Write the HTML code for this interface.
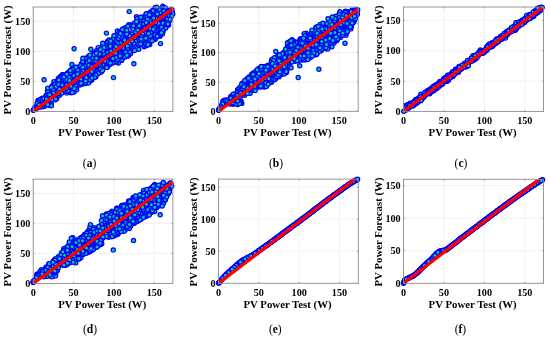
<!DOCTYPE html><html><head><meta charset="utf-8"><title>PV forecast scatter</title><style>html,body{margin:0;padding:0;background:#fff;overflow:hidden}svg{display:block;filter:blur(0.3px)}</style></head><body><svg width="550" height="339" viewBox="0 0 550 339"><rect width="550" height="339" fill="#fff"/><g stroke="#efefef" stroke-width="0.8"><line x1="73.6" y1="7" x2="73.6" y2="111.4"/><line x1="33.2" y1="81.3" x2="172.9" y2="81.3"/><line x1="113.9" y1="7" x2="113.9" y2="111.4"/><line x1="33.2" y1="51.3" x2="172.9" y2="51.3"/><line x1="154.3" y1="7" x2="154.3" y2="111.4"/><line x1="33.2" y1="21.2" x2="172.9" y2="21.2"/></g><g fill="#00cca2" stroke="#0000ff" stroke-width="1.2"><circle cx="53.5" cy="86.6" r="2.1"/><circle cx="82" cy="66.3" r="2.1"/><circle cx="90.5" cy="80.8" r="2.1"/><circle cx="75.6" cy="79.5" r="2.1"/><circle cx="43.8" cy="101.9" r="2.1"/><circle cx="44" cy="102.3" r="2.1"/><circle cx="127.4" cy="43.2" r="2.1"/><circle cx="120" cy="42.7" r="2.1"/><circle cx="157.3" cy="32.3" r="2.1"/><circle cx="127.3" cy="40.7" r="2.1"/><circle cx="94.2" cy="52.8" r="2.1"/><circle cx="59.7" cy="90.8" r="2.1"/><circle cx="171.8" cy="14.7" r="2.1"/><circle cx="118.4" cy="48.7" r="2.1"/><circle cx="155.2" cy="39.2" r="2.1"/><circle cx="34.8" cy="108.8" r="2.1"/><circle cx="120.7" cy="52.6" r="2.1"/><circle cx="69.5" cy="84.5" r="2.1"/><circle cx="70.1" cy="79" r="2.1"/><circle cx="94.2" cy="53" r="2.1"/><circle cx="165.3" cy="21.2" r="2.1"/><circle cx="108.4" cy="64.3" r="2.1"/><circle cx="151.5" cy="22.1" r="2.1"/><circle cx="69.9" cy="91.3" r="2.1"/><circle cx="164.4" cy="17.2" r="2.1"/><circle cx="131.3" cy="47.1" r="2.1"/><circle cx="76" cy="85.4" r="2.1"/><circle cx="150.8" cy="36" r="2.1"/><circle cx="134.8" cy="36.7" r="2.1"/><circle cx="157.9" cy="8.7" r="2.1"/><circle cx="88.7" cy="56.2" r="2.1"/><circle cx="70.7" cy="79.7" r="2.1"/><circle cx="40.9" cy="103.4" r="2.1"/><circle cx="91.6" cy="77.6" r="2.1"/><circle cx="113.7" cy="43.6" r="2.1"/><circle cx="172.4" cy="12.3" r="2.1"/><circle cx="122" cy="32.2" r="2.1"/><circle cx="95.1" cy="61.3" r="2.1"/><circle cx="42.5" cy="98.1" r="2.1"/><circle cx="165.8" cy="9.8" r="2.1"/><circle cx="110.1" cy="46.6" r="2.1"/><circle cx="140.7" cy="40.7" r="2.1"/><circle cx="56.9" cy="82.7" r="2.1"/><circle cx="128" cy="34.4" r="2.1"/><circle cx="133.4" cy="38.3" r="2.1"/><circle cx="160.9" cy="17.5" r="2.1"/><circle cx="70.7" cy="92.7" r="2.1"/><circle cx="101.4" cy="65.6" r="2.1"/><circle cx="69.9" cy="91.1" r="2.1"/><circle cx="64.2" cy="79" r="2.1"/><circle cx="130.9" cy="50.3" r="2.1"/><circle cx="117.1" cy="55.1" r="2.1"/><circle cx="143.5" cy="40.8" r="2.1"/><circle cx="147.9" cy="40.3" r="2.1"/><circle cx="100.1" cy="58.1" r="2.1"/><circle cx="82.5" cy="78" r="2.1"/><circle cx="133.4" cy="27.8" r="2.1"/><circle cx="85.5" cy="62.4" r="2.1"/><circle cx="66.2" cy="89.1" r="2.1"/><circle cx="53.8" cy="88.5" r="2.1"/><circle cx="115.5" cy="41.5" r="2.1"/><circle cx="98.7" cy="72.7" r="2.1"/><circle cx="151.7" cy="17.4" r="2.1"/><circle cx="145.1" cy="35.1" r="2.1"/><circle cx="100.2" cy="56" r="2.1"/><circle cx="159.7" cy="9.8" r="2.1"/><circle cx="148.6" cy="20.6" r="2.1"/><circle cx="95.9" cy="76.7" r="2.1"/><circle cx="89.9" cy="70.5" r="2.1"/><circle cx="98.2" cy="47.6" r="2.1"/><circle cx="111.3" cy="54.4" r="2.1"/><circle cx="68.7" cy="89.5" r="2.1"/><circle cx="110.1" cy="57" r="2.1"/><circle cx="147.9" cy="25.3" r="2.1"/><circle cx="135.6" cy="44.2" r="2.1"/><circle cx="48.8" cy="99.9" r="2.1"/><circle cx="48.3" cy="97.9" r="2.1"/><circle cx="161" cy="11.5" r="2.1"/><circle cx="60.1" cy="76.7" r="2.1"/><circle cx="63.9" cy="80.6" r="2.1"/><circle cx="154.8" cy="17.2" r="2.1"/><circle cx="168.5" cy="25.1" r="2.1"/><circle cx="151.5" cy="17.8" r="2.1"/><circle cx="104" cy="55.7" r="2.1"/><circle cx="171.6" cy="12.1" r="2.1"/><circle cx="48.9" cy="95.8" r="2.1"/><circle cx="39" cy="101" r="2.1"/><circle cx="160.3" cy="28.7" r="2.1"/><circle cx="150.3" cy="12.2" r="2.1"/><circle cx="49.5" cy="98.9" r="2.1"/><circle cx="71.9" cy="64.5" r="2.1"/><circle cx="158.4" cy="13.7" r="2.1"/><circle cx="120.7" cy="47.8" r="2.1"/><circle cx="164.7" cy="28.2" r="2.1"/><circle cx="90.1" cy="57.7" r="2.1"/><circle cx="124.5" cy="28.1" r="2.1"/><circle cx="172.3" cy="14.1" r="2.1"/><circle cx="144.5" cy="32.2" r="2.1"/><circle cx="141.9" cy="40.1" r="2.1"/><circle cx="97.1" cy="61.8" r="2.1"/><circle cx="73.8" cy="71.4" r="2.1"/><circle cx="68.6" cy="81.7" r="2.1"/><circle cx="113.5" cy="53.1" r="2.1"/><circle cx="91.5" cy="76.8" r="2.1"/><circle cx="51.2" cy="95.6" r="2.1"/><circle cx="88.2" cy="58.7" r="2.1"/><circle cx="116.7" cy="36.9" r="2.1"/><circle cx="38" cy="100.5" r="2.1"/><circle cx="120.7" cy="45.3" r="2.1"/><circle cx="88.3" cy="57" r="2.1"/><circle cx="112.7" cy="51.4" r="2.1"/><circle cx="146.3" cy="41.5" r="2.1"/><circle cx="35" cy="108.6" r="2.1"/><circle cx="102.7" cy="52.9" r="2.1"/><circle cx="166.7" cy="20.9" r="2.1"/><circle cx="138.9" cy="41.1" r="2.1"/><circle cx="128.4" cy="39.7" r="2.1"/><circle cx="49.6" cy="91" r="2.1"/><circle cx="165" cy="17.5" r="2.1"/><circle cx="88.6" cy="83.1" r="2.1"/><circle cx="108.1" cy="65.6" r="2.1"/><circle cx="70" cy="91" r="2.1"/><circle cx="133.5" cy="44.2" r="2.1"/><circle cx="130.2" cy="34.8" r="2.1"/><circle cx="123.7" cy="48.7" r="2.1"/><circle cx="57.9" cy="88.3" r="2.1"/><circle cx="92.4" cy="78.2" r="2.1"/><circle cx="75.1" cy="86.4" r="2.1"/><circle cx="86.3" cy="60.7" r="2.1"/><circle cx="129.4" cy="33.4" r="2.1"/><circle cx="94.1" cy="69.6" r="2.1"/><circle cx="149.2" cy="21.1" r="2.1"/><circle cx="94.1" cy="59.1" r="2.1"/><circle cx="166.6" cy="10.6" r="2.1"/><circle cx="149.1" cy="26.7" r="2.1"/><circle cx="125.8" cy="50.8" r="2.1"/><circle cx="47.6" cy="90.8" r="2.1"/><circle cx="117.4" cy="43.8" r="2.1"/><circle cx="139.6" cy="33.9" r="2.1"/><circle cx="44.4" cy="100.9" r="2.1"/><circle cx="144.2" cy="46.7" r="2.1"/><circle cx="150.4" cy="36.6" r="2.1"/><circle cx="120.1" cy="33.3" r="2.1"/><circle cx="38.1" cy="106.1" r="2.1"/><circle cx="60.9" cy="90.7" r="2.1"/><circle cx="76.7" cy="89.8" r="2.1"/><circle cx="160" cy="24.6" r="2.1"/><circle cx="105.1" cy="65.3" r="2.1"/><circle cx="87" cy="75.2" r="2.1"/><circle cx="167.3" cy="20" r="2.1"/><circle cx="67.1" cy="85.5" r="2.1"/><circle cx="164.5" cy="17.2" r="2.1"/><circle cx="148.1" cy="14.6" r="2.1"/><circle cx="79.3" cy="73.1" r="2.1"/><circle cx="66.4" cy="75.5" r="2.1"/><circle cx="128.8" cy="24.7" r="2.1"/><circle cx="46" cy="96.5" r="2.1"/><circle cx="61.9" cy="79.4" r="2.1"/><circle cx="117.3" cy="54.3" r="2.1"/><circle cx="85.3" cy="83.4" r="2.1"/><circle cx="171.1" cy="11.7" r="2.1"/><circle cx="90.3" cy="58" r="2.1"/><circle cx="46.6" cy="100.7" r="2.1"/><circle cx="87.3" cy="76.1" r="2.1"/><circle cx="112.9" cy="56.6" r="2.1"/><circle cx="105.3" cy="57.7" r="2.1"/><circle cx="131.9" cy="34.1" r="2.1"/><circle cx="88.9" cy="59.1" r="2.1"/><circle cx="122.1" cy="33.8" r="2.1"/><circle cx="154.4" cy="38.3" r="2.1"/><circle cx="117.4" cy="34" r="2.1"/><circle cx="144.8" cy="35.6" r="2.1"/><circle cx="46.6" cy="102.5" r="2.1"/><circle cx="128.5" cy="55.5" r="2.1"/><circle cx="121.3" cy="55.3" r="2.1"/><circle cx="128.9" cy="38.7" r="2.1"/><circle cx="129" cy="44.6" r="2.1"/><circle cx="56.1" cy="83.9" r="2.1"/><circle cx="135.3" cy="31.8" r="2.1"/><circle cx="45.3" cy="105.7" r="2.1"/><circle cx="158.1" cy="32.1" r="2.1"/><circle cx="147.5" cy="39.9" r="2.1"/><circle cx="131.1" cy="49.5" r="2.1"/><circle cx="152" cy="26.8" r="2.1"/><circle cx="67.3" cy="86.6" r="2.1"/><circle cx="107.3" cy="42.1" r="2.1"/><circle cx="88.7" cy="64.4" r="2.1"/><circle cx="144.6" cy="40.4" r="2.1"/><circle cx="120.6" cy="37.1" r="2.1"/><circle cx="93.2" cy="60" r="2.1"/><circle cx="109.6" cy="60.2" r="2.1"/><circle cx="141" cy="32" r="2.1"/><circle cx="85.6" cy="75.5" r="2.1"/><circle cx="142.8" cy="21" r="2.1"/><circle cx="143.9" cy="24" r="2.1"/><circle cx="74.6" cy="84.5" r="2.1"/><circle cx="167.2" cy="20.2" r="2.1"/><circle cx="84.6" cy="68.5" r="2.1"/><circle cx="121.5" cy="60.4" r="2.1"/><circle cx="107.1" cy="52.3" r="2.1"/><circle cx="116.8" cy="41.7" r="2.1"/><circle cx="39.1" cy="101.2" r="2.1"/><circle cx="43.9" cy="98.4" r="2.1"/><circle cx="118.4" cy="63.1" r="2.1"/><circle cx="146.6" cy="23.4" r="2.1"/><circle cx="143" cy="17.3" r="2.1"/><circle cx="82.7" cy="67.3" r="2.1"/><circle cx="133.3" cy="48.2" r="2.1"/><circle cx="82.6" cy="69.4" r="2.1"/><circle cx="83.9" cy="78.6" r="2.1"/><circle cx="167.7" cy="23.1" r="2.1"/><circle cx="106.4" cy="58.3" r="2.1"/><circle cx="41.6" cy="99.2" r="2.1"/><circle cx="125.6" cy="34.4" r="2.1"/><circle cx="112.7" cy="52.2" r="2.1"/><circle cx="70.9" cy="74.4" r="2.1"/><circle cx="80.8" cy="75.6" r="2.1"/><circle cx="151.9" cy="38.9" r="2.1"/><circle cx="119.4" cy="52.7" r="2.1"/><circle cx="135.1" cy="38.9" r="2.1"/><circle cx="164.8" cy="27.8" r="2.1"/><circle cx="162.2" cy="19.2" r="2.1"/><circle cx="130.8" cy="25.1" r="2.1"/><circle cx="162.5" cy="10.1" r="2.1"/><circle cx="145.3" cy="33.9" r="2.1"/><circle cx="160.1" cy="36.3" r="2.1"/><circle cx="57.1" cy="81.1" r="2.1"/><circle cx="107.3" cy="49.5" r="2.1"/><circle cx="74.4" cy="72.7" r="2.1"/><circle cx="154.5" cy="32.5" r="2.1"/><circle cx="67" cy="86.4" r="2.1"/><circle cx="71.3" cy="90.8" r="2.1"/><circle cx="169" cy="18.1" r="2.1"/><circle cx="167.8" cy="19.3" r="2.1"/><circle cx="133.9" cy="63.7" r="2.1"/><circle cx="82.2" cy="71.5" r="2.1"/><circle cx="63.6" cy="75.2" r="2.1"/><circle cx="104.7" cy="44.4" r="2.1"/><circle cx="106.5" cy="67.2" r="2.1"/><circle cx="115.2" cy="47.5" r="2.1"/><circle cx="164.1" cy="19.8" r="2.1"/><circle cx="99.6" cy="58.6" r="2.1"/><circle cx="160.2" cy="25" r="2.1"/><circle cx="50.3" cy="90" r="2.1"/><circle cx="133.5" cy="28.3" r="2.1"/><circle cx="141.7" cy="17.5" r="2.1"/><circle cx="64.7" cy="79" r="2.1"/><circle cx="126.8" cy="55.7" r="2.1"/><circle cx="89.7" cy="63.9" r="2.1"/><circle cx="62.2" cy="78.9" r="2.1"/><circle cx="34.3" cy="109.1" r="2.1"/><circle cx="115.5" cy="55.6" r="2.1"/><circle cx="104.7" cy="46" r="2.1"/><circle cx="50.3" cy="90.4" r="2.1"/><circle cx="44.1" cy="79.7" r="2.1"/><circle cx="162.3" cy="27" r="2.1"/><circle cx="147.5" cy="34.7" r="2.1"/><circle cx="131.8" cy="25.5" r="2.1"/><circle cx="59.1" cy="84" r="2.1"/><circle cx="56.7" cy="92" r="2.1"/><circle cx="59.1" cy="89.1" r="2.1"/><circle cx="118.9" cy="36.7" r="2.1"/><circle cx="80.9" cy="70.8" r="2.1"/><circle cx="51.1" cy="100.1" r="2.1"/><circle cx="156.3" cy="37.2" r="2.1"/><circle cx="98.6" cy="62" r="2.1"/><circle cx="119.4" cy="42.1" r="2.1"/><circle cx="106.8" cy="57" r="2.1"/><circle cx="52.7" cy="89.3" r="2.1"/><circle cx="98.6" cy="52.7" r="2.1"/><circle cx="87.7" cy="60.4" r="2.1"/><circle cx="139.9" cy="35.1" r="2.1"/><circle cx="84.5" cy="61.5" r="2.1"/><circle cx="169.4" cy="21.1" r="2.1"/><circle cx="83.4" cy="82.2" r="2.1"/><circle cx="98.7" cy="68" r="2.1"/><circle cx="137.3" cy="30.9" r="2.1"/><circle cx="152" cy="26.6" r="2.1"/><circle cx="152.6" cy="10.8" r="2.1"/><circle cx="33.8" cy="109.7" r="2.1"/><circle cx="42.7" cy="104.3" r="2.1"/><circle cx="102" cy="62.3" r="2.1"/><circle cx="125.6" cy="30.8" r="2.1"/><circle cx="124.3" cy="53.5" r="2.1"/><circle cx="106.4" cy="48.5" r="2.1"/><circle cx="122.8" cy="37.8" r="2.1"/><circle cx="70.5" cy="83.4" r="2.1"/><circle cx="159.8" cy="33" r="2.1"/><circle cx="88.3" cy="58.7" r="2.1"/><circle cx="111.8" cy="44.9" r="2.1"/><circle cx="95.9" cy="61.5" r="2.1"/><circle cx="76.4" cy="87" r="2.1"/><circle cx="42.4" cy="101.5" r="2.1"/><circle cx="74.8" cy="80.2" r="2.1"/><circle cx="163" cy="31.7" r="2.1"/><circle cx="169.9" cy="15.9" r="2.1"/><circle cx="145.2" cy="16.8" r="2.1"/><circle cx="59.7" cy="91" r="2.1"/><circle cx="164.1" cy="22.9" r="2.1"/><circle cx="85.9" cy="81.1" r="2.1"/><circle cx="117.8" cy="35.8" r="2.1"/><circle cx="164.7" cy="17.2" r="2.1"/><circle cx="78.3" cy="67.1" r="2.1"/><circle cx="139.4" cy="44.4" r="2.1"/><circle cx="49" cy="103.3" r="2.1"/><circle cx="112.7" cy="43.5" r="2.1"/><circle cx="137" cy="22.8" r="2.1"/><circle cx="55.4" cy="99.7" r="2.1"/><circle cx="56.7" cy="98.4" r="2.1"/><circle cx="132.1" cy="45.9" r="2.1"/><circle cx="114.8" cy="58.5" r="2.1"/><circle cx="65.2" cy="78" r="2.1"/><circle cx="83.7" cy="83.5" r="2.1"/><circle cx="159.2" cy="35" r="2.1"/><circle cx="100.9" cy="58.6" r="2.1"/><circle cx="92.6" cy="73" r="2.1"/><circle cx="101.4" cy="59.3" r="2.1"/><circle cx="114.6" cy="42.2" r="2.1"/><circle cx="136.9" cy="41.3" r="2.1"/><circle cx="35.2" cy="107.5" r="2.1"/><circle cx="40.6" cy="105.9" r="2.1"/><circle cx="136.5" cy="16.8" r="2.1"/><circle cx="46.1" cy="95.4" r="2.1"/><circle cx="149.3" cy="32.4" r="2.1"/><circle cx="100.1" cy="62.8" r="2.1"/><circle cx="128.9" cy="41.4" r="2.1"/><circle cx="155" cy="7.7" r="2.1"/><circle cx="80.6" cy="84.6" r="2.1"/><circle cx="125.6" cy="35.3" r="2.1"/><circle cx="80" cy="72" r="2.1"/><circle cx="171.9" cy="9.8" r="2.1"/><circle cx="91.9" cy="66.1" r="2.1"/><circle cx="76.3" cy="83.7" r="2.1"/><circle cx="161.7" cy="28.9" r="2.1"/><circle cx="160.2" cy="8.8" r="2.1"/><circle cx="163.7" cy="27.1" r="2.1"/><circle cx="93" cy="54.3" r="2.1"/><circle cx="104" cy="46.4" r="2.1"/><circle cx="79.7" cy="73.4" r="2.1"/><circle cx="71.3" cy="75.9" r="2.1"/><circle cx="97.6" cy="65.5" r="2.1"/><circle cx="121.9" cy="59.8" r="2.1"/><circle cx="134.8" cy="36.3" r="2.1"/><circle cx="149.7" cy="44.6" r="2.1"/><circle cx="128.4" cy="50.1" r="2.1"/><circle cx="115.2" cy="40.1" r="2.1"/><circle cx="71.3" cy="70.3" r="2.1"/><circle cx="139.5" cy="20.1" r="2.1"/><circle cx="105.3" cy="45.5" r="2.1"/><circle cx="54.1" cy="95.3" r="2.1"/><circle cx="53.7" cy="85.3" r="2.1"/><circle cx="97.2" cy="53.3" r="2.1"/><circle cx="99.6" cy="59.7" r="2.1"/><circle cx="34.4" cy="109.1" r="2.1"/><circle cx="139.4" cy="35.1" r="2.1"/><circle cx="38.1" cy="107.1" r="2.1"/><circle cx="55.4" cy="94.3" r="2.1"/><circle cx="155.8" cy="31.6" r="2.1"/><circle cx="94.8" cy="60.7" r="2.1"/><circle cx="62.2" cy="74.6" r="2.1"/><circle cx="133.5" cy="39.5" r="2.1"/><circle cx="88.4" cy="67.3" r="2.1"/><circle cx="127.4" cy="54.6" r="2.1"/><circle cx="51" cy="89.6" r="2.1"/><circle cx="73.6" cy="85" r="2.1"/><circle cx="70.4" cy="82.4" r="2.1"/><circle cx="172.8" cy="13.9" r="2.1"/><circle cx="65.6" cy="83.6" r="2.1"/><circle cx="53.1" cy="91.6" r="2.1"/><circle cx="161.2" cy="15" r="2.1"/><circle cx="87.7" cy="59" r="2.1"/><circle cx="137.5" cy="22.2" r="2.1"/><circle cx="72.7" cy="73.6" r="2.1"/><circle cx="60" cy="90.1" r="2.1"/><circle cx="34.4" cy="109.4" r="2.1"/><circle cx="150.9" cy="30.8" r="2.1"/><circle cx="138.6" cy="31.9" r="2.1"/><circle cx="83.6" cy="62.9" r="2.1"/><circle cx="161.2" cy="25.8" r="2.1"/><circle cx="33.2" cy="110.2" r="2.1"/><circle cx="129.6" cy="45.1" r="2.1"/><circle cx="160.7" cy="33.8" r="2.1"/><circle cx="90.8" cy="60.6" r="2.1"/><circle cx="94" cy="54.4" r="2.1"/><circle cx="107" cy="48.1" r="2.1"/><circle cx="139.8" cy="31.9" r="2.1"/><circle cx="103" cy="53.3" r="2.1"/><circle cx="135.8" cy="38.3" r="2.1"/><circle cx="155.6" cy="16.3" r="2.1"/><circle cx="163.6" cy="24.2" r="2.1"/><circle cx="66.7" cy="92.9" r="2.1"/><circle cx="143.9" cy="27.3" r="2.1"/><circle cx="136.6" cy="30.9" r="2.1"/><circle cx="171.3" cy="10.1" r="2.1"/><circle cx="47.8" cy="99.7" r="2.1"/><circle cx="56.3" cy="83.3" r="2.1"/><circle cx="64.7" cy="88.2" r="2.1"/><circle cx="88.7" cy="71.4" r="2.1"/><circle cx="151.6" cy="27.1" r="2.1"/><circle cx="90.6" cy="68.5" r="2.1"/><circle cx="68.1" cy="73.2" r="2.1"/><circle cx="62.6" cy="81.8" r="2.1"/><circle cx="108" cy="62.7" r="2.1"/><circle cx="89.8" cy="74.1" r="2.1"/><circle cx="49.8" cy="105.6" r="2.1"/><circle cx="159.2" cy="13.2" r="2.1"/><circle cx="86.8" cy="73.8" r="2.1"/><circle cx="73.1" cy="74" r="2.1"/><circle cx="124.7" cy="56.2" r="2.1"/><circle cx="147.8" cy="22.6" r="2.1"/><circle cx="69.2" cy="90.2" r="2.1"/><circle cx="166.1" cy="22.1" r="2.1"/><circle cx="136.9" cy="20.7" r="2.1"/><circle cx="54.7" cy="90" r="2.1"/><circle cx="151" cy="36" r="2.1"/><circle cx="136" cy="34.4" r="2.1"/><circle cx="120.2" cy="57.1" r="2.1"/><circle cx="147" cy="38.5" r="2.1"/><circle cx="160.6" cy="12.7" r="2.1"/><circle cx="126.5" cy="56.2" r="2.1"/><circle cx="82.1" cy="77.9" r="2.1"/><circle cx="115.8" cy="59.6" r="2.1"/><circle cx="134.1" cy="38.5" r="2.1"/><circle cx="151.6" cy="30.5" r="2.1"/><circle cx="152.8" cy="27.6" r="2.1"/><circle cx="93" cy="77.1" r="2.1"/><circle cx="90" cy="63.5" r="2.1"/><circle cx="65.2" cy="83.9" r="2.1"/><circle cx="87.2" cy="61" r="2.1"/><circle cx="102.3" cy="52.9" r="2.1"/><circle cx="80.7" cy="81.9" r="2.1"/><circle cx="148.2" cy="20.9" r="2.1"/><circle cx="48.6" cy="89.5" r="2.1"/><circle cx="108.7" cy="50.4" r="2.1"/><circle cx="51.6" cy="99.2" r="2.1"/><circle cx="90.8" cy="49.2" r="2.1"/><circle cx="158.5" cy="32.5" r="2.1"/><circle cx="54.1" cy="89.4" r="2.1"/><circle cx="117.1" cy="34.8" r="2.1"/><circle cx="106.5" cy="49.8" r="2.1"/><circle cx="96.5" cy="50.6" r="2.1"/><circle cx="73.5" cy="81.1" r="2.1"/><circle cx="132.7" cy="48.7" r="2.1"/><circle cx="66.3" cy="90.9" r="2.1"/><circle cx="54.2" cy="86.6" r="2.1"/><circle cx="97.9" cy="73.5" r="2.1"/><circle cx="51.7" cy="91.4" r="2.1"/><circle cx="84.8" cy="80.7" r="2.1"/><circle cx="43.4" cy="104.6" r="2.1"/><circle cx="106.5" cy="59.8" r="2.1"/><circle cx="145.8" cy="20.7" r="2.1"/><circle cx="98" cy="53.3" r="2.1"/><circle cx="84.6" cy="69.1" r="2.1"/><circle cx="39.6" cy="101.8" r="2.1"/><circle cx="50.9" cy="100.6" r="2.1"/><circle cx="38.1" cy="105.2" r="2.1"/><circle cx="106.2" cy="66.1" r="2.1"/><circle cx="154.4" cy="27" r="2.1"/><circle cx="129.3" cy="53.8" r="2.1"/><circle cx="161.2" cy="20.3" r="2.1"/><circle cx="95.1" cy="59.1" r="2.1"/><circle cx="115.5" cy="35.8" r="2.1"/><circle cx="65.1" cy="84.7" r="2.1"/><circle cx="164.9" cy="15.4" r="2.1"/><circle cx="98.7" cy="61.9" r="2.1"/><circle cx="122.1" cy="57" r="2.1"/><circle cx="164.2" cy="14.1" r="2.1"/><circle cx="144.5" cy="45.7" r="2.1"/><circle cx="87" cy="72.2" r="2.1"/><circle cx="160.6" cy="27.1" r="2.1"/><circle cx="154.6" cy="31.5" r="2.1"/><circle cx="170.1" cy="10.4" r="2.1"/><circle cx="144.2" cy="25.9" r="2.1"/><circle cx="159.2" cy="28.7" r="2.1"/><circle cx="91.7" cy="80.1" r="2.1"/><circle cx="112.8" cy="62.7" r="2.1"/><circle cx="69.1" cy="78.9" r="2.1"/><circle cx="90" cy="79.8" r="2.1"/><circle cx="143.6" cy="35.9" r="2.1"/><circle cx="67.4" cy="73.3" r="2.1"/><circle cx="146.2" cy="14.5" r="2.1"/><circle cx="113.8" cy="52" r="2.1"/><circle cx="148.1" cy="39.5" r="2.1"/><circle cx="129.1" cy="45.4" r="2.1"/><circle cx="97.3" cy="74.1" r="2.1"/><circle cx="59.8" cy="95" r="2.1"/><circle cx="165.1" cy="25.7" r="2.1"/><circle cx="95.8" cy="64.9" r="2.1"/><circle cx="134.5" cy="45.6" r="2.1"/><circle cx="101.6" cy="50.7" r="2.1"/><circle cx="156.5" cy="30.9" r="2.1"/><circle cx="136.7" cy="27" r="2.1"/><circle cx="84.3" cy="81" r="2.1"/><circle cx="153.4" cy="12.7" r="2.1"/><circle cx="76" cy="76.2" r="2.1"/><circle cx="117.7" cy="42.2" r="2.1"/><circle cx="160.5" cy="43.6" r="2.1"/><circle cx="85.1" cy="83.5" r="2.1"/><circle cx="156.1" cy="31.4" r="2.1"/><circle cx="110.8" cy="42.1" r="2.1"/><circle cx="168.4" cy="19.9" r="2.1"/><circle cx="70.3" cy="91.5" r="2.1"/><circle cx="162" cy="21.6" r="2.1"/><circle cx="82.4" cy="84" r="2.1"/><circle cx="143.9" cy="29.5" r="2.1"/><circle cx="152.5" cy="24.4" r="2.1"/><circle cx="58.1" cy="95.8" r="2.1"/><circle cx="114.5" cy="39.6" r="2.1"/><circle cx="52.8" cy="85.5" r="2.1"/><circle cx="165.1" cy="10.5" r="2.1"/><circle cx="105.4" cy="52.8" r="2.1"/><circle cx="93" cy="69.5" r="2.1"/><circle cx="112.1" cy="54.4" r="2.1"/><circle cx="58.6" cy="91.3" r="2.1"/><circle cx="56.2" cy="83.1" r="2.1"/><circle cx="84.8" cy="76.7" r="2.1"/><circle cx="116.8" cy="34.7" r="2.1"/><circle cx="74.8" cy="74.2" r="2.1"/><circle cx="157.1" cy="11.7" r="2.1"/><circle cx="70.3" cy="74" r="2.1"/><circle cx="40.3" cy="101.7" r="2.1"/><circle cx="49.4" cy="105" r="2.1"/><circle cx="65.8" cy="88.9" r="2.1"/><circle cx="140.7" cy="37.4" r="2.1"/><circle cx="132.8" cy="49.5" r="2.1"/><circle cx="61.4" cy="76.7" r="2.1"/><circle cx="96.9" cy="58.1" r="2.1"/><circle cx="101.3" cy="72" r="2.1"/><circle cx="118.3" cy="38.5" r="2.1"/><circle cx="89.8" cy="59.6" r="2.1"/><circle cx="111.7" cy="48" r="2.1"/><circle cx="92.2" cy="58.1" r="2.1"/><circle cx="90.1" cy="79.8" r="2.1"/><circle cx="36.2" cy="107.2" r="2.1"/><circle cx="107.5" cy="43.4" r="2.1"/><circle cx="98.2" cy="60.1" r="2.1"/><circle cx="90.2" cy="66.1" r="2.1"/><circle cx="63.8" cy="86.4" r="2.1"/><circle cx="146.7" cy="23.9" r="2.1"/><circle cx="143.9" cy="20.9" r="2.1"/><circle cx="50.5" cy="93.3" r="2.1"/><circle cx="89.7" cy="56.4" r="2.1"/><circle cx="79.6" cy="85" r="2.1"/><circle cx="118" cy="58.2" r="2.1"/><circle cx="102.5" cy="46" r="2.1"/><circle cx="67.5" cy="79" r="2.1"/><circle cx="118.6" cy="56.2" r="2.1"/><circle cx="151.9" cy="19.8" r="2.1"/><circle cx="43.8" cy="106.2" r="2.1"/><circle cx="60.8" cy="83.2" r="2.1"/><circle cx="50" cy="102.7" r="2.1"/><circle cx="120.2" cy="47.3" r="2.1"/><circle cx="148.2" cy="28.4" r="2.1"/><circle cx="165.4" cy="25" r="2.1"/><circle cx="122.5" cy="29.3" r="2.1"/><circle cx="111.2" cy="47.6" r="2.1"/><circle cx="53.9" cy="81.8" r="2.1"/><circle cx="98.2" cy="73.4" r="2.1"/><circle cx="77" cy="76.9" r="2.1"/><circle cx="141.2" cy="28.5" r="2.1"/><circle cx="171.2" cy="16" r="2.1"/><circle cx="160.8" cy="24.8" r="2.1"/><circle cx="81.4" cy="70.5" r="2.1"/><circle cx="58.3" cy="78.5" r="2.1"/><circle cx="169.1" cy="10.6" r="2.1"/><circle cx="88.3" cy="67.1" r="2.1"/><circle cx="110.8" cy="46.7" r="2.1"/><circle cx="150.5" cy="39.8" r="2.1"/><circle cx="148.1" cy="32.9" r="2.1"/><circle cx="150.5" cy="15.4" r="2.1"/><circle cx="60.9" cy="77.5" r="2.1"/><circle cx="46.9" cy="101.5" r="2.1"/><circle cx="82.1" cy="74.9" r="2.1"/><circle cx="163.7" cy="17.1" r="2.1"/><circle cx="135.1" cy="38.1" r="2.1"/><circle cx="130.6" cy="53.7" r="2.1"/><circle cx="127.3" cy="38.7" r="2.1"/><circle cx="165.8" cy="28.1" r="2.1"/><circle cx="47.7" cy="92" r="2.1"/><circle cx="48.2" cy="94.7" r="2.1"/><circle cx="156.5" cy="30.5" r="2.1"/><circle cx="156.8" cy="21.8" r="2.1"/><circle cx="134.1" cy="23.2" r="2.1"/><circle cx="146.3" cy="14.3" r="2.1"/><circle cx="72.2" cy="79.7" r="2.1"/><circle cx="129.3" cy="37.2" r="2.1"/><circle cx="127.5" cy="55.2" r="2.1"/><circle cx="79.8" cy="81.9" r="2.1"/><circle cx="142.5" cy="25.6" r="2.1"/><circle cx="112.8" cy="39.3" r="2.1"/><circle cx="143.1" cy="39.6" r="2.1"/><circle cx="102" cy="68.8" r="2.1"/><circle cx="34.8" cy="108.8" r="2.1"/><circle cx="116.6" cy="62.2" r="2.1"/><circle cx="127" cy="43" r="2.1"/><circle cx="155.6" cy="38" r="2.1"/><circle cx="47.7" cy="88.1" r="2.1"/><circle cx="124.6" cy="43.5" r="2.1"/><circle cx="97.8" cy="65.6" r="2.1"/><circle cx="87.3" cy="58.3" r="2.1"/><circle cx="138.8" cy="49.2" r="2.1"/><circle cx="129.6" cy="52" r="2.1"/><circle cx="102.7" cy="58.5" r="2.1"/><circle cx="85.4" cy="83" r="2.1"/><circle cx="152.2" cy="12.6" r="2.1"/><circle cx="42" cy="99.7" r="2.1"/><circle cx="51.3" cy="104.1" r="2.1"/><circle cx="159.3" cy="9.3" r="2.1"/><circle cx="113.6" cy="50.3" r="2.1"/><circle cx="167.2" cy="16.8" r="2.1"/><circle cx="81.5" cy="74" r="2.1"/><circle cx="161.3" cy="19.4" r="2.1"/><circle cx="46.9" cy="95" r="2.1"/><circle cx="102.7" cy="64.8" r="2.1"/><circle cx="55.1" cy="93.5" r="2.1"/><circle cx="139" cy="39.3" r="2.1"/><circle cx="110.9" cy="50.6" r="2.1"/><circle cx="37.8" cy="104.7" r="2.1"/><circle cx="83.4" cy="61.7" r="2.1"/><circle cx="91" cy="65.7" r="2.1"/><circle cx="73" cy="89.4" r="2.1"/><circle cx="162.6" cy="6.3" r="2.1"/><circle cx="141.4" cy="39.3" r="2.1"/><circle cx="129.2" cy="11.6" r="2.1"/><circle cx="35.1" cy="107" r="2.1"/><circle cx="89.9" cy="55.1" r="2.1"/><circle cx="156.4" cy="13" r="2.1"/><circle cx="127.6" cy="48.2" r="2.1"/><circle cx="66.3" cy="91.6" r="2.1"/><circle cx="141.2" cy="37.5" r="2.1"/><circle cx="150.8" cy="32.7" r="2.1"/><circle cx="72.8" cy="90" r="2.1"/><circle cx="71" cy="92.4" r="2.1"/><circle cx="155" cy="18.8" r="2.1"/><circle cx="170.2" cy="10.2" r="2.1"/><circle cx="57" cy="84.8" r="2.1"/><circle cx="107.2" cy="67.2" r="2.1"/><circle cx="68.9" cy="72" r="2.1"/><circle cx="63" cy="74.7" r="2.1"/><circle cx="101.7" cy="50.2" r="2.1"/><circle cx="114.4" cy="48.3" r="2.1"/><circle cx="122" cy="37.8" r="2.1"/><circle cx="42.6" cy="102.9" r="2.1"/><circle cx="74.1" cy="92" r="2.1"/><circle cx="81.4" cy="63.8" r="2.1"/><circle cx="119.8" cy="52.9" r="2.1"/><circle cx="114.5" cy="58.9" r="2.1"/><circle cx="108.8" cy="46.7" r="2.1"/><circle cx="134" cy="27.4" r="2.1"/><circle cx="132.1" cy="36.8" r="2.1"/><circle cx="53.2" cy="85.2" r="2.1"/><circle cx="34.3" cy="109.2" r="2.1"/><circle cx="154.9" cy="31.3" r="2.1"/><circle cx="74.4" cy="67.1" r="2.1"/><circle cx="121.4" cy="42.5" r="2.1"/><circle cx="42.7" cy="104.7" r="2.1"/><circle cx="95.5" cy="66.9" r="2.1"/><circle cx="125.9" cy="27.8" r="2.1"/><circle cx="96.7" cy="66" r="2.1"/><circle cx="127.8" cy="55" r="2.1"/><circle cx="85.2" cy="58.3" r="2.1"/><circle cx="40.5" cy="99.2" r="2.1"/><circle cx="126.6" cy="29.5" r="2.1"/><circle cx="97" cy="65.3" r="2.1"/><circle cx="79.5" cy="68.9" r="2.1"/><circle cx="78.4" cy="77.9" r="2.1"/><circle cx="67.7" cy="76.9" r="2.1"/><circle cx="34" cy="109.5" r="2.1"/><circle cx="102.4" cy="59.7" r="2.1"/><circle cx="127.1" cy="34.7" r="2.1"/><circle cx="128" cy="56" r="2.1"/><circle cx="109.6" cy="64.7" r="2.1"/><circle cx="132.5" cy="47" r="2.1"/><circle cx="72.9" cy="90.3" r="2.1"/><circle cx="160.3" cy="18.1" r="2.1"/><circle cx="164.2" cy="12.6" r="2.1"/><circle cx="61.7" cy="93.1" r="2.1"/><circle cx="62.9" cy="87.4" r="2.1"/><circle cx="52.7" cy="85.7" r="2.1"/><circle cx="136.8" cy="27.6" r="2.1"/><circle cx="127.2" cy="33" r="2.1"/><circle cx="72.3" cy="92.6" r="2.1"/><circle cx="69.3" cy="76.1" r="2.1"/><circle cx="58.6" cy="80.2" r="2.1"/><circle cx="41.8" cy="103.5" r="2.1"/><circle cx="116.9" cy="56.1" r="2.1"/><circle cx="35.7" cy="108.6" r="2.1"/><circle cx="115.7" cy="61.3" r="2.1"/><circle cx="161" cy="26.9" r="2.1"/><circle cx="100.4" cy="65.3" r="2.1"/><circle cx="146.2" cy="13.7" r="2.1"/><circle cx="107.5" cy="41.5" r="2.1"/><circle cx="93.2" cy="69.4" r="2.1"/><circle cx="140.6" cy="27.5" r="2.1"/><circle cx="41.3" cy="103.7" r="2.1"/><circle cx="78.5" cy="75.3" r="2.1"/><circle cx="156.4" cy="34.2" r="2.1"/><circle cx="124.4" cy="56.6" r="2.1"/><circle cx="115.7" cy="59.7" r="2.1"/><circle cx="73.5" cy="75.7" r="2.1"/><circle cx="91.2" cy="66.6" r="2.1"/><circle cx="98.4" cy="58.8" r="2.1"/><circle cx="124.7" cy="56.7" r="2.1"/><circle cx="109.7" cy="44.7" r="2.1"/><circle cx="107.1" cy="52" r="2.1"/><circle cx="97.7" cy="51.4" r="2.1"/><circle cx="73" cy="79.6" r="2.1"/><circle cx="134.6" cy="50.6" r="2.1"/><circle cx="114.7" cy="48.5" r="2.1"/><circle cx="71.2" cy="72.2" r="2.1"/><circle cx="71.5" cy="80.5" r="2.1"/><circle cx="58.8" cy="80.1" r="2.1"/><circle cx="44.5" cy="100.2" r="2.1"/><circle cx="149.7" cy="42.1" r="2.1"/><circle cx="97.2" cy="58.3" r="2.1"/><circle cx="105.2" cy="58.6" r="2.1"/><circle cx="74" cy="75.8" r="2.1"/><circle cx="165.7" cy="15.2" r="2.1"/><circle cx="135.7" cy="32" r="2.1"/><circle cx="65.3" cy="80.4" r="2.1"/><circle cx="110.3" cy="44.3" r="2.1"/><circle cx="116.1" cy="41.9" r="2.1"/><circle cx="144.7" cy="33" r="2.1"/><circle cx="70.8" cy="79.1" r="2.1"/><circle cx="58.3" cy="93.5" r="2.1"/><circle cx="125.9" cy="40.6" r="2.1"/><circle cx="78.7" cy="78.1" r="2.1"/><circle cx="72.3" cy="82.4" r="2.1"/><circle cx="66.5" cy="86.1" r="2.1"/><circle cx="44" cy="99.8" r="2.1"/><circle cx="68.4" cy="78.1" r="2.1"/><circle cx="119.3" cy="36" r="2.1"/><circle cx="42.4" cy="100.2" r="2.1"/><circle cx="77.7" cy="74.8" r="2.1"/><circle cx="59.7" cy="84.1" r="2.1"/><circle cx="151.2" cy="26.9" r="2.1"/><circle cx="100.7" cy="49" r="2.1"/><circle cx="38" cy="102.5" r="2.1"/><circle cx="106.8" cy="66" r="2.1"/><circle cx="146.9" cy="16.9" r="2.1"/><circle cx="67.4" cy="88.5" r="2.1"/><circle cx="164.7" cy="11.6" r="2.1"/><circle cx="44" cy="103" r="2.1"/><circle cx="56.9" cy="89.6" r="2.1"/><circle cx="114" cy="35.7" r="2.1"/><circle cx="149.6" cy="20.7" r="2.1"/><circle cx="108.4" cy="61.9" r="2.1"/><circle cx="163.6" cy="7.5" r="2.1"/><circle cx="68.8" cy="77.1" r="2.1"/><circle cx="50.1" cy="101.1" r="2.1"/><circle cx="70.8" cy="70" r="2.1"/><circle cx="162.9" cy="22.4" r="2.1"/><circle cx="56.4" cy="98.4" r="2.1"/><circle cx="149.2" cy="42.5" r="2.1"/><circle cx="107.1" cy="61" r="2.1"/><circle cx="125.8" cy="52.3" r="2.1"/><circle cx="149.8" cy="13.3" r="2.1"/><circle cx="132.8" cy="28.7" r="2.1"/><circle cx="147.4" cy="35.7" r="2.1"/><circle cx="77.2" cy="84.6" r="2.1"/><circle cx="130.4" cy="38.2" r="2.1"/><circle cx="66.7" cy="79.6" r="2.1"/><circle cx="41.2" cy="103.7" r="2.1"/><circle cx="38.6" cy="101.8" r="2.1"/><circle cx="122.5" cy="33.6" r="2.1"/><circle cx="62.9" cy="76.8" r="2.1"/><circle cx="68" cy="90.4" r="2.1"/><circle cx="73.1" cy="74.9" r="2.1"/><circle cx="120" cy="46.2" r="2.1"/><circle cx="92.7" cy="72.6" r="2.1"/><circle cx="122.1" cy="34.5" r="2.1"/><circle cx="73.3" cy="88" r="2.1"/><circle cx="85.4" cy="67.1" r="2.1"/><circle cx="150.4" cy="35.9" r="2.1"/><circle cx="167.8" cy="25" r="2.1"/><circle cx="53.3" cy="98.9" r="2.1"/><circle cx="167.2" cy="11.1" r="2.1"/><circle cx="149.6" cy="13.6" r="2.1"/><circle cx="117.4" cy="43.6" r="2.1"/><circle cx="156.3" cy="36.3" r="2.1"/><circle cx="113.2" cy="57.9" r="2.1"/><circle cx="106.4" cy="33.1" r="2.1"/><circle cx="127.3" cy="35.7" r="2.1"/><circle cx="37.1" cy="103.2" r="2.1"/><circle cx="51.2" cy="101.3" r="2.1"/><circle cx="156.7" cy="19.4" r="2.1"/><circle cx="35.5" cy="109.6" r="2.1"/><circle cx="115.5" cy="53.2" r="2.1"/><circle cx="44.3" cy="106.3" r="2.1"/><circle cx="85" cy="73.2" r="2.1"/><circle cx="138.1" cy="43.6" r="2.1"/><circle cx="51.6" cy="86.8" r="2.1"/><circle cx="52.9" cy="95.9" r="2.1"/><circle cx="145.6" cy="44" r="2.1"/><circle cx="113.5" cy="77.6" r="2.1"/><circle cx="106.5" cy="56.8" r="2.1"/><circle cx="104.8" cy="60.9" r="2.1"/><circle cx="146.8" cy="45.6" r="2.1"/><circle cx="157.4" cy="13.9" r="2.1"/><circle cx="170.5" cy="10.2" r="2.1"/><circle cx="105.4" cy="49.2" r="2.1"/><circle cx="103.2" cy="51.1" r="2.1"/><circle cx="163.9" cy="10.1" r="2.1"/><circle cx="115" cy="45" r="2.1"/><circle cx="77.8" cy="70.2" r="2.1"/><circle cx="65.3" cy="85" r="2.1"/><circle cx="112.2" cy="58.1" r="2.1"/><circle cx="49.7" cy="100.6" r="2.1"/><circle cx="157.6" cy="23.9" r="2.1"/><circle cx="74" cy="75.5" r="2.1"/><circle cx="87.4" cy="62.5" r="2.1"/><circle cx="130.9" cy="45.9" r="2.1"/><circle cx="68.6" cy="87" r="2.1"/><circle cx="54.8" cy="84" r="2.1"/><circle cx="150.4" cy="40.3" r="2.1"/><circle cx="82.3" cy="82" r="2.1"/><circle cx="158.4" cy="23.2" r="2.1"/><circle cx="154.5" cy="20.3" r="2.1"/><circle cx="169.8" cy="19" r="2.1"/><circle cx="37.4" cy="107.6" r="2.1"/><circle cx="52.4" cy="91" r="2.1"/><circle cx="155.1" cy="34.8" r="2.1"/><circle cx="95.9" cy="75.1" r="2.1"/><circle cx="66.4" cy="88.2" r="2.1"/><circle cx="100.6" cy="69.1" r="2.1"/><circle cx="151.3" cy="23.1" r="2.1"/><circle cx="106" cy="47.7" r="2.1"/><circle cx="170.2" cy="15.1" r="2.1"/><circle cx="58.5" cy="87.4" r="2.1"/><circle cx="163" cy="23.1" r="2.1"/><circle cx="81.7" cy="77.6" r="2.1"/><circle cx="129.5" cy="35.7" r="2.1"/><circle cx="69.4" cy="84.9" r="2.1"/><circle cx="139.7" cy="27.9" r="2.1"/><circle cx="117.4" cy="59.3" r="2.1"/><circle cx="122.5" cy="55.7" r="2.1"/><circle cx="102.8" cy="43.2" r="2.1"/><circle cx="43.9" cy="98.6" r="2.1"/><circle cx="97.6" cy="58.5" r="2.1"/><circle cx="99.6" cy="63.3" r="2.1"/><circle cx="152.4" cy="11" r="2.1"/><circle cx="63.7" cy="89.7" r="2.1"/><circle cx="82.8" cy="70.5" r="2.1"/><circle cx="103.9" cy="53.6" r="2.1"/><circle cx="117.4" cy="30.9" r="2.1"/><circle cx="149.4" cy="14.7" r="2.1"/><circle cx="94.2" cy="61.5" r="2.1"/><circle cx="116.1" cy="46.5" r="2.1"/><circle cx="72.4" cy="69.2" r="2.1"/><circle cx="85.6" cy="81.1" r="2.1"/><circle cx="142.6" cy="33.9" r="2.1"/><circle cx="147.6" cy="26.8" r="2.1"/><circle cx="37.6" cy="107.7" r="2.1"/><circle cx="41.6" cy="106.1" r="2.1"/><circle cx="167.4" cy="12.3" r="2.1"/><circle cx="66.7" cy="84.9" r="2.1"/><circle cx="88.8" cy="65.3" r="2.1"/><circle cx="148.5" cy="33.4" r="2.1"/><circle cx="153.3" cy="10.6" r="2.1"/><circle cx="83" cy="74.6" r="2.1"/><circle cx="112.1" cy="56" r="2.1"/><circle cx="165.5" cy="8" r="2.1"/><circle cx="99.4" cy="61.2" r="2.1"/><circle cx="48.5" cy="96" r="2.1"/><circle cx="95.9" cy="60.7" r="2.1"/><circle cx="57.2" cy="84.7" r="2.1"/><circle cx="144.9" cy="28.2" r="2.1"/><circle cx="70.1" cy="72.7" r="2.1"/><circle cx="42.5" cy="106.7" r="2.1"/><circle cx="42.8" cy="104.3" r="2.1"/><circle cx="51.4" cy="105.8" r="2.1"/><circle cx="119.8" cy="54.6" r="2.1"/><circle cx="99.5" cy="54.1" r="2.1"/><circle cx="80.8" cy="73.3" r="2.1"/><circle cx="130" cy="44.8" r="2.1"/><circle cx="127.8" cy="26.3" r="2.1"/><circle cx="80.7" cy="73.1" r="2.1"/><circle cx="133.6" cy="25.7" r="2.1"/><circle cx="41.6" cy="103.7" r="2.1"/><circle cx="167" cy="11.2" r="2.1"/><circle cx="135.6" cy="41.4" r="2.1"/><circle cx="76" cy="83.1" r="2.1"/><circle cx="155.9" cy="18.3" r="2.1"/><circle cx="144" cy="23.7" r="2.1"/><circle cx="96.3" cy="53.3" r="2.1"/><circle cx="126.8" cy="34.1" r="2.1"/><circle cx="57.8" cy="85.2" r="2.1"/><circle cx="48" cy="100.4" r="2.1"/><circle cx="137.8" cy="30.1" r="2.1"/><circle cx="122.3" cy="29.6" r="2.1"/><circle cx="123.6" cy="40.8" r="2.1"/><circle cx="148" cy="44.4" r="2.1"/><circle cx="81" cy="83.3" r="2.1"/><circle cx="40.2" cy="103.9" r="2.1"/><circle cx="137.1" cy="18.7" r="2.1"/><circle cx="56.3" cy="86.8" r="2.1"/><circle cx="51.9" cy="99.8" r="2.1"/><circle cx="91.8" cy="71.6" r="2.1"/><circle cx="109" cy="40" r="2.1"/><circle cx="151.2" cy="28.1" r="2.1"/><circle cx="125.7" cy="39.5" r="2.1"/><circle cx="141" cy="44.1" r="2.1"/><circle cx="125" cy="57" r="2.1"/><circle cx="34.2" cy="109.4" r="2.1"/><circle cx="86.2" cy="77.4" r="2.1"/><circle cx="108.4" cy="55.9" r="2.1"/><circle cx="76.9" cy="78" r="2.1"/><circle cx="167.3" cy="19" r="2.1"/><circle cx="163.9" cy="13.1" r="2.1"/><circle cx="102.9" cy="51" r="2.1"/><circle cx="78.5" cy="73.7" r="2.1"/><circle cx="74.1" cy="48.7" r="2.1"/><circle cx="70.3" cy="70.4" r="2.1"/><circle cx="112.3" cy="63.1" r="2.1"/><circle cx="133.9" cy="43.3" r="2.1"/><circle cx="150.6" cy="28.7" r="2.1"/><circle cx="40.7" cy="106.8" r="2.1"/><circle cx="126.8" cy="41.2" r="2.1"/><circle cx="82.7" cy="61.2" r="2.1"/><circle cx="166.3" cy="24.4" r="2.1"/><circle cx="41.1" cy="104.2" r="2.1"/><circle cx="46.8" cy="103.1" r="2.1"/><circle cx="75.4" cy="85.6" r="2.1"/><circle cx="65.3" cy="74.8" r="2.1"/><circle cx="91.6" cy="66.8" r="2.1"/><circle cx="82.9" cy="58.2" r="2.1"/><circle cx="120" cy="55.9" r="2.1"/><circle cx="166.7" cy="13.6" r="2.1"/><circle cx="167.7" cy="14.9" r="2.1"/><circle cx="74.5" cy="82.6" r="2.1"/><circle cx="141.7" cy="36.7" r="2.1"/><circle cx="58.7" cy="84.6" r="2.1"/><circle cx="167.6" cy="22.8" r="2.1"/><circle cx="80.9" cy="78.9" r="2.1"/><circle cx="126.9" cy="55.3" r="2.1"/><circle cx="147.4" cy="19.3" r="2.1"/><circle cx="119.2" cy="32.5" r="2.1"/><circle cx="146.2" cy="22.4" r="2.1"/><circle cx="143" cy="39.2" r="2.1"/><circle cx="115.8" cy="57.5" r="2.1"/><circle cx="89.3" cy="60.5" r="2.1"/><circle cx="55.7" cy="98.9" r="2.1"/><circle cx="168.8" cy="14.9" r="2.1"/><circle cx="94.6" cy="77.6" r="2.1"/><circle cx="96.5" cy="58.2" r="2.1"/><circle cx="110.6" cy="47.2" r="2.1"/><circle cx="155.4" cy="8" r="2.1"/><circle cx="53.5" cy="92.2" r="2.1"/><circle cx="162.4" cy="33.9" r="2.1"/><circle cx="74.2" cy="88.4" r="2.1"/><circle cx="157.2" cy="36.3" r="2.1"/><circle cx="129.7" cy="43" r="2.1"/><circle cx="80.7" cy="65.7" r="2.1"/><circle cx="104.1" cy="47.6" r="2.1"/><circle cx="110.3" cy="46.3" r="2.1"/><circle cx="167.5" cy="24.4" r="2.1"/><circle cx="76.1" cy="67.3" r="2.1"/><circle cx="70.9" cy="86.2" r="2.1"/><circle cx="46.5" cy="99" r="2.1"/><circle cx="102.5" cy="70.6" r="2.1"/><circle cx="63.9" cy="77.1" r="2.1"/><circle cx="47.7" cy="104.4" r="2.1"/><circle cx="155.3" cy="22.7" r="2.1"/><circle cx="139.3" cy="26.4" r="2.1"/><circle cx="73.6" cy="81.2" r="2.1"/><circle cx="140.8" cy="17.3" r="2.1"/><circle cx="81.3" cy="75.7" r="2.1"/><circle cx="164" cy="11" r="2.1"/><circle cx="66.9" cy="74.3" r="2.1"/><circle cx="141.2" cy="39" r="2.1"/><circle cx="49.6" cy="94.7" r="2.1"/><circle cx="101.9" cy="59.7" r="2.1"/><circle cx="140.6" cy="43.9" r="2.1"/><circle cx="145.8" cy="38.2" r="2.1"/><circle cx="40" cy="106.7" r="2.1"/><circle cx="58.3" cy="93.4" r="2.1"/><circle cx="92" cy="78.1" r="2.1"/><circle cx="77.4" cy="74.1" r="2.1"/><circle cx="112.9" cy="58.5" r="2.1"/><circle cx="127.3" cy="46.1" r="2.1"/><circle cx="110.4" cy="63.1" r="2.1"/><circle cx="139.1" cy="25.7" r="2.1"/><circle cx="152.2" cy="40.8" r="2.1"/><circle cx="110.3" cy="54.7" r="2.1"/><circle cx="39.1" cy="105" r="2.1"/><circle cx="161.5" cy="27.6" r="2.1"/><circle cx="69.4" cy="80.6" r="2.1"/><circle cx="136.6" cy="21.4" r="2.1"/><circle cx="126.8" cy="30.2" r="2.1"/><circle cx="84.8" cy="66.1" r="2.1"/><circle cx="62" cy="85.2" r="2.1"/><circle cx="60" cy="88.3" r="2.1"/><circle cx="153.7" cy="18.1" r="2.1"/><circle cx="106.8" cy="67.4" r="2.1"/><circle cx="162.9" cy="30.5" r="2.1"/><circle cx="53.1" cy="89.2" r="2.1"/><circle cx="156.8" cy="7.3" r="2.1"/><circle cx="153.4" cy="29.2" r="2.1"/><circle cx="82.8" cy="67.3" r="2.1"/><circle cx="161.4" cy="32.8" r="2.1"/><circle cx="167.9" cy="24.1" r="2.1"/><circle cx="166.6" cy="13" r="2.1"/><circle cx="58" cy="90.7" r="2.1"/><circle cx="59.5" cy="89.3" r="2.1"/><circle cx="171.6" cy="16.3" r="2.1"/><circle cx="100.5" cy="49.4" r="2.1"/><circle cx="132" cy="41" r="2.1"/><circle cx="124.6" cy="40.1" r="2.1"/><circle cx="170.2" cy="19.3" r="2.1"/><circle cx="120.5" cy="33.4" r="2.1"/><circle cx="51.4" cy="87.3" r="2.1"/><circle cx="110.7" cy="40.9" r="2.1"/></g><clipPath id="cpa"><rect x="33.2" y="7" width="139.7" height="104.4"/></clipPath><line clip-path="url(#cpa)" x1="33.2" y1="111.4" x2="172.9" y2="8.6" stroke="#ff0000" stroke-width="3.2"/><rect x="33.2" y="7" width="139.7" height="104.4" fill="none" stroke="#8c8c8c" stroke-width="0.9"/><path d="M33.2 111.4v-1.4M33.2 7v1.4M33.2 111.4h1.4M172.9 111.4h-1.4M73.6 111.4v-1.4M73.6 7v1.4M33.2 81.3h1.4M172.9 81.3h-1.4M113.9 111.4v-1.4M113.9 7v1.4M33.2 51.3h1.4M172.9 51.3h-1.4M154.3 111.4v-1.4M154.3 7v1.4M33.2 21.2h1.4M172.9 21.2h-1.4" stroke="#8c8c8c" stroke-width="0.8" fill="none"/><g font-family="'Liberation Serif', 'DejaVu Serif', serif" font-weight="bold" font-size="10.2" fill="#000"><text x="33.2" y="123.7" text-anchor="middle">0</text><text x="30.4" y="114.9" text-anchor="end">0</text><text x="73.6" y="123.7" text-anchor="middle">50</text><text x="30.4" y="84.8" text-anchor="end">50</text><text x="113.9" y="123.7" text-anchor="middle">100</text><text x="30.4" y="54.8" text-anchor="end">100</text><text x="154.3" y="123.7" text-anchor="middle">150</text><text x="30.4" y="24.7" text-anchor="end">150</text><text x="102.2" y="136.1" text-anchor="middle" font-size="10.8">PV Power Test (W)</text><text transform="translate(11.4 59.9) rotate(-90)" text-anchor="middle" font-size="10.82">PV Power Forecast (W)</text></g><g stroke="#efefef" stroke-width="0.8"><line x1="258.7" y1="7" x2="258.7" y2="111.3"/><line x1="218.5" y1="82" x2="358.2" y2="82"/><line x1="298.9" y1="7" x2="298.9" y2="111.3"/><line x1="218.5" y1="52.6" x2="358.2" y2="52.6"/><line x1="339.1" y1="7" x2="339.1" y2="111.3"/><line x1="218.5" y1="23.3" x2="358.2" y2="23.3"/></g><g fill="#00cca2" stroke="#0000ff" stroke-width="1.2"><circle cx="344.7" cy="19.6" r="2.1"/><circle cx="261.7" cy="85.6" r="2.1"/><circle cx="318.9" cy="69.2" r="2.1"/><circle cx="263.3" cy="82.2" r="2.1"/><circle cx="308.8" cy="55.4" r="2.1"/><circle cx="326.7" cy="33.3" r="2.1"/><circle cx="297.8" cy="49.1" r="2.1"/><circle cx="289.8" cy="49" r="2.1"/><circle cx="304.7" cy="58.5" r="2.1"/><circle cx="347.4" cy="12.7" r="2.1"/><circle cx="249.9" cy="87.5" r="2.1"/><circle cx="326.7" cy="35.2" r="2.1"/><circle cx="281.1" cy="63.3" r="2.1"/><circle cx="218.8" cy="109.8" r="2.1"/><circle cx="234.6" cy="96.1" r="2.1"/><circle cx="254.4" cy="74.3" r="2.1"/><circle cx="306.2" cy="53.6" r="2.1"/><circle cx="272" cy="76.9" r="2.1"/><circle cx="320.4" cy="49.6" r="2.1"/><circle cx="302.9" cy="44.7" r="2.1"/><circle cx="353.1" cy="22.5" r="2.1"/><circle cx="298.8" cy="56.7" r="2.1"/><circle cx="220.8" cy="107" r="2.1"/><circle cx="251" cy="89.3" r="2.1"/><circle cx="347.2" cy="22.7" r="2.1"/><circle cx="261.6" cy="74.3" r="2.1"/><circle cx="336.8" cy="22.2" r="2.1"/><circle cx="280.1" cy="71.1" r="2.1"/><circle cx="247.5" cy="86.8" r="2.1"/><circle cx="293.5" cy="41.3" r="2.1"/><circle cx="237.1" cy="96.7" r="2.1"/><circle cx="342.1" cy="28.6" r="2.1"/><circle cx="315.5" cy="54.7" r="2.1"/><circle cx="328.7" cy="42.3" r="2.1"/><circle cx="218.9" cy="109.8" r="2.1"/><circle cx="316.6" cy="54.5" r="2.1"/><circle cx="298.1" cy="49.4" r="2.1"/><circle cx="310.9" cy="35.3" r="2.1"/><circle cx="351.8" cy="22.6" r="2.1"/><circle cx="305.3" cy="59.7" r="2.1"/><circle cx="339.8" cy="29.6" r="2.1"/><circle cx="275.9" cy="72.8" r="2.1"/><circle cx="280" cy="54.6" r="2.1"/><circle cx="230.3" cy="99.8" r="2.1"/><circle cx="304.5" cy="53.1" r="2.1"/><circle cx="306.2" cy="43.5" r="2.1"/><circle cx="350.5" cy="25.2" r="2.1"/><circle cx="325.8" cy="43" r="2.1"/><circle cx="239.4" cy="87.8" r="2.1"/><circle cx="345.6" cy="21" r="2.1"/><circle cx="318" cy="31.5" r="2.1"/><circle cx="232.3" cy="102.5" r="2.1"/><circle cx="293.7" cy="60.5" r="2.1"/><circle cx="258.3" cy="74.1" r="2.1"/><circle cx="286.4" cy="72.5" r="2.1"/><circle cx="256" cy="88" r="2.1"/><circle cx="334.8" cy="26.6" r="2.1"/><circle cx="346.3" cy="22.2" r="2.1"/><circle cx="220.6" cy="107.4" r="2.1"/><circle cx="264.2" cy="86.7" r="2.1"/><circle cx="233" cy="100.9" r="2.1"/><circle cx="315.7" cy="37.7" r="2.1"/><circle cx="344.8" cy="31.6" r="2.1"/><circle cx="292.7" cy="57" r="2.1"/><circle cx="219.9" cy="108.6" r="2.1"/><circle cx="281.1" cy="64.6" r="2.1"/><circle cx="353" cy="22.3" r="2.1"/><circle cx="276.8" cy="61.8" r="2.1"/><circle cx="294.2" cy="52.8" r="2.1"/><circle cx="345.7" cy="30.6" r="2.1"/><circle cx="325.7" cy="46.6" r="2.1"/><circle cx="246.3" cy="88.8" r="2.1"/><circle cx="276.9" cy="73.4" r="2.1"/><circle cx="280.4" cy="54.7" r="2.1"/><circle cx="241.8" cy="88.6" r="2.1"/><circle cx="318" cy="41.1" r="2.1"/><circle cx="320.5" cy="35" r="2.1"/><circle cx="227.7" cy="101.3" r="2.1"/><circle cx="259.7" cy="79.9" r="2.1"/><circle cx="236.5" cy="96.3" r="2.1"/><circle cx="350" cy="18.3" r="2.1"/><circle cx="310.6" cy="34.2" r="2.1"/><circle cx="310.8" cy="55.1" r="2.1"/><circle cx="308.2" cy="55.5" r="2.1"/><circle cx="326.1" cy="47.5" r="2.1"/><circle cx="327.9" cy="26.2" r="2.1"/><circle cx="288.5" cy="46.8" r="2.1"/><circle cx="243.8" cy="86.6" r="2.1"/><circle cx="325.7" cy="28.9" r="2.1"/><circle cx="350.8" cy="28.9" r="2.1"/><circle cx="259.3" cy="71.6" r="2.1"/><circle cx="263.3" cy="73.3" r="2.1"/><circle cx="270.6" cy="79.8" r="2.1"/><circle cx="291.4" cy="45.3" r="2.1"/><circle cx="269.4" cy="67.2" r="2.1"/><circle cx="307.8" cy="49.8" r="2.1"/><circle cx="322.9" cy="33.4" r="2.1"/><circle cx="301.4" cy="39.5" r="2.1"/><circle cx="291" cy="45.5" r="2.1"/><circle cx="336.8" cy="19.6" r="2.1"/><circle cx="292" cy="51" r="2.1"/><circle cx="354.4" cy="19.6" r="2.1"/><circle cx="283.8" cy="64.5" r="2.1"/><circle cx="223.9" cy="100.6" r="2.1"/><circle cx="287.9" cy="62.6" r="2.1"/><circle cx="264.6" cy="86.9" r="2.1"/><circle cx="266.3" cy="72.1" r="2.1"/><circle cx="282.2" cy="72.3" r="2.1"/><circle cx="265.7" cy="70.2" r="2.1"/><circle cx="275.5" cy="60.1" r="2.1"/><circle cx="289.1" cy="44.2" r="2.1"/><circle cx="262.7" cy="85.2" r="2.1"/><circle cx="357.2" cy="11.6" r="2.1"/><circle cx="293.9" cy="60.4" r="2.1"/><circle cx="321.8" cy="38.4" r="2.1"/><circle cx="343.2" cy="24.9" r="2.1"/><circle cx="260.9" cy="68.2" r="2.1"/><circle cx="351.9" cy="10.3" r="2.1"/><circle cx="340.8" cy="32.1" r="2.1"/><circle cx="310.8" cy="55.8" r="2.1"/><circle cx="280.3" cy="58.1" r="2.1"/><circle cx="318.4" cy="28.6" r="2.1"/><circle cx="346" cy="35.2" r="2.1"/><circle cx="314.6" cy="36.2" r="2.1"/><circle cx="222.8" cy="104.6" r="2.1"/><circle cx="245.2" cy="87.9" r="2.1"/><circle cx="321.5" cy="35.8" r="2.1"/><circle cx="235.2" cy="102.6" r="2.1"/><circle cx="312.2" cy="45.5" r="2.1"/><circle cx="306.1" cy="33.2" r="2.1"/><circle cx="220.5" cy="107.6" r="2.1"/><circle cx="296.8" cy="55.6" r="2.1"/><circle cx="295.2" cy="60.1" r="2.1"/><circle cx="251.6" cy="87.4" r="2.1"/><circle cx="329.9" cy="37.3" r="2.1"/><circle cx="333.9" cy="23.3" r="2.1"/><circle cx="321.3" cy="30" r="2.1"/><circle cx="314" cy="50.6" r="2.1"/><circle cx="304.8" cy="34.7" r="2.1"/><circle cx="308.5" cy="58.2" r="2.1"/><circle cx="323" cy="39.9" r="2.1"/><circle cx="254.8" cy="89.8" r="2.1"/><circle cx="242.3" cy="83.1" r="2.1"/><circle cx="313.1" cy="48.3" r="2.1"/><circle cx="345.1" cy="21.3" r="2.1"/><circle cx="351.8" cy="19.4" r="2.1"/><circle cx="248.1" cy="91.8" r="2.1"/><circle cx="267.1" cy="82.1" r="2.1"/><circle cx="341.7" cy="17.2" r="2.1"/><circle cx="334.8" cy="36.4" r="2.1"/><circle cx="233.4" cy="95.6" r="2.1"/><circle cx="350.7" cy="25.6" r="2.1"/><circle cx="334.9" cy="27.9" r="2.1"/><circle cx="252.3" cy="78.5" r="2.1"/><circle cx="244" cy="85.6" r="2.1"/><circle cx="316.4" cy="29.5" r="2.1"/><circle cx="275.2" cy="68.4" r="2.1"/><circle cx="340.3" cy="34.7" r="2.1"/><circle cx="345.1" cy="28" r="2.1"/><circle cx="347.1" cy="27.7" r="2.1"/><circle cx="256.3" cy="82.7" r="2.1"/><circle cx="230.4" cy="98.5" r="2.1"/><circle cx="230" cy="99.6" r="2.1"/><circle cx="255.6" cy="81.5" r="2.1"/><circle cx="282.7" cy="67" r="2.1"/><circle cx="249.9" cy="91.1" r="2.1"/><circle cx="300.9" cy="58.4" r="2.1"/><circle cx="258.4" cy="83.3" r="2.1"/><circle cx="245" cy="90.6" r="2.1"/><circle cx="241.8" cy="103.4" r="2.1"/><circle cx="291.1" cy="60.7" r="2.1"/><circle cx="235.1" cy="100.1" r="2.1"/><circle cx="318.3" cy="34.9" r="2.1"/><circle cx="278" cy="59.3" r="2.1"/><circle cx="339.8" cy="12.6" r="2.1"/><circle cx="274.4" cy="65.3" r="2.1"/><circle cx="330.6" cy="29.2" r="2.1"/><circle cx="220.5" cy="107.4" r="2.1"/><circle cx="266.2" cy="71.5" r="2.1"/><circle cx="248.3" cy="88.3" r="2.1"/><circle cx="222.9" cy="104.8" r="2.1"/><circle cx="301.6" cy="45" r="2.1"/><circle cx="271.8" cy="81.6" r="2.1"/><circle cx="301.7" cy="58.5" r="2.1"/><circle cx="284.5" cy="52.6" r="2.1"/><circle cx="252.5" cy="89.7" r="2.1"/><circle cx="351.4" cy="18.8" r="2.1"/><circle cx="271.5" cy="72.1" r="2.1"/><circle cx="303.2" cy="54.3" r="2.1"/><circle cx="221.1" cy="106.2" r="2.1"/><circle cx="340.2" cy="26.5" r="2.1"/><circle cx="275.3" cy="79.3" r="2.1"/><circle cx="348.5" cy="14.9" r="2.1"/><circle cx="277.5" cy="58.8" r="2.1"/><circle cx="275.3" cy="77.5" r="2.1"/><circle cx="331.7" cy="27.6" r="2.1"/><circle cx="289.1" cy="49.3" r="2.1"/><circle cx="230.8" cy="97.6" r="2.1"/><circle cx="335.2" cy="30.1" r="2.1"/><circle cx="338.7" cy="16" r="2.1"/><circle cx="265.4" cy="69.1" r="2.1"/><circle cx="318.1" cy="50.4" r="2.1"/><circle cx="245.6" cy="86" r="2.1"/><circle cx="348.4" cy="24.8" r="2.1"/><circle cx="227" cy="101" r="2.1"/><circle cx="312.1" cy="35.3" r="2.1"/><circle cx="287.1" cy="69.6" r="2.1"/><circle cx="234.3" cy="101.1" r="2.1"/><circle cx="283.9" cy="52.1" r="2.1"/><circle cx="252.9" cy="87" r="2.1"/><circle cx="306.5" cy="55.1" r="2.1"/><circle cx="260.4" cy="79.2" r="2.1"/><circle cx="325.9" cy="41.8" r="2.1"/><circle cx="304.1" cy="42.9" r="2.1"/><circle cx="235.6" cy="98.6" r="2.1"/><circle cx="272.8" cy="59.7" r="2.1"/><circle cx="280.8" cy="71.3" r="2.1"/><circle cx="276.5" cy="69.3" r="2.1"/><circle cx="232.5" cy="99.2" r="2.1"/><circle cx="320" cy="28.9" r="2.1"/><circle cx="336.8" cy="27" r="2.1"/><circle cx="330" cy="25.7" r="2.1"/><circle cx="331.8" cy="45.6" r="2.1"/><circle cx="320.5" cy="48.3" r="2.1"/><circle cx="297" cy="45" r="2.1"/><circle cx="348" cy="26.9" r="2.1"/><circle cx="251" cy="86.3" r="2.1"/><circle cx="348.9" cy="16.5" r="2.1"/><circle cx="351.2" cy="26.8" r="2.1"/><circle cx="292.3" cy="59.3" r="2.1"/><circle cx="253" cy="81.2" r="2.1"/><circle cx="232.9" cy="104.3" r="2.1"/><circle cx="329.4" cy="24.9" r="2.1"/><circle cx="327.9" cy="29.6" r="2.1"/><circle cx="249" cy="93.1" r="2.1"/><circle cx="302.3" cy="48.5" r="2.1"/><circle cx="351.1" cy="26.2" r="2.1"/><circle cx="313.2" cy="41" r="2.1"/><circle cx="309.6" cy="51.6" r="2.1"/><circle cx="292.8" cy="46.1" r="2.1"/><circle cx="324" cy="32.8" r="2.1"/><circle cx="282" cy="60.3" r="2.1"/><circle cx="326" cy="25.3" r="2.1"/><circle cx="309.3" cy="55.3" r="2.1"/><circle cx="320.1" cy="45.9" r="2.1"/><circle cx="263.8" cy="66.7" r="2.1"/><circle cx="272.2" cy="60" r="2.1"/><circle cx="248.8" cy="90.3" r="2.1"/><circle cx="325.5" cy="37.4" r="2.1"/><circle cx="268.2" cy="73.4" r="2.1"/><circle cx="313.7" cy="38.3" r="2.1"/><circle cx="241.6" cy="84.4" r="2.1"/><circle cx="299.9" cy="53.7" r="2.1"/><circle cx="221" cy="106.5" r="2.1"/><circle cx="312.6" cy="35.6" r="2.1"/><circle cx="347.2" cy="17.1" r="2.1"/><circle cx="318.9" cy="33.1" r="2.1"/><circle cx="273.5" cy="70" r="2.1"/><circle cx="239" cy="100" r="2.1"/><circle cx="232.4" cy="99.1" r="2.1"/><circle cx="298.2" cy="50.7" r="2.1"/><circle cx="345.8" cy="13.3" r="2.1"/><circle cx="348.3" cy="26.6" r="2.1"/><circle cx="220.7" cy="106.9" r="2.1"/><circle cx="298.9" cy="46.6" r="2.1"/><circle cx="239" cy="94.5" r="2.1"/><circle cx="254.6" cy="74.1" r="2.1"/><circle cx="287.5" cy="46.3" r="2.1"/><circle cx="284.6" cy="63.3" r="2.1"/><circle cx="229.8" cy="104" r="2.1"/><circle cx="354.3" cy="14.2" r="2.1"/><circle cx="244.3" cy="86.9" r="2.1"/><circle cx="294.1" cy="47.7" r="2.1"/><circle cx="349" cy="24" r="2.1"/><circle cx="266.3" cy="85.1" r="2.1"/><circle cx="354.5" cy="11" r="2.1"/><circle cx="233.3" cy="101.4" r="2.1"/><circle cx="325.2" cy="44.9" r="2.1"/><circle cx="305.9" cy="54.9" r="2.1"/><circle cx="218.6" cy="110" r="2.1"/><circle cx="271.6" cy="75.8" r="2.1"/><circle cx="326.1" cy="26.2" r="2.1"/><circle cx="287.2" cy="51.4" r="2.1"/><circle cx="320.7" cy="43.1" r="2.1"/><circle cx="220.9" cy="106.5" r="2.1"/><circle cx="245.4" cy="81.1" r="2.1"/><circle cx="286.8" cy="67.7" r="2.1"/><circle cx="278.1" cy="60.6" r="2.1"/><circle cx="288.5" cy="46.9" r="2.1"/><circle cx="290.1" cy="46.6" r="2.1"/><circle cx="293.7" cy="58.4" r="2.1"/><circle cx="328.7" cy="39.3" r="2.1"/><circle cx="300" cy="39.1" r="2.1"/><circle cx="237.6" cy="104.5" r="2.1"/><circle cx="334.5" cy="26.3" r="2.1"/><circle cx="344.8" cy="12.2" r="2.1"/><circle cx="298.4" cy="57.7" r="2.1"/><circle cx="219.6" cy="108.9" r="2.1"/><circle cx="248.9" cy="78" r="2.1"/><circle cx="320.2" cy="46.7" r="2.1"/><circle cx="287.5" cy="42.7" r="2.1"/><circle cx="223.4" cy="102.6" r="2.1"/><circle cx="310.3" cy="57.4" r="2.1"/><circle cx="317.4" cy="51.9" r="2.1"/><circle cx="246.3" cy="86.3" r="2.1"/><circle cx="258.1" cy="80" r="2.1"/><circle cx="336.3" cy="36.4" r="2.1"/><circle cx="279" cy="61.5" r="2.1"/><circle cx="310.6" cy="50.9" r="2.1"/><circle cx="274.6" cy="63.2" r="2.1"/><circle cx="266.1" cy="66.2" r="2.1"/><circle cx="302.7" cy="58.5" r="2.1"/><circle cx="258.1" cy="76.1" r="2.1"/><circle cx="326.3" cy="40.5" r="2.1"/><circle cx="302.6" cy="41.8" r="2.1"/><circle cx="264.4" cy="76.9" r="2.1"/><circle cx="313.6" cy="47.3" r="2.1"/><circle cx="307.6" cy="54.2" r="2.1"/><circle cx="243.7" cy="88.7" r="2.1"/><circle cx="290.4" cy="50" r="2.1"/><circle cx="267.2" cy="81.9" r="2.1"/><circle cx="337.3" cy="26.2" r="2.1"/><circle cx="264.1" cy="69.6" r="2.1"/><circle cx="321.5" cy="37.6" r="2.1"/><circle cx="258.2" cy="87" r="2.1"/><circle cx="244.7" cy="95.2" r="2.1"/><circle cx="307.6" cy="36.4" r="2.1"/><circle cx="259.7" cy="77.1" r="2.1"/><circle cx="243" cy="91.9" r="2.1"/><circle cx="289.7" cy="56.5" r="2.1"/><circle cx="254.2" cy="85.1" r="2.1"/><circle cx="257.7" cy="72.1" r="2.1"/><circle cx="325.6" cy="27.6" r="2.1"/><circle cx="287.6" cy="63.5" r="2.1"/><circle cx="282.3" cy="71.2" r="2.1"/><circle cx="280.5" cy="72.7" r="2.1"/><circle cx="348.8" cy="25.1" r="2.1"/><circle cx="272.5" cy="67.1" r="2.1"/><circle cx="276.8" cy="56.9" r="2.1"/><circle cx="245.9" cy="81.4" r="2.1"/><circle cx="261.1" cy="69.2" r="2.1"/><circle cx="219.8" cy="108.7" r="2.1"/><circle cx="329.5" cy="19.6" r="2.1"/><circle cx="257.4" cy="72.8" r="2.1"/><circle cx="275.1" cy="73.1" r="2.1"/><circle cx="333" cy="30.2" r="2.1"/><circle cx="349.3" cy="20.8" r="2.1"/><circle cx="297" cy="49" r="2.1"/><circle cx="339.3" cy="22.2" r="2.1"/><circle cx="274.2" cy="76.2" r="2.1"/><circle cx="356.9" cy="10.6" r="2.1"/><circle cx="296.1" cy="47.8" r="2.1"/><circle cx="249.2" cy="77.1" r="2.1"/><circle cx="221.8" cy="104.6" r="2.1"/><circle cx="255.1" cy="75.4" r="2.1"/><circle cx="296.2" cy="54.6" r="2.1"/><circle cx="302" cy="60.1" r="2.1"/><circle cx="355.2" cy="10" r="2.1"/><circle cx="234.1" cy="98.1" r="2.1"/><circle cx="329.1" cy="28.5" r="2.1"/><circle cx="353.5" cy="14.3" r="2.1"/><circle cx="247.3" cy="78.5" r="2.1"/><circle cx="334.5" cy="37.4" r="2.1"/><circle cx="299.7" cy="65.7" r="2.1"/><circle cx="251.4" cy="76.9" r="2.1"/><circle cx="331.1" cy="21.9" r="2.1"/><circle cx="258.7" cy="85" r="2.1"/><circle cx="314.2" cy="54.1" r="2.1"/><circle cx="334.2" cy="26.1" r="2.1"/><circle cx="274" cy="69.9" r="2.1"/><circle cx="251.7" cy="74.3" r="2.1"/><circle cx="338.1" cy="18.8" r="2.1"/><circle cx="324.8" cy="28.2" r="2.1"/><circle cx="277.7" cy="76.5" r="2.1"/><circle cx="274.5" cy="63" r="2.1"/><circle cx="303.7" cy="56" r="2.1"/><circle cx="272.3" cy="76" r="2.1"/><circle cx="272.9" cy="68.7" r="2.1"/><circle cx="249.9" cy="79" r="2.1"/><circle cx="276.4" cy="65.7" r="2.1"/><circle cx="336.6" cy="29.9" r="2.1"/><circle cx="235.4" cy="93.8" r="2.1"/><circle cx="303.5" cy="41.1" r="2.1"/><circle cx="307.3" cy="56.8" r="2.1"/><circle cx="314.8" cy="42.8" r="2.1"/><circle cx="357.3" cy="14" r="2.1"/><circle cx="235.5" cy="101.9" r="2.1"/><circle cx="339.3" cy="22.4" r="2.1"/><circle cx="294" cy="59.9" r="2.1"/><circle cx="255.9" cy="71.4" r="2.1"/><circle cx="299.4" cy="49.4" r="2.1"/><circle cx="357" cy="14.1" r="2.1"/><circle cx="296" cy="42.2" r="2.1"/><circle cx="272.5" cy="77" r="2.1"/><circle cx="338.6" cy="26.7" r="2.1"/><circle cx="251.4" cy="89.1" r="2.1"/><circle cx="353.6" cy="21.1" r="2.1"/><circle cx="354.8" cy="14.7" r="2.1"/><circle cx="244.4" cy="93.9" r="2.1"/><circle cx="282.7" cy="63.8" r="2.1"/><circle cx="233.3" cy="103.2" r="2.1"/><circle cx="258.3" cy="79.1" r="2.1"/><circle cx="279.3" cy="70.7" r="2.1"/><circle cx="221.1" cy="106.4" r="2.1"/><circle cx="333.4" cy="22.4" r="2.1"/><circle cx="252.7" cy="83.5" r="2.1"/><circle cx="312.9" cy="43.8" r="2.1"/><circle cx="269.4" cy="76.6" r="2.1"/><circle cx="241" cy="100.9" r="2.1"/><circle cx="255.3" cy="73.7" r="2.1"/><circle cx="269.1" cy="65.6" r="2.1"/><circle cx="268.2" cy="80.1" r="2.1"/><circle cx="308.1" cy="39.2" r="2.1"/><circle cx="334" cy="43.1" r="2.1"/><circle cx="222.9" cy="103.7" r="2.1"/><circle cx="257.6" cy="70.9" r="2.1"/><circle cx="331.5" cy="25.8" r="2.1"/><circle cx="229.5" cy="102" r="2.1"/><circle cx="340.4" cy="25.6" r="2.1"/><circle cx="303.4" cy="43.8" r="2.1"/><circle cx="229.4" cy="99.5" r="2.1"/><circle cx="355" cy="10.2" r="2.1"/><circle cx="238.3" cy="93.9" r="2.1"/><circle cx="320.8" cy="28.6" r="2.1"/><circle cx="238.6" cy="91.5" r="2.1"/><circle cx="348.3" cy="14.2" r="2.1"/><circle cx="272.7" cy="71.6" r="2.1"/><circle cx="249.9" cy="90.6" r="2.1"/><circle cx="292.1" cy="39.7" r="2.1"/><circle cx="276.7" cy="76.6" r="2.1"/><circle cx="298.2" cy="60.8" r="2.1"/><circle cx="270.5" cy="79.7" r="2.1"/><circle cx="353.5" cy="15.5" r="2.1"/><circle cx="344.4" cy="25.1" r="2.1"/><circle cx="339.3" cy="14.2" r="2.1"/><circle cx="230.8" cy="96.5" r="2.1"/><circle cx="278.9" cy="76.9" r="2.1"/><circle cx="340.5" cy="37.4" r="2.1"/><circle cx="221.2" cy="106.1" r="2.1"/><circle cx="317.2" cy="45.5" r="2.1"/><circle cx="331.9" cy="46.7" r="2.1"/><circle cx="279" cy="59.8" r="2.1"/><circle cx="270.4" cy="72.3" r="2.1"/><circle cx="281" cy="74.8" r="2.1"/><circle cx="327.3" cy="37.9" r="2.1"/><circle cx="274.7" cy="73.7" r="2.1"/><circle cx="336.4" cy="33.5" r="2.1"/><circle cx="352.5" cy="14.8" r="2.1"/><circle cx="271.5" cy="72.9" r="2.1"/><circle cx="226.3" cy="100.8" r="2.1"/><circle cx="343.9" cy="21.5" r="2.1"/><circle cx="270.4" cy="78.9" r="2.1"/><circle cx="259.2" cy="86.5" r="2.1"/><circle cx="283.1" cy="70.6" r="2.1"/><circle cx="273.9" cy="68.4" r="2.1"/><circle cx="228.6" cy="102.7" r="2.1"/><circle cx="260.1" cy="70.4" r="2.1"/><circle cx="293.7" cy="42.4" r="2.1"/><circle cx="238.2" cy="94.5" r="2.1"/><circle cx="251.9" cy="86.3" r="2.1"/><circle cx="236.5" cy="101.3" r="2.1"/><circle cx="236.5" cy="99.9" r="2.1"/><circle cx="296.3" cy="51.8" r="2.1"/><circle cx="251.8" cy="83.2" r="2.1"/><circle cx="237.6" cy="89.6" r="2.1"/><circle cx="286.2" cy="66.6" r="2.1"/><circle cx="275.5" cy="77.5" r="2.1"/><circle cx="295.2" cy="61.3" r="2.1"/><circle cx="218.6" cy="110" r="2.1"/><circle cx="321.3" cy="46.2" r="2.1"/><circle cx="270.6" cy="81.4" r="2.1"/><circle cx="288.9" cy="60.8" r="2.1"/><circle cx="255.1" cy="84" r="2.1"/><circle cx="351.1" cy="18.7" r="2.1"/><circle cx="219.3" cy="109.2" r="2.1"/><circle cx="245.1" cy="89" r="2.1"/><circle cx="261.9" cy="86.2" r="2.1"/><circle cx="322.2" cy="35.9" r="2.1"/><circle cx="333.4" cy="19.7" r="2.1"/><circle cx="346.5" cy="27.2" r="2.1"/><circle cx="333.4" cy="20.6" r="2.1"/><circle cx="242.9" cy="92.9" r="2.1"/><circle cx="289.7" cy="66.5" r="2.1"/><circle cx="296.4" cy="52.5" r="2.1"/><circle cx="271.6" cy="60.4" r="2.1"/><circle cx="259.4" cy="79.7" r="2.1"/><circle cx="321.3" cy="50.5" r="2.1"/><circle cx="346" cy="33" r="2.1"/><circle cx="321.7" cy="49.5" r="2.1"/><circle cx="225.8" cy="101.4" r="2.1"/><circle cx="293.7" cy="44.6" r="2.1"/><circle cx="233.8" cy="96" r="2.1"/><circle cx="302.5" cy="46.8" r="2.1"/><circle cx="316.3" cy="28.9" r="2.1"/><circle cx="337.7" cy="27.6" r="2.1"/><circle cx="345" cy="43.3" r="2.1"/><circle cx="220.3" cy="107.6" r="2.1"/><circle cx="220.2" cy="107.8" r="2.1"/><circle cx="218.6" cy="109.9" r="2.1"/><circle cx="300.2" cy="45" r="2.1"/><circle cx="298.1" cy="59.6" r="2.1"/><circle cx="336.3" cy="37.2" r="2.1"/><circle cx="353.5" cy="14.3" r="2.1"/><circle cx="319.7" cy="44.9" r="2.1"/><circle cx="240.4" cy="92.7" r="2.1"/><circle cx="314.5" cy="39.9" r="2.1"/><circle cx="336.6" cy="40.7" r="2.1"/><circle cx="298.2" cy="77.5" r="2.1"/><circle cx="353.9" cy="11.7" r="2.1"/><circle cx="273.6" cy="79.3" r="2.1"/><circle cx="234.2" cy="102.1" r="2.1"/><circle cx="263.9" cy="84.3" r="2.1"/><circle cx="276.6" cy="66.1" r="2.1"/><circle cx="355.4" cy="16.1" r="2.1"/><circle cx="329.3" cy="34.6" r="2.1"/><circle cx="296.4" cy="51.5" r="2.1"/><circle cx="297" cy="42.4" r="2.1"/><circle cx="284.2" cy="74" r="2.1"/><circle cx="240.7" cy="89.5" r="2.1"/><circle cx="267.7" cy="66.5" r="2.1"/><circle cx="283.4" cy="69.3" r="2.1"/><circle cx="334.5" cy="40.7" r="2.1"/><circle cx="343.4" cy="18" r="2.1"/><circle cx="300.4" cy="47.1" r="2.1"/><circle cx="339" cy="36.3" r="2.1"/><circle cx="246.5" cy="92.2" r="2.1"/><circle cx="287.7" cy="59.5" r="2.1"/><circle cx="291.5" cy="61.2" r="2.1"/><circle cx="327.1" cy="28.8" r="2.1"/><circle cx="273.5" cy="79.7" r="2.1"/><circle cx="309.5" cy="53.4" r="2.1"/><circle cx="244.2" cy="82.5" r="2.1"/><circle cx="306.9" cy="35.5" r="2.1"/><circle cx="280.9" cy="56.6" r="2.1"/><circle cx="340.3" cy="27.8" r="2.1"/><circle cx="357.7" cy="9.8" r="2.1"/><circle cx="329.6" cy="28.9" r="2.1"/><circle cx="233.2" cy="94.3" r="2.1"/><circle cx="291.2" cy="56.3" r="2.1"/><circle cx="233" cy="103.7" r="2.1"/><circle cx="342.1" cy="33.6" r="2.1"/><circle cx="271.2" cy="64.4" r="2.1"/><circle cx="308.9" cy="35.8" r="2.1"/><circle cx="296.1" cy="45.9" r="2.1"/><circle cx="327.2" cy="23.7" r="2.1"/><circle cx="305.9" cy="51.2" r="2.1"/><circle cx="322.5" cy="39" r="2.1"/><circle cx="274.4" cy="64.5" r="2.1"/><circle cx="263.4" cy="79.9" r="2.1"/><circle cx="263.6" cy="69.8" r="2.1"/><circle cx="289.8" cy="41.4" r="2.1"/><circle cx="261.8" cy="80" r="2.1"/><circle cx="322.7" cy="24" r="2.1"/><circle cx="258.9" cy="76.8" r="2.1"/><circle cx="264.8" cy="86.2" r="2.1"/><circle cx="337.4" cy="39.6" r="2.1"/><circle cx="316.6" cy="50.3" r="2.1"/><circle cx="277.2" cy="58" r="2.1"/><circle cx="276.5" cy="76.2" r="2.1"/><circle cx="355.7" cy="11.4" r="2.1"/><circle cx="265.3" cy="68.3" r="2.1"/><circle cx="236.2" cy="104" r="2.1"/><circle cx="348.2" cy="26.6" r="2.1"/><circle cx="255.4" cy="82.2" r="2.1"/><circle cx="272" cy="68.9" r="2.1"/><circle cx="325.2" cy="47.7" r="2.1"/><circle cx="309.1" cy="37.3" r="2.1"/><circle cx="249.5" cy="80.3" r="2.1"/><circle cx="271.5" cy="82.2" r="2.1"/><circle cx="317.2" cy="52.4" r="2.1"/><circle cx="249.1" cy="77" r="2.1"/><circle cx="348.4" cy="16.6" r="2.1"/><circle cx="301" cy="55.2" r="2.1"/><circle cx="346.4" cy="16" r="2.1"/><circle cx="231.6" cy="100.6" r="2.1"/><circle cx="315.1" cy="45.6" r="2.1"/><circle cx="319.9" cy="51.3" r="2.1"/><circle cx="280.1" cy="66.3" r="2.1"/><circle cx="348.3" cy="11.8" r="2.1"/><circle cx="307.2" cy="55.1" r="2.1"/><circle cx="315.2" cy="30.8" r="2.1"/><circle cx="312.3" cy="50" r="2.1"/><circle cx="238.9" cy="102.1" r="2.1"/><circle cx="324.6" cy="36.5" r="2.1"/><circle cx="311.6" cy="42.3" r="2.1"/><circle cx="303.7" cy="49.4" r="2.1"/><circle cx="266" cy="73.3" r="2.1"/><circle cx="333.2" cy="37.9" r="2.1"/><circle cx="314.1" cy="36.4" r="2.1"/><circle cx="260.4" cy="76.5" r="2.1"/><circle cx="251.8" cy="88.8" r="2.1"/><circle cx="292.1" cy="42.4" r="2.1"/><circle cx="300" cy="59" r="2.1"/><circle cx="335.6" cy="29.1" r="2.1"/><circle cx="254.8" cy="77.7" r="2.1"/><circle cx="313.5" cy="33.4" r="2.1"/><circle cx="265.5" cy="70.4" r="2.1"/><circle cx="338.8" cy="28" r="2.1"/><circle cx="336.4" cy="24.7" r="2.1"/><circle cx="294" cy="44.7" r="2.1"/><circle cx="292.7" cy="47.5" r="2.1"/><circle cx="287" cy="51.2" r="2.1"/><circle cx="261.9" cy="71.6" r="2.1"/><circle cx="311.6" cy="32.8" r="2.1"/><circle cx="353.7" cy="21.5" r="2.1"/><circle cx="341.5" cy="30.5" r="2.1"/><circle cx="300.9" cy="38.7" r="2.1"/><circle cx="326.8" cy="45.8" r="2.1"/><circle cx="351.5" cy="25.9" r="2.1"/><circle cx="290.9" cy="50.3" r="2.1"/><circle cx="273.7" cy="62.2" r="2.1"/><circle cx="298.2" cy="52" r="2.1"/><circle cx="283.4" cy="59.9" r="2.1"/><circle cx="265.2" cy="70.7" r="2.1"/><circle cx="238.2" cy="89.7" r="2.1"/><circle cx="227.9" cy="101.2" r="2.1"/><circle cx="341.8" cy="33.3" r="2.1"/><circle cx="340.9" cy="22.7" r="2.1"/><circle cx="266.6" cy="85" r="2.1"/><circle cx="282.5" cy="61" r="2.1"/><circle cx="262.9" cy="75.5" r="2.1"/><circle cx="284" cy="57.2" r="2.1"/><circle cx="300.8" cy="54.3" r="2.1"/><circle cx="317.6" cy="40" r="2.1"/><circle cx="262.7" cy="71.9" r="2.1"/><circle cx="265.7" cy="77.2" r="2.1"/><circle cx="278.1" cy="55.9" r="2.1"/><circle cx="343.3" cy="32.2" r="2.1"/><circle cx="321.8" cy="26.4" r="2.1"/><circle cx="352.1" cy="20.8" r="2.1"/><circle cx="285.7" cy="70.1" r="2.1"/><circle cx="310.7" cy="57.1" r="2.1"/><circle cx="261.9" cy="82.6" r="2.1"/><circle cx="269.4" cy="69.5" r="2.1"/><circle cx="220.7" cy="106.9" r="2.1"/><circle cx="268" cy="65.2" r="2.1"/><circle cx="342.2" cy="34.8" r="2.1"/><circle cx="336.1" cy="16.8" r="2.1"/><circle cx="266.4" cy="67.4" r="2.1"/><circle cx="286.3" cy="55.6" r="2.1"/><circle cx="269.9" cy="76.4" r="2.1"/><circle cx="335.9" cy="31.6" r="2.1"/><circle cx="334.5" cy="22.5" r="2.1"/><circle cx="283.5" cy="60.9" r="2.1"/><circle cx="305.6" cy="35.6" r="2.1"/><circle cx="266.4" cy="86.2" r="2.1"/><circle cx="270.2" cy="68.1" r="2.1"/><circle cx="306.9" cy="55.8" r="2.1"/><circle cx="300.2" cy="47.9" r="2.1"/><circle cx="343.6" cy="16.8" r="2.1"/><circle cx="286.2" cy="72.1" r="2.1"/><circle cx="331.7" cy="42.3" r="2.1"/><circle cx="232.3" cy="97.1" r="2.1"/><circle cx="304" cy="56.7" r="2.1"/><circle cx="249.3" cy="85.7" r="2.1"/><circle cx="263.4" cy="76.1" r="2.1"/><circle cx="272.2" cy="59.1" r="2.1"/><circle cx="354" cy="12.3" r="2.1"/><circle cx="317.6" cy="44" r="2.1"/><circle cx="350.1" cy="27.1" r="2.1"/><circle cx="286.6" cy="71.6" r="2.1"/><circle cx="231.2" cy="99.9" r="2.1"/><circle cx="354.3" cy="20.4" r="2.1"/><circle cx="353.7" cy="15.3" r="2.1"/><circle cx="220.3" cy="107.9" r="2.1"/><circle cx="306.4" cy="44.1" r="2.1"/><circle cx="237.8" cy="91.7" r="2.1"/><circle cx="352.1" cy="16.7" r="2.1"/><circle cx="351.4" cy="18.9" r="2.1"/><circle cx="222.9" cy="101.3" r="2.1"/><circle cx="326" cy="41.6" r="2.1"/><circle cx="251.1" cy="81.4" r="2.1"/><circle cx="252" cy="87.7" r="2.1"/><circle cx="345" cy="24" r="2.1"/><circle cx="313.2" cy="50.4" r="2.1"/><circle cx="274.8" cy="64.6" r="2.1"/><circle cx="267" cy="67" r="2.1"/><circle cx="287.4" cy="52.5" r="2.1"/><circle cx="293.9" cy="53" r="2.1"/><circle cx="237.4" cy="100.5" r="2.1"/><circle cx="271.4" cy="62" r="2.1"/><circle cx="277.7" cy="59.7" r="2.1"/><circle cx="340.8" cy="25.7" r="2.1"/><circle cx="299.5" cy="41.8" r="2.1"/><circle cx="235.5" cy="96.8" r="2.1"/><circle cx="280.1" cy="65" r="2.1"/><circle cx="334.7" cy="37.7" r="2.1"/><circle cx="341.7" cy="20.7" r="2.1"/><circle cx="305.3" cy="44" r="2.1"/><circle cx="259.2" cy="79.5" r="2.1"/><circle cx="326.5" cy="39.5" r="2.1"/><circle cx="240.4" cy="94.3" r="2.1"/><circle cx="254.3" cy="72.4" r="2.1"/><circle cx="334.7" cy="32.1" r="2.1"/><circle cx="279.1" cy="70.8" r="2.1"/><circle cx="269.4" cy="75" r="2.1"/><circle cx="337.5" cy="33.5" r="2.1"/><circle cx="238.4" cy="97.8" r="2.1"/><circle cx="315" cy="36.6" r="2.1"/><circle cx="331.7" cy="39.6" r="2.1"/><circle cx="240.2" cy="91.3" r="2.1"/><circle cx="219.8" cy="108.5" r="2.1"/><circle cx="249.3" cy="90.3" r="2.1"/><circle cx="282.2" cy="57.1" r="2.1"/><circle cx="244.8" cy="80.5" r="2.1"/><circle cx="291.2" cy="45.3" r="2.1"/><circle cx="282.9" cy="56.4" r="2.1"/><circle cx="305" cy="46" r="2.1"/><circle cx="268.5" cy="81.1" r="2.1"/><circle cx="260.2" cy="73.9" r="2.1"/><circle cx="348.4" cy="27.5" r="2.1"/><circle cx="285.6" cy="49.2" r="2.1"/><circle cx="345.5" cy="11.1" r="2.1"/><circle cx="227.5" cy="102.7" r="2.1"/><circle cx="273" cy="68.7" r="2.1"/><circle cx="272.8" cy="69.7" r="2.1"/><circle cx="248.4" cy="78.6" r="2.1"/><circle cx="304.8" cy="56.5" r="2.1"/><circle cx="272.1" cy="74" r="2.1"/><circle cx="289.3" cy="50.4" r="2.1"/><circle cx="333.6" cy="19.3" r="2.1"/><circle cx="334.5" cy="34.7" r="2.1"/><circle cx="278.8" cy="70.9" r="2.1"/><circle cx="223.6" cy="103.3" r="2.1"/><circle cx="339.9" cy="11.7" r="2.1"/><circle cx="346.2" cy="32.7" r="2.1"/><circle cx="258.6" cy="74" r="2.1"/><circle cx="252.7" cy="83.8" r="2.1"/><circle cx="354" cy="20.4" r="2.1"/><circle cx="267.7" cy="69.5" r="2.1"/><circle cx="224.5" cy="100.3" r="2.1"/><circle cx="343.4" cy="33.6" r="2.1"/><circle cx="330" cy="21.5" r="2.1"/><circle cx="233.8" cy="99.5" r="2.1"/><circle cx="219.6" cy="108.8" r="2.1"/><circle cx="292.9" cy="49.8" r="2.1"/><circle cx="283.9" cy="68.7" r="2.1"/><circle cx="285.4" cy="68.4" r="2.1"/><circle cx="234.5" cy="98.7" r="2.1"/><circle cx="350.3" cy="26.8" r="2.1"/><circle cx="242.6" cy="89" r="2.1"/><circle cx="313.6" cy="32.1" r="2.1"/><circle cx="274.4" cy="57.7" r="2.1"/><circle cx="265" cy="80.6" r="2.1"/><circle cx="303.5" cy="40.3" r="2.1"/><circle cx="320.2" cy="24.5" r="2.1"/><circle cx="229.5" cy="100.6" r="2.1"/><circle cx="247" cy="91.8" r="2.1"/><circle cx="316" cy="27.1" r="2.1"/><circle cx="228.6" cy="101" r="2.1"/><circle cx="310.1" cy="54.7" r="2.1"/><circle cx="262" cy="76.4" r="2.1"/><circle cx="240.3" cy="96.5" r="2.1"/><circle cx="309.2" cy="48.6" r="2.1"/><circle cx="321.2" cy="28" r="2.1"/><circle cx="297" cy="60.5" r="2.1"/><circle cx="316.8" cy="54.1" r="2.1"/><circle cx="309" cy="50.1" r="2.1"/><circle cx="294.5" cy="56.8" r="2.1"/><circle cx="353.3" cy="21" r="2.1"/><circle cx="324.1" cy="46.2" r="2.1"/><circle cx="271.7" cy="72.9" r="2.1"/><circle cx="244.2" cy="90.7" r="2.1"/><circle cx="350.6" cy="17.6" r="2.1"/><circle cx="344" cy="22.8" r="2.1"/><circle cx="260.2" cy="78.6" r="2.1"/><circle cx="250.2" cy="93.2" r="2.1"/><circle cx="342.5" cy="17.6" r="2.1"/><circle cx="342.1" cy="30.4" r="2.1"/><circle cx="300.4" cy="40.2" r="2.1"/><circle cx="232.4" cy="102.1" r="2.1"/><circle cx="242.8" cy="89.8" r="2.1"/><circle cx="315.2" cy="44.6" r="2.1"/><circle cx="310.5" cy="43.4" r="2.1"/><circle cx="294.8" cy="51.6" r="2.1"/><circle cx="289.6" cy="56.8" r="2.1"/><circle cx="329.9" cy="25.6" r="2.1"/><circle cx="277.3" cy="61.9" r="2.1"/><circle cx="278.7" cy="63" r="2.1"/><circle cx="271.2" cy="79.8" r="2.1"/><circle cx="300.2" cy="42.5" r="2.1"/><circle cx="219" cy="109.5" r="2.1"/><circle cx="227.8" cy="99.9" r="2.1"/><circle cx="275.9" cy="62.1" r="2.1"/><circle cx="310.5" cy="40.8" r="2.1"/><circle cx="346.9" cy="12.8" r="2.1"/><circle cx="338.6" cy="18.8" r="2.1"/><circle cx="339.1" cy="14.5" r="2.1"/><circle cx="326.2" cy="43.1" r="2.1"/><circle cx="300.6" cy="51.5" r="2.1"/><circle cx="345.9" cy="12.3" r="2.1"/><circle cx="218.7" cy="109.9" r="2.1"/><circle cx="220.1" cy="108.3" r="2.1"/><circle cx="317.7" cy="33.9" r="2.1"/><circle cx="247" cy="87.7" r="2.1"/><circle cx="327.1" cy="42.9" r="2.1"/><circle cx="261" cy="87" r="2.1"/><circle cx="349.7" cy="22" r="2.1"/><circle cx="276.7" cy="76.7" r="2.1"/><circle cx="335" cy="21.3" r="2.1"/><circle cx="334.9" cy="32.4" r="2.1"/><circle cx="220.4" cy="107.7" r="2.1"/><circle cx="314.5" cy="30.6" r="2.1"/><circle cx="316.1" cy="35.3" r="2.1"/><circle cx="260" cy="69.2" r="2.1"/><circle cx="270" cy="82.3" r="2.1"/><circle cx="240.9" cy="102.5" r="2.1"/><circle cx="239" cy="98.5" r="2.1"/><circle cx="261.4" cy="84.2" r="2.1"/><circle cx="273.6" cy="60.6" r="2.1"/><circle cx="244.6" cy="85.7" r="2.1"/><circle cx="339.2" cy="33.9" r="2.1"/><circle cx="290.1" cy="52.2" r="2.1"/><circle cx="281.1" cy="73.2" r="2.1"/><circle cx="258.7" cy="68.4" r="2.1"/><circle cx="309.7" cy="55.7" r="2.1"/><circle cx="332.9" cy="40.4" r="2.1"/><circle cx="252.4" cy="90.3" r="2.1"/><circle cx="325" cy="43.1" r="2.1"/><circle cx="240.5" cy="102.9" r="2.1"/><circle cx="329.5" cy="36.9" r="2.1"/><circle cx="357.2" cy="14.7" r="2.1"/><circle cx="309.1" cy="55.6" r="2.1"/><circle cx="321.5" cy="49.2" r="2.1"/><circle cx="325.6" cy="40" r="2.1"/><circle cx="329.8" cy="38.5" r="2.1"/><circle cx="303.5" cy="40" r="2.1"/><circle cx="321.2" cy="26.8" r="2.1"/><circle cx="257.6" cy="76" r="2.1"/><circle cx="221.1" cy="106.4" r="2.1"/><circle cx="328" cy="18.7" r="2.1"/><circle cx="328.5" cy="47" r="2.1"/><circle cx="222.7" cy="103.9" r="2.1"/><circle cx="331.9" cy="24.6" r="2.1"/><circle cx="262.9" cy="78.2" r="2.1"/><circle cx="268.5" cy="79" r="2.1"/><circle cx="304.1" cy="33.6" r="2.1"/><circle cx="277.6" cy="66.3" r="2.1"/><circle cx="338.3" cy="17.3" r="2.1"/><circle cx="313.8" cy="53.1" r="2.1"/><circle cx="334.5" cy="20.7" r="2.1"/><circle cx="242.2" cy="92.4" r="2.1"/><circle cx="337.6" cy="38.7" r="2.1"/><circle cx="339.8" cy="30.7" r="2.1"/><circle cx="230.3" cy="102.8" r="2.1"/><circle cx="278.8" cy="60.3" r="2.1"/><circle cx="292.2" cy="58.4" r="2.1"/><circle cx="318.7" cy="27.7" r="2.1"/><circle cx="260.6" cy="72.5" r="2.1"/><circle cx="303.7" cy="37.7" r="2.1"/><circle cx="282.7" cy="53.7" r="2.1"/><circle cx="285.6" cy="65" r="2.1"/><circle cx="328.2" cy="43.8" r="2.1"/><circle cx="285.9" cy="61.5" r="2.1"/><circle cx="267.5" cy="76.9" r="2.1"/><circle cx="282.4" cy="53.8" r="2.1"/><circle cx="272.5" cy="63.4" r="2.1"/><circle cx="263.3" cy="66.7" r="2.1"/><circle cx="317.7" cy="35.2" r="2.1"/><circle cx="253.8" cy="87.8" r="2.1"/><circle cx="297.8" cy="47.6" r="2.1"/><circle cx="304.8" cy="35.8" r="2.1"/><circle cx="269.6" cy="79.8" r="2.1"/><circle cx="250.8" cy="81.2" r="2.1"/><circle cx="278.4" cy="75" r="2.1"/><circle cx="313" cy="45.1" r="2.1"/><circle cx="263.8" cy="77" r="2.1"/><circle cx="298.5" cy="53.2" r="2.1"/><circle cx="342.6" cy="35.2" r="2.1"/><circle cx="294.9" cy="50.4" r="2.1"/><circle cx="220.9" cy="106.8" r="2.1"/><circle cx="346" cy="29.4" r="2.1"/><circle cx="279.4" cy="54.9" r="2.1"/><circle cx="301.9" cy="40.3" r="2.1"/><circle cx="347" cy="23.5" r="2.1"/><circle cx="237" cy="96.1" r="2.1"/><circle cx="280.4" cy="70.1" r="2.1"/><circle cx="353" cy="22.8" r="2.1"/><circle cx="279.8" cy="72.1" r="2.1"/><circle cx="334.2" cy="38.1" r="2.1"/><circle cx="312" cy="30.1" r="2.1"/><circle cx="345.4" cy="12.5" r="2.1"/><circle cx="257.1" cy="69.8" r="2.1"/><circle cx="330.7" cy="33.3" r="2.1"/><circle cx="265.9" cy="66.8" r="2.1"/><circle cx="317.5" cy="36.8" r="2.1"/><circle cx="264.1" cy="80" r="2.1"/><circle cx="285.8" cy="70.2" r="2.1"/><circle cx="260.6" cy="74.2" r="2.1"/><circle cx="308" cy="52.7" r="2.1"/><circle cx="292" cy="62.1" r="2.1"/><circle cx="340.3" cy="20.8" r="2.1"/><circle cx="319.2" cy="34.5" r="2.1"/><circle cx="310.8" cy="39.6" r="2.1"/><circle cx="279.1" cy="59.4" r="2.1"/><circle cx="286.2" cy="71.6" r="2.1"/><circle cx="225.8" cy="100.1" r="2.1"/><circle cx="232.3" cy="97.6" r="2.1"/><circle cx="335.9" cy="16.2" r="2.1"/><circle cx="295.5" cy="57.3" r="2.1"/><circle cx="331.6" cy="29" r="2.1"/><circle cx="265.9" cy="82.7" r="2.1"/><circle cx="253.6" cy="89.8" r="2.1"/><circle cx="344" cy="14.4" r="2.1"/><circle cx="260.7" cy="86.1" r="2.1"/><circle cx="220.8" cy="106.9" r="2.1"/><circle cx="264.1" cy="72.4" r="2.1"/><circle cx="351.2" cy="11.9" r="2.1"/><circle cx="259.1" cy="82" r="2.1"/><circle cx="261.3" cy="68.8" r="2.1"/><circle cx="255.1" cy="90.6" r="2.1"/><circle cx="227.4" cy="100.1" r="2.1"/><circle cx="282.4" cy="66.4" r="2.1"/><circle cx="316.2" cy="27.2" r="2.1"/><circle cx="233.3" cy="102.8" r="2.1"/><circle cx="333.1" cy="18.4" r="2.1"/><circle cx="267.8" cy="66.7" r="2.1"/><circle cx="275.8" cy="51.5" r="2.1"/><circle cx="282.8" cy="67.4" r="2.1"/><circle cx="291.1" cy="67.7" r="2.1"/><circle cx="239.4" cy="103.5" r="2.1"/><circle cx="355.6" cy="18.4" r="2.1"/><circle cx="266.1" cy="86.4" r="2.1"/><circle cx="275.2" cy="65.9" r="2.1"/><circle cx="340.7" cy="24.5" r="2.1"/><circle cx="237.3" cy="97.3" r="2.1"/><circle cx="316.2" cy="44.6" r="2.1"/><circle cx="356.3" cy="14.3" r="2.1"/><circle cx="244.9" cy="93.4" r="2.1"/><circle cx="250.6" cy="83.5" r="2.1"/><circle cx="294.2" cy="58.4" r="2.1"/><circle cx="333" cy="40.5" r="2.1"/><circle cx="254.9" cy="78.9" r="2.1"/><circle cx="266" cy="72.3" r="2.1"/><circle cx="321.2" cy="31.4" r="2.1"/><circle cx="302.9" cy="38.8" r="2.1"/><circle cx="269.1" cy="77.3" r="2.1"/><circle cx="253.5" cy="87.2" r="2.1"/><circle cx="244.5" cy="85.6" r="2.1"/><circle cx="351.3" cy="11.8" r="2.1"/><circle cx="346.2" cy="15.7" r="2.1"/><circle cx="230.9" cy="98.2" r="2.1"/><circle cx="261.2" cy="66.5" r="2.1"/><circle cx="321.7" cy="43.5" r="2.1"/><circle cx="326.2" cy="48.7" r="2.1"/><circle cx="351.7" cy="17.4" r="2.1"/><circle cx="336" cy="36.8" r="2.1"/><circle cx="239.2" cy="93.3" r="2.1"/><circle cx="346.8" cy="30.7" r="2.1"/><circle cx="253.5" cy="73" r="2.1"/><circle cx="227.3" cy="100.9" r="2.1"/><circle cx="308.2" cy="48.3" r="2.1"/><circle cx="304" cy="59.7" r="2.1"/><circle cx="265.2" cy="78.6" r="2.1"/><circle cx="296.7" cy="52.2" r="2.1"/><circle cx="297" cy="52.2" r="2.1"/><circle cx="233.2" cy="100.6" r="2.1"/><circle cx="237.2" cy="95.4" r="2.1"/><circle cx="317.2" cy="40" r="2.1"/><circle cx="335" cy="18.4" r="2.1"/><circle cx="347.5" cy="31.6" r="2.1"/><circle cx="247.5" cy="93.4" r="2.1"/><circle cx="354.7" cy="12.7" r="2.1"/><circle cx="240.8" cy="93.2" r="2.1"/><circle cx="327.7" cy="48.9" r="2.1"/><circle cx="318.7" cy="30.5" r="2.1"/><circle cx="280.8" cy="61.8" r="2.1"/><circle cx="307.8" cy="59.5" r="2.1"/><circle cx="268.7" cy="78.4" r="2.1"/><circle cx="322.8" cy="30.5" r="2.1"/><circle cx="320" cy="47.7" r="2.1"/><circle cx="325.9" cy="47.5" r="2.1"/><circle cx="354.5" cy="16.2" r="2.1"/><circle cx="322" cy="29.1" r="2.1"/><circle cx="253.1" cy="74.3" r="2.1"/><circle cx="302.3" cy="43.3" r="2.1"/><circle cx="280.6" cy="63.2" r="2.1"/><circle cx="285.7" cy="56.2" r="2.1"/><circle cx="326.5" cy="44.6" r="2.1"/><circle cx="342.8" cy="32.9" r="2.1"/><circle cx="254.7" cy="86.3" r="2.1"/><circle cx="248.5" cy="78.3" r="2.1"/><circle cx="219.8" cy="108.7" r="2.1"/><circle cx="284.2" cy="66.7" r="2.1"/><circle cx="312.3" cy="56" r="2.1"/><circle cx="266" cy="70.2" r="2.1"/><circle cx="318.3" cy="26.5" r="2.1"/><circle cx="321.7" cy="41.5" r="2.1"/><circle cx="279" cy="60.8" r="2.1"/><circle cx="294.9" cy="53" r="2.1"/><circle cx="259" cy="73.7" r="2.1"/><circle cx="268.2" cy="84.3" r="2.1"/><circle cx="251.2" cy="84.5" r="2.1"/><circle cx="317.2" cy="33.3" r="2.1"/><circle cx="303" cy="58.1" r="2.1"/><circle cx="304.9" cy="56.5" r="2.1"/><circle cx="284.7" cy="57.4" r="2.1"/><circle cx="323.9" cy="34.9" r="2.1"/><circle cx="262.3" cy="80.3" r="2.1"/><circle cx="229.3" cy="102.4" r="2.1"/><circle cx="300.8" cy="56" r="2.1"/><circle cx="296.3" cy="50.5" r="2.1"/><circle cx="310.1" cy="37.9" r="2.1"/><circle cx="352.2" cy="23" r="2.1"/><circle cx="237.7" cy="100.9" r="2.1"/><circle cx="332.4" cy="16.9" r="2.1"/><circle cx="243.9" cy="86.8" r="2.1"/><circle cx="235.8" cy="98.1" r="2.1"/><circle cx="290.9" cy="40.8" r="2.1"/><circle cx="304.1" cy="55.9" r="2.1"/><circle cx="303.5" cy="38.3" r="2.1"/><circle cx="322.9" cy="23.2" r="2.1"/></g><clipPath id="cpb"><rect x="218.5" y="7" width="139.7" height="104.3"/></clipPath><line clip-path="url(#cpb)" x1="218.5" y1="111.3" x2="358.2" y2="9.4" stroke="#ff0000" stroke-width="3.2"/><rect x="218.5" y="7" width="139.7" height="104.3" fill="none" stroke="#8c8c8c" stroke-width="0.9"/><path d="M218.5 111.3v-1.4M218.5 7v1.4M218.5 111.3h1.4M358.2 111.3h-1.4M258.7 111.3v-1.4M258.7 7v1.4M218.5 82h1.4M358.2 82h-1.4M298.9 111.3v-1.4M298.9 7v1.4M218.5 52.6h1.4M358.2 52.6h-1.4M339.1 111.3v-1.4M339.1 7v1.4M218.5 23.3h1.4M358.2 23.3h-1.4" stroke="#8c8c8c" stroke-width="0.8" fill="none"/><g font-family="'Liberation Serif', 'DejaVu Serif', serif" font-weight="bold" font-size="10.2" fill="#000"><text x="218.5" y="123.6" text-anchor="middle">0</text><text x="215.7" y="114.8" text-anchor="end">0</text><text x="258.7" y="123.6" text-anchor="middle">50</text><text x="215.7" y="85.5" text-anchor="end">50</text><text x="298.9" y="123.6" text-anchor="middle">100</text><text x="215.7" y="56.1" text-anchor="end">100</text><text x="339.1" y="123.6" text-anchor="middle">150</text><text x="215.7" y="26.8" text-anchor="end">150</text><text x="287.5" y="136" text-anchor="middle" font-size="10.8">PV Power Test (W)</text><text transform="translate(196.7 59.9) rotate(-90)" text-anchor="middle" font-size="10.82">PV Power Forecast (W)</text></g><g stroke="#efefef" stroke-width="0.8"><line x1="443.9" y1="7" x2="443.9" y2="111.4"/><line x1="403.5" y1="81.1" x2="543.5" y2="81.1"/><line x1="484.4" y1="7" x2="484.4" y2="111.4"/><line x1="403.5" y1="50.7" x2="543.5" y2="50.7"/><line x1="524.8" y1="7" x2="524.8" y2="111.4"/><line x1="403.5" y1="20.4" x2="543.5" y2="20.4"/></g><g fill="#00cca2" stroke="#0000ff" stroke-width="1.2"><circle cx="403.7" cy="111.2" r="2.1"/><circle cx="521.5" cy="24.2" r="2.1"/><circle cx="507.7" cy="34.3" r="2.1"/><circle cx="489.6" cy="45.6" r="2.1"/><circle cx="520.2" cy="23.5" r="2.1"/><circle cx="413.3" cy="105.8" r="2.1"/><circle cx="534.2" cy="12.1" r="2.1"/><circle cx="531.5" cy="16" r="2.1"/><circle cx="445.4" cy="78.5" r="2.1"/><circle cx="503.3" cy="36.4" r="2.1"/><circle cx="464.1" cy="66" r="2.1"/><circle cx="494.7" cy="44" r="2.1"/><circle cx="486.9" cy="50.2" r="2.1"/><circle cx="455.7" cy="72.2" r="2.1"/><circle cx="412.5" cy="104.3" r="2.1"/><circle cx="430.5" cy="91.4" r="2.1"/><circle cx="537.6" cy="10.6" r="2.1"/><circle cx="524.8" cy="20.9" r="2.1"/><circle cx="426.3" cy="94.3" r="2.1"/><circle cx="414.7" cy="102.1" r="2.1"/><circle cx="435" cy="86.8" r="2.1"/><circle cx="442.7" cy="83.8" r="2.1"/><circle cx="410.3" cy="106.2" r="2.1"/><circle cx="470.1" cy="60.7" r="2.1"/><circle cx="476" cy="56.9" r="2.1"/><circle cx="515.1" cy="29.8" r="2.1"/><circle cx="415.6" cy="102.1" r="2.1"/><circle cx="455.7" cy="72.9" r="2.1"/><circle cx="458.5" cy="69.5" r="2.1"/><circle cx="535.8" cy="12.7" r="2.1"/><circle cx="469.1" cy="60.7" r="2.1"/><circle cx="522" cy="23.5" r="2.1"/><circle cx="455.7" cy="71.6" r="2.1"/><circle cx="511.6" cy="29.2" r="2.1"/><circle cx="410.3" cy="105.9" r="2.1"/><circle cx="524.1" cy="19.3" r="2.1"/><circle cx="452.1" cy="74.1" r="2.1"/><circle cx="450.3" cy="74.5" r="2.1"/><circle cx="432.7" cy="89.3" r="2.1"/><circle cx="476.7" cy="55.4" r="2.1"/><circle cx="493.2" cy="45.6" r="2.1"/><circle cx="513.7" cy="27.4" r="2.1"/><circle cx="456" cy="69.5" r="2.1"/><circle cx="540.7" cy="9.8" r="2.1"/><circle cx="464.6" cy="65.4" r="2.1"/><circle cx="492.3" cy="46.6" r="2.1"/><circle cx="525.1" cy="19.4" r="2.1"/><circle cx="446.9" cy="81.4" r="2.1"/><circle cx="537.7" cy="11.4" r="2.1"/><circle cx="478.4" cy="55.6" r="2.1"/><circle cx="480.3" cy="50" r="2.1"/><circle cx="526.8" cy="19" r="2.1"/><circle cx="534.7" cy="11.2" r="2.1"/><circle cx="419" cy="99.1" r="2.1"/><circle cx="420.1" cy="100.8" r="2.1"/><circle cx="501.1" cy="38.4" r="2.1"/><circle cx="448.1" cy="79.6" r="2.1"/><circle cx="512.6" cy="29.9" r="2.1"/><circle cx="479" cy="52.3" r="2.1"/><circle cx="431.5" cy="91.8" r="2.1"/><circle cx="523.7" cy="21.3" r="2.1"/><circle cx="518.7" cy="25.5" r="2.1"/><circle cx="506.5" cy="34.1" r="2.1"/><circle cx="521.1" cy="23.2" r="2.1"/><circle cx="533.9" cy="13.2" r="2.1"/><circle cx="461.4" cy="69" r="2.1"/><circle cx="530.2" cy="17.9" r="2.1"/><circle cx="527.2" cy="17.8" r="2.1"/><circle cx="424.6" cy="95.3" r="2.1"/><circle cx="487.4" cy="47.8" r="2.1"/><circle cx="498.2" cy="41.5" r="2.1"/><circle cx="487.6" cy="48.6" r="2.1"/><circle cx="524" cy="21" r="2.1"/><circle cx="414" cy="103" r="2.1"/><circle cx="450.4" cy="76.6" r="2.1"/><circle cx="448.8" cy="76.9" r="2.1"/><circle cx="492" cy="43" r="2.1"/><circle cx="500.7" cy="37.9" r="2.1"/><circle cx="441.9" cy="82.3" r="2.1"/><circle cx="450.8" cy="75.1" r="2.1"/><circle cx="448.6" cy="80.3" r="2.1"/><circle cx="469.2" cy="62" r="2.1"/><circle cx="443" cy="80.6" r="2.1"/><circle cx="406.3" cy="109.8" r="2.1"/><circle cx="423" cy="97.3" r="2.1"/><circle cx="420.6" cy="99.2" r="2.1"/><circle cx="511.6" cy="29.8" r="2.1"/><circle cx="515.2" cy="27.1" r="2.1"/><circle cx="509.9" cy="32" r="2.1"/><circle cx="441.2" cy="84.3" r="2.1"/><circle cx="451.9" cy="74.8" r="2.1"/><circle cx="417.1" cy="99.8" r="2.1"/><circle cx="495.9" cy="41.9" r="2.1"/><circle cx="457.9" cy="70.2" r="2.1"/><circle cx="519.8" cy="25.1" r="2.1"/><circle cx="421.7" cy="97.1" r="2.1"/><circle cx="520.9" cy="23.7" r="2.1"/><circle cx="507.6" cy="33.4" r="2.1"/><circle cx="535.1" cy="13.4" r="2.1"/><circle cx="522.1" cy="20.3" r="2.1"/><circle cx="452.7" cy="71.7" r="2.1"/><circle cx="466.5" cy="65.3" r="2.1"/><circle cx="445" cy="79.4" r="2.1"/><circle cx="405.6" cy="109.9" r="2.1"/><circle cx="511.2" cy="31.3" r="2.1"/><circle cx="503.3" cy="37.5" r="2.1"/><circle cx="505.6" cy="34" r="2.1"/><circle cx="473.1" cy="59.9" r="2.1"/><circle cx="500.7" cy="36.3" r="2.1"/><circle cx="539.5" cy="8.2" r="2.1"/><circle cx="471.4" cy="60.8" r="2.1"/><circle cx="432.4" cy="90.8" r="2.1"/><circle cx="427.5" cy="92.1" r="2.1"/><circle cx="410.2" cy="103.3" r="2.1"/><circle cx="533.6" cy="15.5" r="2.1"/><circle cx="433.9" cy="87.8" r="2.1"/><circle cx="451.7" cy="74.5" r="2.1"/><circle cx="526.7" cy="17.6" r="2.1"/><circle cx="535.3" cy="10.6" r="2.1"/><circle cx="517.2" cy="25.4" r="2.1"/><circle cx="538.3" cy="11.9" r="2.1"/><circle cx="436.2" cy="87.8" r="2.1"/><circle cx="410.1" cy="105.6" r="2.1"/><circle cx="492.8" cy="44.2" r="2.1"/><circle cx="476.1" cy="56" r="2.1"/><circle cx="488" cy="47.9" r="2.1"/><circle cx="441.7" cy="83" r="2.1"/><circle cx="465.4" cy="64.3" r="2.1"/><circle cx="433.6" cy="86.1" r="2.1"/><circle cx="510.8" cy="30.3" r="2.1"/><circle cx="448.5" cy="77.4" r="2.1"/><circle cx="421.7" cy="94.6" r="2.1"/><circle cx="513.2" cy="26.6" r="2.1"/><circle cx="455.5" cy="69.3" r="2.1"/><circle cx="450.1" cy="76.8" r="2.1"/><circle cx="527.7" cy="16.3" r="2.1"/><circle cx="479.7" cy="53.9" r="2.1"/><circle cx="468.8" cy="62.7" r="2.1"/><circle cx="454.6" cy="71.2" r="2.1"/><circle cx="432.5" cy="89" r="2.1"/><circle cx="449.6" cy="76.8" r="2.1"/><circle cx="540.2" cy="9.3" r="2.1"/><circle cx="484.4" cy="50.2" r="2.1"/><circle cx="529.3" cy="15.3" r="2.1"/><circle cx="458.8" cy="68.9" r="2.1"/><circle cx="433.1" cy="91" r="2.1"/><circle cx="528.5" cy="16.1" r="2.1"/><circle cx="415.7" cy="99.9" r="2.1"/><circle cx="495.9" cy="42.2" r="2.1"/><circle cx="457.6" cy="70.9" r="2.1"/><circle cx="502" cy="36.1" r="2.1"/><circle cx="435.4" cy="88.1" r="2.1"/><circle cx="436.8" cy="88.5" r="2.1"/><circle cx="459.6" cy="69.7" r="2.1"/><circle cx="475.6" cy="57.4" r="2.1"/><circle cx="448.4" cy="78.4" r="2.1"/><circle cx="498.8" cy="41" r="2.1"/><circle cx="475.5" cy="56.6" r="2.1"/><circle cx="435.1" cy="88.8" r="2.1"/><circle cx="506.7" cy="31.5" r="2.1"/><circle cx="486.5" cy="49.2" r="2.1"/><circle cx="408" cy="104.7" r="2.1"/><circle cx="538" cy="8.7" r="2.1"/><circle cx="487.5" cy="47.4" r="2.1"/><circle cx="464.6" cy="63.5" r="2.1"/><circle cx="479.9" cy="53.4" r="2.1"/><circle cx="419.8" cy="99.3" r="2.1"/><circle cx="537.6" cy="11.1" r="2.1"/><circle cx="472.9" cy="55.6" r="2.1"/><circle cx="508.9" cy="31.5" r="2.1"/><circle cx="488.8" cy="44.8" r="2.1"/><circle cx="470.7" cy="61.3" r="2.1"/><circle cx="502.5" cy="36.9" r="2.1"/><circle cx="436.4" cy="85.7" r="2.1"/><circle cx="505.6" cy="33.3" r="2.1"/><circle cx="541" cy="8.4" r="2.1"/><circle cx="539.5" cy="8.3" r="2.1"/><circle cx="500.7" cy="38.5" r="2.1"/><circle cx="433.1" cy="89.4" r="2.1"/><circle cx="524.6" cy="19.2" r="2.1"/><circle cx="433.8" cy="89.4" r="2.1"/><circle cx="417.8" cy="99" r="2.1"/><circle cx="489.1" cy="46.1" r="2.1"/><circle cx="487.3" cy="47.1" r="2.1"/><circle cx="509" cy="32.3" r="2.1"/><circle cx="412" cy="104" r="2.1"/><circle cx="455.5" cy="70.2" r="2.1"/><circle cx="504" cy="35.3" r="2.1"/><circle cx="444.9" cy="80.1" r="2.1"/><circle cx="423.5" cy="96.8" r="2.1"/><circle cx="409" cy="104.9" r="2.1"/><circle cx="501.8" cy="39" r="2.1"/><circle cx="496.7" cy="41.1" r="2.1"/><circle cx="450.6" cy="75.8" r="2.1"/><circle cx="475.4" cy="58.9" r="2.1"/><circle cx="468.3" cy="64.2" r="2.1"/><circle cx="422" cy="99.1" r="2.1"/><circle cx="533" cy="16.4" r="2.1"/><circle cx="498.2" cy="41.7" r="2.1"/><circle cx="504.5" cy="36.3" r="2.1"/><circle cx="494.8" cy="42.3" r="2.1"/><circle cx="496.7" cy="42" r="2.1"/><circle cx="423.9" cy="96.9" r="2.1"/><circle cx="415.4" cy="104" r="2.1"/><circle cx="523.2" cy="19.9" r="2.1"/><circle cx="452.5" cy="75.4" r="2.1"/><circle cx="430.3" cy="90.2" r="2.1"/><circle cx="454.5" cy="71.5" r="2.1"/><circle cx="447.6" cy="79.4" r="2.1"/><circle cx="443" cy="81.7" r="2.1"/><circle cx="444.5" cy="80.5" r="2.1"/><circle cx="471" cy="61.1" r="2.1"/><circle cx="522.4" cy="21.9" r="2.1"/><circle cx="483" cy="51.6" r="2.1"/><circle cx="463.7" cy="65.9" r="2.1"/><circle cx="480.2" cy="52.5" r="2.1"/><circle cx="531.8" cy="17.3" r="2.1"/><circle cx="409.7" cy="104.8" r="2.1"/><circle cx="528.6" cy="17.5" r="2.1"/><circle cx="499.3" cy="38.8" r="2.1"/><circle cx="487" cy="46.8" r="2.1"/><circle cx="489.4" cy="46.7" r="2.1"/><circle cx="415.6" cy="100.2" r="2.1"/><circle cx="500.8" cy="39.3" r="2.1"/><circle cx="484.3" cy="52.2" r="2.1"/><circle cx="415.7" cy="102.9" r="2.1"/><circle cx="519.1" cy="25" r="2.1"/><circle cx="469.8" cy="61" r="2.1"/><circle cx="467.4" cy="65.9" r="2.1"/><circle cx="451.9" cy="75.5" r="2.1"/><circle cx="521.6" cy="22.5" r="2.1"/><circle cx="522.3" cy="21.1" r="2.1"/><circle cx="447" cy="79.9" r="2.1"/><circle cx="407" cy="107.2" r="2.1"/><circle cx="418.4" cy="99.6" r="2.1"/><circle cx="489.6" cy="44.3" r="2.1"/><circle cx="457.2" cy="70.5" r="2.1"/><circle cx="437.3" cy="86.6" r="2.1"/><circle cx="510.9" cy="31.7" r="2.1"/><circle cx="484.4" cy="51.7" r="2.1"/><circle cx="518.6" cy="26.4" r="2.1"/><circle cx="472.5" cy="58.2" r="2.1"/><circle cx="519.3" cy="25.4" r="2.1"/><circle cx="540.5" cy="9.3" r="2.1"/><circle cx="441.7" cy="83.5" r="2.1"/><circle cx="490.2" cy="47.2" r="2.1"/><circle cx="438.9" cy="84.5" r="2.1"/><circle cx="406.7" cy="107.8" r="2.1"/><circle cx="465.6" cy="67" r="2.1"/><circle cx="435.1" cy="85.1" r="2.1"/><circle cx="437.5" cy="84.1" r="2.1"/><circle cx="433.5" cy="86.9" r="2.1"/><circle cx="509.6" cy="29.9" r="2.1"/><circle cx="434.3" cy="89.8" r="2.1"/><circle cx="496.2" cy="42.9" r="2.1"/><circle cx="422.3" cy="95.6" r="2.1"/><circle cx="411.9" cy="103.7" r="2.1"/><circle cx="537.9" cy="9.1" r="2.1"/><circle cx="462.1" cy="67.6" r="2.1"/><circle cx="486.6" cy="49.8" r="2.1"/><circle cx="491.7" cy="45.9" r="2.1"/><circle cx="436.3" cy="85.8" r="2.1"/><circle cx="425.3" cy="93.4" r="2.1"/><circle cx="416.8" cy="102.4" r="2.1"/><circle cx="507.8" cy="34.1" r="2.1"/><circle cx="471.7" cy="59.9" r="2.1"/><circle cx="496.2" cy="41.1" r="2.1"/><circle cx="524" cy="19.9" r="2.1"/><circle cx="530.1" cy="15.9" r="2.1"/><circle cx="480.1" cy="51.5" r="2.1"/><circle cx="466.7" cy="66.3" r="2.1"/><circle cx="417.2" cy="99" r="2.1"/><circle cx="538.7" cy="8.6" r="2.1"/><circle cx="521.6" cy="23" r="2.1"/><circle cx="524.6" cy="19" r="2.1"/><circle cx="517.2" cy="24.2" r="2.1"/><circle cx="483.4" cy="50.4" r="2.1"/><circle cx="431.3" cy="90.2" r="2.1"/><circle cx="468.7" cy="60.7" r="2.1"/><circle cx="528.1" cy="18.6" r="2.1"/><circle cx="426.8" cy="92.4" r="2.1"/><circle cx="414.5" cy="103.7" r="2.1"/><circle cx="427.5" cy="91.9" r="2.1"/><circle cx="501.5" cy="36.5" r="2.1"/><circle cx="443.9" cy="81" r="2.1"/><circle cx="417.3" cy="100.5" r="2.1"/><circle cx="427.6" cy="90.8" r="2.1"/><circle cx="433.8" cy="87.9" r="2.1"/><circle cx="411.6" cy="105.6" r="2.1"/><circle cx="431.6" cy="88.3" r="2.1"/><circle cx="433.9" cy="90.4" r="2.1"/><circle cx="456.9" cy="69.3" r="2.1"/><circle cx="446.7" cy="78.6" r="2.1"/><circle cx="440.7" cy="83.6" r="2.1"/><circle cx="505.4" cy="38" r="2.1"/><circle cx="416.4" cy="101.4" r="2.1"/><circle cx="443.6" cy="78.8" r="2.1"/><circle cx="438.7" cy="82.9" r="2.1"/><circle cx="526.3" cy="20.4" r="2.1"/><circle cx="476" cy="55.4" r="2.1"/><circle cx="492.4" cy="44.1" r="2.1"/><circle cx="501.4" cy="38.9" r="2.1"/><circle cx="480.5" cy="51.4" r="2.1"/><circle cx="443.9" cy="79.6" r="2.1"/><circle cx="530.8" cy="16.9" r="2.1"/><circle cx="537.9" cy="10.7" r="2.1"/><circle cx="426.5" cy="92.9" r="2.1"/><circle cx="495.8" cy="43.3" r="2.1"/><circle cx="534.5" cy="14.4" r="2.1"/><circle cx="476.7" cy="56.6" r="2.1"/><circle cx="417.6" cy="100.8" r="2.1"/><circle cx="508.9" cy="32.2" r="2.1"/><circle cx="490" cy="46.5" r="2.1"/><circle cx="475.7" cy="57.9" r="2.1"/><circle cx="425.2" cy="94.3" r="2.1"/><circle cx="497.1" cy="40.2" r="2.1"/><circle cx="416.5" cy="99.5" r="2.1"/><circle cx="494.2" cy="42.6" r="2.1"/><circle cx="508.2" cy="33.1" r="2.1"/><circle cx="445.6" cy="80.9" r="2.1"/><circle cx="407.1" cy="105.8" r="2.1"/><circle cx="539.1" cy="10" r="2.1"/><circle cx="452.8" cy="75.8" r="2.1"/><circle cx="522.5" cy="21.6" r="2.1"/><circle cx="481.1" cy="50.9" r="2.1"/><circle cx="466.6" cy="63.7" r="2.1"/><circle cx="479.2" cy="53.2" r="2.1"/><circle cx="488.7" cy="44.7" r="2.1"/><circle cx="475.8" cy="56.3" r="2.1"/><circle cx="432" cy="88.3" r="2.1"/><circle cx="460.7" cy="67.5" r="2.1"/><circle cx="436.5" cy="87.4" r="2.1"/><circle cx="453" cy="76.4" r="2.1"/><circle cx="514.5" cy="28.3" r="2.1"/><circle cx="512.6" cy="28.6" r="2.1"/><circle cx="447.5" cy="79" r="2.1"/><circle cx="535.2" cy="13" r="2.1"/><circle cx="524.5" cy="19.4" r="2.1"/><circle cx="412.1" cy="103" r="2.1"/><circle cx="464.9" cy="63.3" r="2.1"/><circle cx="523.4" cy="20.2" r="2.1"/><circle cx="430.8" cy="90.5" r="2.1"/><circle cx="427.2" cy="93.2" r="2.1"/><circle cx="448.1" cy="75.5" r="2.1"/><circle cx="464.3" cy="65" r="2.1"/><circle cx="527.8" cy="17.5" r="2.1"/><circle cx="467.6" cy="60.4" r="2.1"/><circle cx="472.8" cy="59.2" r="2.1"/><circle cx="487.7" cy="47.8" r="2.1"/><circle cx="505.9" cy="34.4" r="2.1"/><circle cx="421.7" cy="97.9" r="2.1"/><circle cx="429.6" cy="92.3" r="2.1"/><circle cx="536.2" cy="11.8" r="2.1"/><circle cx="431.2" cy="89.7" r="2.1"/><circle cx="452" cy="72.6" r="2.1"/><circle cx="512.4" cy="28.9" r="2.1"/><circle cx="441.2" cy="83.8" r="2.1"/><circle cx="457.5" cy="71.8" r="2.1"/><circle cx="429.8" cy="93.7" r="2.1"/><circle cx="475" cy="56.7" r="2.1"/><circle cx="510.2" cy="31.5" r="2.1"/><circle cx="508.9" cy="31" r="2.1"/><circle cx="532.5" cy="14.4" r="2.1"/><circle cx="516.2" cy="26.7" r="2.1"/><circle cx="477.7" cy="54.6" r="2.1"/><circle cx="496.6" cy="38.9" r="2.1"/><circle cx="421.6" cy="97.2" r="2.1"/><circle cx="407.7" cy="106.7" r="2.1"/><circle cx="518.7" cy="24.6" r="2.1"/><circle cx="519" cy="24.6" r="2.1"/><circle cx="481" cy="52" r="2.1"/><circle cx="409.1" cy="106.2" r="2.1"/><circle cx="447.6" cy="75.3" r="2.1"/><circle cx="515.4" cy="24.9" r="2.1"/><circle cx="439.1" cy="84.1" r="2.1"/><circle cx="538.9" cy="10.6" r="2.1"/><circle cx="452.8" cy="72.9" r="2.1"/><circle cx="518.6" cy="23.7" r="2.1"/><circle cx="462.7" cy="67.3" r="2.1"/><circle cx="462.1" cy="66" r="2.1"/><circle cx="529.4" cy="18.6" r="2.1"/><circle cx="536.5" cy="12.8" r="2.1"/><circle cx="536" cy="12.2" r="2.1"/><circle cx="436" cy="88.2" r="2.1"/><circle cx="439.8" cy="81.5" r="2.1"/><circle cx="414.2" cy="102.7" r="2.1"/><circle cx="532" cy="16.6" r="2.1"/><circle cx="524.3" cy="22.1" r="2.1"/><circle cx="509.3" cy="30.5" r="2.1"/><circle cx="481.8" cy="52.6" r="2.1"/><circle cx="446.8" cy="78.4" r="2.1"/><circle cx="446.5" cy="77.4" r="2.1"/><circle cx="522.9" cy="23.3" r="2.1"/><circle cx="526.7" cy="18.5" r="2.1"/><circle cx="408.8" cy="108.1" r="2.1"/><circle cx="475.5" cy="55.5" r="2.1"/><circle cx="448.6" cy="78.1" r="2.1"/><circle cx="528.1" cy="17.7" r="2.1"/><circle cx="536.8" cy="11.9" r="2.1"/><circle cx="483" cy="53.2" r="2.1"/><circle cx="421.1" cy="95.3" r="2.1"/><circle cx="446.3" cy="78.2" r="2.1"/><circle cx="466.9" cy="64.9" r="2.1"/><circle cx="520.4" cy="21.5" r="2.1"/><circle cx="464.3" cy="65.7" r="2.1"/><circle cx="496.6" cy="42" r="2.1"/><circle cx="471.6" cy="60.7" r="2.1"/><circle cx="477.1" cy="55.6" r="2.1"/><circle cx="446.2" cy="80.2" r="2.1"/><circle cx="444.1" cy="81.5" r="2.1"/><circle cx="529.6" cy="15" r="2.1"/><circle cx="417.2" cy="103.1" r="2.1"/><circle cx="497.7" cy="39.4" r="2.1"/><circle cx="479.9" cy="52.8" r="2.1"/><circle cx="487.9" cy="46.4" r="2.1"/><circle cx="535.9" cy="13.3" r="2.1"/><circle cx="469.1" cy="62.4" r="2.1"/><circle cx="510.9" cy="29.3" r="2.1"/><circle cx="481.7" cy="53.4" r="2.1"/><circle cx="528.7" cy="18.6" r="2.1"/><circle cx="408.7" cy="107.7" r="2.1"/><circle cx="489.4" cy="45.6" r="2.1"/><circle cx="494.8" cy="42.7" r="2.1"/><circle cx="466.7" cy="63.6" r="2.1"/><circle cx="416.6" cy="100.6" r="2.1"/><circle cx="438.1" cy="84.2" r="2.1"/><circle cx="432.9" cy="90.2" r="2.1"/><circle cx="428.2" cy="90.2" r="2.1"/><circle cx="529.9" cy="15" r="2.1"/><circle cx="451.3" cy="74.5" r="2.1"/><circle cx="450.1" cy="76.6" r="2.1"/><circle cx="439.8" cy="85.5" r="2.1"/><circle cx="419.8" cy="99.9" r="2.1"/><circle cx="445.1" cy="77.7" r="2.1"/><circle cx="533.7" cy="16.3" r="2.1"/><circle cx="462.1" cy="65.7" r="2.1"/><circle cx="434.3" cy="87.8" r="2.1"/><circle cx="537.8" cy="11.2" r="2.1"/><circle cx="422.2" cy="95.5" r="2.1"/><circle cx="529.9" cy="17.7" r="2.1"/><circle cx="539.3" cy="8.8" r="2.1"/><circle cx="529.5" cy="16.2" r="2.1"/><circle cx="472.2" cy="60.4" r="2.1"/><circle cx="432.1" cy="87.9" r="2.1"/><circle cx="439.9" cy="84.9" r="2.1"/><circle cx="537.2" cy="9.3" r="2.1"/><circle cx="429.9" cy="91.7" r="2.1"/><circle cx="443.5" cy="80" r="2.1"/><circle cx="442.3" cy="82.2" r="2.1"/><circle cx="515.3" cy="30.2" r="2.1"/><circle cx="464" cy="65.8" r="2.1"/><circle cx="539.5" cy="8.7" r="2.1"/><circle cx="516" cy="22.7" r="2.1"/><circle cx="476.6" cy="55.4" r="2.1"/><circle cx="511.6" cy="30.8" r="2.1"/><circle cx="520.1" cy="24" r="2.1"/><circle cx="406.5" cy="105.1" r="2.1"/><circle cx="413.6" cy="103.5" r="2.1"/><circle cx="524.5" cy="21.4" r="2.1"/><circle cx="433.4" cy="88.2" r="2.1"/><circle cx="473.6" cy="60.3" r="2.1"/><circle cx="449" cy="76.3" r="2.1"/><circle cx="421.8" cy="96.3" r="2.1"/><circle cx="540.5" cy="10.5" r="2.1"/><circle cx="457.5" cy="70.9" r="2.1"/><circle cx="431.4" cy="89.1" r="2.1"/><circle cx="445" cy="78.3" r="2.1"/><circle cx="511.6" cy="27.7" r="2.1"/><circle cx="429.1" cy="92.2" r="2.1"/><circle cx="537.8" cy="9.8" r="2.1"/><circle cx="519.5" cy="25" r="2.1"/><circle cx="497" cy="40.7" r="2.1"/><circle cx="461.2" cy="68.1" r="2.1"/><circle cx="474.9" cy="57.8" r="2.1"/><circle cx="443.1" cy="80.5" r="2.1"/><circle cx="541.1" cy="7.4" r="2.1"/><circle cx="410.5" cy="105" r="2.1"/><circle cx="539.3" cy="9.1" r="2.1"/><circle cx="454.2" cy="74.6" r="2.1"/><circle cx="518.6" cy="25.5" r="2.1"/><circle cx="504.6" cy="35.7" r="2.1"/><circle cx="429.9" cy="89.5" r="2.1"/><circle cx="416" cy="102.3" r="2.1"/><circle cx="432.9" cy="89.1" r="2.1"/><circle cx="455.1" cy="72.4" r="2.1"/><circle cx="536.8" cy="10.9" r="2.1"/><circle cx="431" cy="90.3" r="2.1"/><circle cx="514.8" cy="26.8" r="2.1"/><circle cx="409.7" cy="105.8" r="2.1"/><circle cx="504.2" cy="33.4" r="2.1"/><circle cx="415.6" cy="99.8" r="2.1"/><circle cx="444.7" cy="80.3" r="2.1"/><circle cx="406.1" cy="105.6" r="2.1"/><circle cx="494.9" cy="41.2" r="2.1"/><circle cx="490.1" cy="45.1" r="2.1"/><circle cx="518.5" cy="22.2" r="2.1"/><circle cx="445.7" cy="78.2" r="2.1"/><circle cx="495.4" cy="42.1" r="2.1"/><circle cx="465.6" cy="65.6" r="2.1"/><circle cx="513.1" cy="29.2" r="2.1"/><circle cx="458.5" cy="70" r="2.1"/><circle cx="436.2" cy="85.2" r="2.1"/><circle cx="450.9" cy="75.7" r="2.1"/><circle cx="533.3" cy="13.3" r="2.1"/><circle cx="506.2" cy="35.7" r="2.1"/><circle cx="512.9" cy="29.2" r="2.1"/><circle cx="461.2" cy="67.3" r="2.1"/><circle cx="443.5" cy="81.9" r="2.1"/><circle cx="408.8" cy="104.5" r="2.1"/><circle cx="473.4" cy="58.3" r="2.1"/><circle cx="457.2" cy="70.9" r="2.1"/><circle cx="442.8" cy="81" r="2.1"/><circle cx="474.7" cy="55.9" r="2.1"/><circle cx="538.2" cy="10.5" r="2.1"/><circle cx="420" cy="100.7" r="2.1"/><circle cx="507.2" cy="33.6" r="2.1"/><circle cx="414" cy="103.7" r="2.1"/><circle cx="478" cy="54.9" r="2.1"/><circle cx="491.5" cy="43.3" r="2.1"/><circle cx="526.9" cy="18.8" r="2.1"/><circle cx="412.1" cy="103.1" r="2.1"/><circle cx="458.2" cy="68" r="2.1"/><circle cx="511.4" cy="30.5" r="2.1"/><circle cx="429.6" cy="92.3" r="2.1"/><circle cx="449.8" cy="77.4" r="2.1"/><circle cx="537" cy="13.1" r="2.1"/><circle cx="468.3" cy="65.7" r="2.1"/><circle cx="433.3" cy="88" r="2.1"/><circle cx="441.7" cy="84.5" r="2.1"/><circle cx="434.9" cy="88.3" r="2.1"/><circle cx="497.8" cy="39.8" r="2.1"/><circle cx="456.8" cy="70.9" r="2.1"/><circle cx="409.1" cy="104.8" r="2.1"/><circle cx="526.7" cy="15.5" r="2.1"/><circle cx="519.3" cy="24" r="2.1"/><circle cx="425.6" cy="95.1" r="2.1"/><circle cx="483.1" cy="51.2" r="2.1"/><circle cx="488.6" cy="45.3" r="2.1"/><circle cx="427.5" cy="91.8" r="2.1"/><circle cx="492.9" cy="44.3" r="2.1"/><circle cx="495.6" cy="41.2" r="2.1"/><circle cx="493.2" cy="44" r="2.1"/><circle cx="458.5" cy="72.3" r="2.1"/><circle cx="477" cy="57.7" r="2.1"/><circle cx="503.4" cy="36.3" r="2.1"/><circle cx="492.8" cy="43.6" r="2.1"/><circle cx="489.9" cy="44.3" r="2.1"/><circle cx="533.2" cy="12.3" r="2.1"/><circle cx="414.5" cy="101" r="2.1"/><circle cx="455.9" cy="73.1" r="2.1"/><circle cx="450.3" cy="77.4" r="2.1"/><circle cx="490.9" cy="43.4" r="2.1"/><circle cx="470.9" cy="61" r="2.1"/><circle cx="502.7" cy="35.6" r="2.1"/><circle cx="513.9" cy="28.5" r="2.1"/><circle cx="471.5" cy="58" r="2.1"/><circle cx="419.6" cy="96.9" r="2.1"/><circle cx="438.5" cy="87" r="2.1"/><circle cx="506" cy="34.6" r="2.1"/><circle cx="448.2" cy="78.8" r="2.1"/><circle cx="419.1" cy="100.4" r="2.1"/><circle cx="445.2" cy="80" r="2.1"/><circle cx="425.9" cy="92.2" r="2.1"/><circle cx="536.4" cy="12.3" r="2.1"/><circle cx="527.5" cy="17.6" r="2.1"/><circle cx="524.7" cy="22.2" r="2.1"/><circle cx="513.6" cy="29.7" r="2.1"/><circle cx="406.9" cy="105.8" r="2.1"/><circle cx="459" cy="66.5" r="2.1"/><circle cx="438.3" cy="84.6" r="2.1"/><circle cx="533" cy="15.6" r="2.1"/><circle cx="530.7" cy="15.5" r="2.1"/><circle cx="461.4" cy="68.4" r="2.1"/><circle cx="524.9" cy="20.8" r="2.1"/><circle cx="482.6" cy="50.9" r="2.1"/><circle cx="406.6" cy="105.9" r="2.1"/><circle cx="522" cy="23.3" r="2.1"/><circle cx="414.7" cy="103.2" r="2.1"/><circle cx="418.4" cy="98.9" r="2.1"/><circle cx="462.8" cy="66.7" r="2.1"/><circle cx="420.2" cy="100.1" r="2.1"/><circle cx="421.7" cy="96.6" r="2.1"/><circle cx="405.6" cy="107.4" r="2.1"/><circle cx="522.5" cy="21.7" r="2.1"/><circle cx="415.2" cy="102.7" r="2.1"/><circle cx="419.7" cy="99" r="2.1"/><circle cx="541" cy="7.4" r="2.1"/><circle cx="420.9" cy="94.3" r="2.1"/><circle cx="512.9" cy="28.5" r="2.1"/><circle cx="473.6" cy="58.3" r="2.1"/><circle cx="458" cy="70.8" r="2.1"/><circle cx="424.1" cy="95.2" r="2.1"/><circle cx="540.8" cy="7.6" r="2.1"/><circle cx="512.1" cy="31.2" r="2.1"/><circle cx="500.6" cy="37.2" r="2.1"/><circle cx="462.2" cy="65.2" r="2.1"/><circle cx="409.7" cy="105.5" r="2.1"/><circle cx="485.6" cy="50.7" r="2.1"/><circle cx="482.1" cy="52.2" r="2.1"/><circle cx="410.8" cy="104.4" r="2.1"/><circle cx="486.5" cy="47.9" r="2.1"/><circle cx="480.4" cy="53" r="2.1"/><circle cx="442.7" cy="81.1" r="2.1"/><circle cx="518" cy="25.5" r="2.1"/><circle cx="450.7" cy="77.4" r="2.1"/><circle cx="446.5" cy="78.6" r="2.1"/><circle cx="449" cy="76.9" r="2.1"/><circle cx="492.6" cy="43.3" r="2.1"/><circle cx="474.6" cy="57.5" r="2.1"/><circle cx="481.5" cy="52.3" r="2.1"/><circle cx="441" cy="82.4" r="2.1"/><circle cx="500.5" cy="37.4" r="2.1"/><circle cx="417.1" cy="100.2" r="2.1"/><circle cx="507.8" cy="33.6" r="2.1"/><circle cx="433.1" cy="87.3" r="2.1"/><circle cx="410.5" cy="104.1" r="2.1"/><circle cx="513.1" cy="29.1" r="2.1"/><circle cx="420.7" cy="98.3" r="2.1"/><circle cx="530.4" cy="15.3" r="2.1"/><circle cx="482.9" cy="52.5" r="2.1"/><circle cx="541.4" cy="7.4" r="2.1"/><circle cx="458.4" cy="69.1" r="2.1"/><circle cx="524.3" cy="19.2" r="2.1"/><circle cx="472.7" cy="59.9" r="2.1"/><circle cx="529.5" cy="14.5" r="2.1"/><circle cx="433.5" cy="89.1" r="2.1"/><circle cx="516.5" cy="28.7" r="2.1"/><circle cx="515.2" cy="29.2" r="2.1"/><circle cx="452.3" cy="74" r="2.1"/><circle cx="457.6" cy="70.7" r="2.1"/><circle cx="458.1" cy="70.8" r="2.1"/><circle cx="509.9" cy="30.7" r="2.1"/><circle cx="421.6" cy="97.2" r="2.1"/><circle cx="512.5" cy="28.2" r="2.1"/><circle cx="499" cy="38.6" r="2.1"/><circle cx="431" cy="91" r="2.1"/><circle cx="419.2" cy="98.8" r="2.1"/><circle cx="493.7" cy="42.7" r="2.1"/><circle cx="407.5" cy="108.4" r="2.1"/><circle cx="499.1" cy="39" r="2.1"/><circle cx="455.6" cy="71.9" r="2.1"/><circle cx="420.8" cy="97.6" r="2.1"/><circle cx="501.9" cy="39" r="2.1"/><circle cx="539.9" cy="7.4" r="2.1"/><circle cx="440.1" cy="83.6" r="2.1"/><circle cx="479.9" cy="52.7" r="2.1"/><circle cx="453.3" cy="72.3" r="2.1"/><circle cx="451.8" cy="75.2" r="2.1"/><circle cx="485.2" cy="49.6" r="2.1"/><circle cx="436.9" cy="86" r="2.1"/><circle cx="421.1" cy="100.4" r="2.1"/><circle cx="537.1" cy="11.1" r="2.1"/><circle cx="420.8" cy="96.6" r="2.1"/><circle cx="409.7" cy="105.5" r="2.1"/><circle cx="441.6" cy="83.4" r="2.1"/><circle cx="475.1" cy="56.9" r="2.1"/><circle cx="434" cy="88.9" r="2.1"/><circle cx="521.8" cy="24.4" r="2.1"/><circle cx="455.5" cy="71.5" r="2.1"/><circle cx="508.3" cy="32.3" r="2.1"/><circle cx="498.2" cy="41.5" r="2.1"/><circle cx="530.5" cy="14.9" r="2.1"/><circle cx="417.9" cy="100.4" r="2.1"/><circle cx="464" cy="67.1" r="2.1"/><circle cx="431.4" cy="89.5" r="2.1"/><circle cx="508.6" cy="31" r="2.1"/><circle cx="495.2" cy="41.5" r="2.1"/><circle cx="511.8" cy="27.4" r="2.1"/><circle cx="437.5" cy="85.6" r="2.1"/><circle cx="449.7" cy="75.6" r="2.1"/><circle cx="537.8" cy="8.2" r="2.1"/><circle cx="478.3" cy="53.8" r="2.1"/><circle cx="425.3" cy="92.3" r="2.1"/><circle cx="423.3" cy="96.2" r="2.1"/><circle cx="499.1" cy="39.4" r="2.1"/><circle cx="529.5" cy="18.8" r="2.1"/><circle cx="477" cy="54.2" r="2.1"/><circle cx="495.9" cy="40.3" r="2.1"/><circle cx="498" cy="39.1" r="2.1"/><circle cx="513.7" cy="28.9" r="2.1"/><circle cx="449.5" cy="76.8" r="2.1"/><circle cx="424.1" cy="94.4" r="2.1"/><circle cx="471.4" cy="58.2" r="2.1"/><circle cx="430.9" cy="90.7" r="2.1"/><circle cx="471.9" cy="60.6" r="2.1"/><circle cx="434" cy="87.6" r="2.1"/><circle cx="412.3" cy="105.7" r="2.1"/><circle cx="413.8" cy="102.7" r="2.1"/><circle cx="458.1" cy="70.9" r="2.1"/><circle cx="475.2" cy="55.7" r="2.1"/><circle cx="487.1" cy="46.7" r="2.1"/><circle cx="483.4" cy="52.3" r="2.1"/><circle cx="487.4" cy="47.1" r="2.1"/><circle cx="459.5" cy="67.6" r="2.1"/><circle cx="449.8" cy="77.8" r="2.1"/><circle cx="524.3" cy="19.7" r="2.1"/><circle cx="471.7" cy="61.2" r="2.1"/><circle cx="424.6" cy="93.1" r="2.1"/><circle cx="454.1" cy="74.5" r="2.1"/><circle cx="500.8" cy="38.3" r="2.1"/><circle cx="425.8" cy="94.7" r="2.1"/><circle cx="542.2" cy="7.4" r="2.1"/></g><clipPath id="cpc"><rect x="403.5" y="7" width="140" height="104.4"/></clipPath><line clip-path="url(#cpc)" x1="403.5" y1="111.4" x2="542.4" y2="7.5" stroke="#ff0000" stroke-width="3.2"/><rect x="403.5" y="7" width="140" height="104.4" fill="none" stroke="#8c8c8c" stroke-width="0.9"/><path d="M403.5 111.4v-1.4M403.5 7v1.4M403.5 111.4h1.4M543.5 111.4h-1.4M443.9 111.4v-1.4M443.9 7v1.4M403.5 81.1h1.4M543.5 81.1h-1.4M484.4 111.4v-1.4M484.4 7v1.4M403.5 50.7h1.4M543.5 50.7h-1.4M524.8 111.4v-1.4M524.8 7v1.4M403.5 20.4h1.4M543.5 20.4h-1.4" stroke="#8c8c8c" stroke-width="0.8" fill="none"/><g font-family="'Liberation Serif', 'DejaVu Serif', serif" font-weight="bold" font-size="10.2" fill="#000"><text x="403.5" y="123.7" text-anchor="middle">0</text><text x="400.7" y="114.9" text-anchor="end">0</text><text x="443.9" y="123.7" text-anchor="middle">50</text><text x="400.7" y="84.6" text-anchor="end">50</text><text x="484.4" y="123.7" text-anchor="middle">100</text><text x="400.7" y="54.2" text-anchor="end">100</text><text x="524.8" y="123.7" text-anchor="middle">150</text><text x="400.7" y="23.9" text-anchor="end">150</text><text x="472.6" y="136.1" text-anchor="middle" font-size="10.8">PV Power Test (W)</text><text transform="translate(381.7 59.9) rotate(-90)" text-anchor="middle" font-size="10.82">PV Power Forecast (W)</text></g><g stroke="#efefef" stroke-width="0.8"><line x1="73.6" y1="179.1" x2="73.6" y2="283.4"/><line x1="33.2" y1="253.4" x2="172.9" y2="253.4"/><line x1="113.9" y1="179.1" x2="113.9" y2="283.4"/><line x1="33.2" y1="223.4" x2="172.9" y2="223.4"/><line x1="154.3" y1="179.1" x2="154.3" y2="283.4"/><line x1="33.2" y1="193.4" x2="172.9" y2="193.4"/></g><g fill="#00cca2" stroke="#0000ff" stroke-width="1.2"><circle cx="88.8" cy="241.9" r="2.1"/><circle cx="95.7" cy="235.2" r="2.1"/><circle cx="156.7" cy="207.8" r="2.1"/><circle cx="47.5" cy="269" r="2.1"/><circle cx="121.2" cy="222.2" r="2.1"/><circle cx="53.4" cy="275.9" r="2.1"/><circle cx="95.4" cy="234.1" r="2.1"/><circle cx="150.1" cy="208.7" r="2.1"/><circle cx="33.8" cy="281.6" r="2.1"/><circle cx="52.2" cy="267.9" r="2.1"/><circle cx="131.6" cy="221.8" r="2.1"/><circle cx="100.3" cy="230.7" r="2.1"/><circle cx="83.2" cy="244.1" r="2.1"/><circle cx="33.9" cy="281.3" r="2.1"/><circle cx="107.7" cy="221" r="2.1"/><circle cx="135.9" cy="197.4" r="2.1"/><circle cx="37.1" cy="275.6" r="2.1"/><circle cx="134.7" cy="210.7" r="2.1"/><circle cx="140.4" cy="197.1" r="2.1"/><circle cx="94.7" cy="237.3" r="2.1"/><circle cx="126.5" cy="211.5" r="2.1"/><circle cx="45.3" cy="272.7" r="2.1"/><circle cx="143.1" cy="212.8" r="2.1"/><circle cx="122.9" cy="211.1" r="2.1"/><circle cx="123.7" cy="211.2" r="2.1"/><circle cx="50.6" cy="268.7" r="2.1"/><circle cx="51.4" cy="271" r="2.1"/><circle cx="134.3" cy="202.7" r="2.1"/><circle cx="141" cy="195.3" r="2.1"/><circle cx="140.5" cy="219.5" r="2.1"/><circle cx="134.4" cy="209.9" r="2.1"/><circle cx="100.2" cy="231.7" r="2.1"/><circle cx="54.7" cy="271.3" r="2.1"/><circle cx="141.9" cy="196.3" r="2.1"/><circle cx="127.8" cy="223.7" r="2.1"/><circle cx="53.2" cy="265.2" r="2.1"/><circle cx="135.1" cy="212.2" r="2.1"/><circle cx="65.7" cy="253" r="2.1"/><circle cx="161.8" cy="201" r="2.1"/><circle cx="96.8" cy="243.8" r="2.1"/><circle cx="129.1" cy="206.9" r="2.1"/><circle cx="112.5" cy="228.8" r="2.1"/><circle cx="134.9" cy="202.5" r="2.1"/><circle cx="77" cy="239.9" r="2.1"/><circle cx="149.2" cy="200" r="2.1"/><circle cx="64.9" cy="249.7" r="2.1"/><circle cx="130.7" cy="225.9" r="2.1"/><circle cx="44" cy="275.1" r="2.1"/><circle cx="48.7" cy="268.1" r="2.1"/><circle cx="157.5" cy="199.4" r="2.1"/><circle cx="112.5" cy="233" r="2.1"/><circle cx="106.4" cy="214" r="2.1"/><circle cx="53.4" cy="269.4" r="2.1"/><circle cx="148.9" cy="194.1" r="2.1"/><circle cx="108.6" cy="222" r="2.1"/><circle cx="168.5" cy="193.5" r="2.1"/><circle cx="137" cy="200.2" r="2.1"/><circle cx="115.6" cy="233.1" r="2.1"/><circle cx="110.7" cy="231.5" r="2.1"/><circle cx="147.6" cy="195.3" r="2.1"/><circle cx="68.4" cy="255.2" r="2.1"/><circle cx="117.9" cy="234.3" r="2.1"/><circle cx="80.3" cy="248" r="2.1"/><circle cx="171.4" cy="185.2" r="2.1"/><circle cx="117.7" cy="213" r="2.1"/><circle cx="123.8" cy="214.6" r="2.1"/><circle cx="84.6" cy="244.8" r="2.1"/><circle cx="147.7" cy="191.5" r="2.1"/><circle cx="114.7" cy="235" r="2.1"/><circle cx="54.4" cy="272.6" r="2.1"/><circle cx="90.1" cy="247.1" r="2.1"/><circle cx="159.3" cy="202" r="2.1"/><circle cx="116.6" cy="212.1" r="2.1"/><circle cx="143" cy="214.7" r="2.1"/><circle cx="85.5" cy="247.5" r="2.1"/><circle cx="71.4" cy="251.2" r="2.1"/><circle cx="58.3" cy="256.8" r="2.1"/><circle cx="111" cy="231.6" r="2.1"/><circle cx="100.3" cy="231.2" r="2.1"/><circle cx="69" cy="249" r="2.1"/><circle cx="67.1" cy="264.6" r="2.1"/><circle cx="155" cy="207.4" r="2.1"/><circle cx="64" cy="263" r="2.1"/><circle cx="154.9" cy="194.8" r="2.1"/><circle cx="150.2" cy="193.7" r="2.1"/><circle cx="90.5" cy="234.3" r="2.1"/><circle cx="144.7" cy="217.1" r="2.1"/><circle cx="57.7" cy="260.5" r="2.1"/><circle cx="117.2" cy="225.6" r="2.1"/><circle cx="89.7" cy="249.4" r="2.1"/><circle cx="169.8" cy="183.5" r="2.1"/><circle cx="54" cy="267.5" r="2.1"/><circle cx="114.3" cy="231.6" r="2.1"/><circle cx="33.7" cy="281.5" r="2.1"/><circle cx="87.5" cy="243.5" r="2.1"/><circle cx="69.2" cy="261.2" r="2.1"/><circle cx="76.8" cy="251.2" r="2.1"/><circle cx="61.9" cy="257.4" r="2.1"/><circle cx="120.4" cy="221.3" r="2.1"/><circle cx="137.6" cy="221.3" r="2.1"/><circle cx="160.2" cy="214.7" r="2.1"/><circle cx="71" cy="245.4" r="2.1"/><circle cx="49.7" cy="271.2" r="2.1"/><circle cx="80" cy="242.1" r="2.1"/><circle cx="169.6" cy="185.9" r="2.1"/><circle cx="107.5" cy="225.8" r="2.1"/><circle cx="106.2" cy="229.8" r="2.1"/><circle cx="79.3" cy="250.3" r="2.1"/><circle cx="125.1" cy="204.9" r="2.1"/><circle cx="83.4" cy="236.2" r="2.1"/><circle cx="132.4" cy="212.5" r="2.1"/><circle cx="58.4" cy="263.3" r="2.1"/><circle cx="64" cy="265" r="2.1"/><circle cx="113.3" cy="234.6" r="2.1"/><circle cx="49.5" cy="272.7" r="2.1"/><circle cx="77.6" cy="258.9" r="2.1"/><circle cx="58.3" cy="265.2" r="2.1"/><circle cx="100.8" cy="239.3" r="2.1"/><circle cx="99.7" cy="241.7" r="2.1"/><circle cx="84.6" cy="234.5" r="2.1"/><circle cx="35.4" cy="279.3" r="2.1"/><circle cx="98.8" cy="227.9" r="2.1"/><circle cx="53.6" cy="264.4" r="2.1"/><circle cx="91.5" cy="239.3" r="2.1"/><circle cx="125" cy="205.1" r="2.1"/><circle cx="92.3" cy="232.3" r="2.1"/><circle cx="44.4" cy="271.8" r="2.1"/><circle cx="101.3" cy="242.2" r="2.1"/><circle cx="146.6" cy="201.7" r="2.1"/><circle cx="51.4" cy="270" r="2.1"/><circle cx="107.3" cy="226.8" r="2.1"/><circle cx="64.5" cy="256.3" r="2.1"/><circle cx="153.8" cy="209.8" r="2.1"/><circle cx="75.3" cy="254.4" r="2.1"/><circle cx="80.1" cy="251.2" r="2.1"/><circle cx="133.6" cy="216.6" r="2.1"/><circle cx="43.3" cy="271.1" r="2.1"/><circle cx="94.1" cy="239" r="2.1"/><circle cx="132.2" cy="216.4" r="2.1"/><circle cx="50.9" cy="266.1" r="2.1"/><circle cx="126.8" cy="225.9" r="2.1"/><circle cx="144.3" cy="201.3" r="2.1"/><circle cx="46.8" cy="271.4" r="2.1"/><circle cx="129.4" cy="228.5" r="2.1"/><circle cx="135.7" cy="202.5" r="2.1"/><circle cx="130.7" cy="211.2" r="2.1"/><circle cx="126.5" cy="207.3" r="2.1"/><circle cx="48.8" cy="264" r="2.1"/><circle cx="151.2" cy="194" r="2.1"/><circle cx="170" cy="187.8" r="2.1"/><circle cx="151.2" cy="208.3" r="2.1"/><circle cx="84.7" cy="235.1" r="2.1"/><circle cx="33.3" cy="282.1" r="2.1"/><circle cx="137" cy="203.5" r="2.1"/><circle cx="135.8" cy="198.5" r="2.1"/><circle cx="124.5" cy="224.1" r="2.1"/><circle cx="113.3" cy="249.9" r="2.1"/><circle cx="120" cy="222" r="2.1"/><circle cx="50.2" cy="270.1" r="2.1"/><circle cx="49.1" cy="270.7" r="2.1"/><circle cx="82.7" cy="236.6" r="2.1"/><circle cx="57.6" cy="269.2" r="2.1"/><circle cx="164" cy="194.8" r="2.1"/><circle cx="108.6" cy="221.4" r="2.1"/><circle cx="109.3" cy="229.6" r="2.1"/><circle cx="77.6" cy="248.7" r="2.1"/><circle cx="128" cy="214.2" r="2.1"/><circle cx="56.9" cy="270.9" r="2.1"/><circle cx="58.6" cy="265.8" r="2.1"/><circle cx="130.4" cy="211.1" r="2.1"/><circle cx="111" cy="214.5" r="2.1"/><circle cx="96" cy="244" r="2.1"/><circle cx="143.5" cy="190.5" r="2.1"/><circle cx="61.6" cy="252.7" r="2.1"/><circle cx="49.2" cy="273.9" r="2.1"/><circle cx="61.9" cy="256.7" r="2.1"/><circle cx="100.6" cy="227.6" r="2.1"/><circle cx="89.8" cy="251.8" r="2.1"/><circle cx="93.4" cy="248.6" r="2.1"/><circle cx="101.8" cy="243.8" r="2.1"/><circle cx="64.2" cy="252" r="2.1"/><circle cx="41.6" cy="272.1" r="2.1"/><circle cx="74.3" cy="261.5" r="2.1"/><circle cx="137.4" cy="219.3" r="2.1"/><circle cx="122" cy="226.3" r="2.1"/><circle cx="64.1" cy="259.8" r="2.1"/><circle cx="80" cy="245.2" r="2.1"/><circle cx="154.7" cy="184.4" r="2.1"/><circle cx="145.8" cy="192.6" r="2.1"/><circle cx="163.5" cy="203.2" r="2.1"/><circle cx="56.5" cy="264.7" r="2.1"/><circle cx="120.8" cy="211" r="2.1"/><circle cx="93.7" cy="238.4" r="2.1"/><circle cx="155.6" cy="186" r="2.1"/><circle cx="68.4" cy="246.4" r="2.1"/><circle cx="78.6" cy="253.9" r="2.1"/><circle cx="144.8" cy="192.9" r="2.1"/><circle cx="132.9" cy="210.4" r="2.1"/><circle cx="81" cy="241.5" r="2.1"/><circle cx="167.1" cy="191.1" r="2.1"/><circle cx="39.1" cy="273.5" r="2.1"/><circle cx="169.4" cy="185.6" r="2.1"/><circle cx="53.5" cy="260.9" r="2.1"/><circle cx="107.2" cy="219.9" r="2.1"/><circle cx="151.3" cy="212.5" r="2.1"/><circle cx="87.8" cy="231.5" r="2.1"/><circle cx="158.8" cy="199.1" r="2.1"/><circle cx="111.9" cy="234.1" r="2.1"/><circle cx="167.9" cy="189.9" r="2.1"/><circle cx="85.2" cy="252.2" r="2.1"/><circle cx="69.6" cy="263" r="2.1"/><circle cx="132.4" cy="223.2" r="2.1"/><circle cx="153.4" cy="206.5" r="2.1"/><circle cx="39.2" cy="276.4" r="2.1"/><circle cx="125.2" cy="214.3" r="2.1"/><circle cx="138.8" cy="206.6" r="2.1"/><circle cx="122.5" cy="221.1" r="2.1"/><circle cx="116.7" cy="231.1" r="2.1"/><circle cx="90" cy="232.5" r="2.1"/><circle cx="108.8" cy="237.2" r="2.1"/><circle cx="163.5" cy="199.2" r="2.1"/><circle cx="131" cy="203.9" r="2.1"/><circle cx="43.8" cy="271.5" r="2.1"/><circle cx="46" cy="267.2" r="2.1"/><circle cx="117" cy="222.7" r="2.1"/><circle cx="158.3" cy="189.9" r="2.1"/><circle cx="106.8" cy="218.6" r="2.1"/><circle cx="39.8" cy="276.4" r="2.1"/><circle cx="64.9" cy="252.4" r="2.1"/><circle cx="130.1" cy="212.9" r="2.1"/><circle cx="122.5" cy="206" r="2.1"/><circle cx="141.7" cy="210.8" r="2.1"/><circle cx="42.3" cy="275.7" r="2.1"/><circle cx="110.7" cy="217.7" r="2.1"/><circle cx="47" cy="267.6" r="2.1"/><circle cx="53.8" cy="261.3" r="2.1"/><circle cx="145.8" cy="215.7" r="2.1"/><circle cx="88.4" cy="245.4" r="2.1"/><circle cx="74.9" cy="261.6" r="2.1"/><circle cx="124.7" cy="216" r="2.1"/><circle cx="108.4" cy="228" r="2.1"/><circle cx="58.1" cy="265.4" r="2.1"/><circle cx="87.7" cy="239.5" r="2.1"/><circle cx="103" cy="237.9" r="2.1"/><circle cx="160.5" cy="186.5" r="2.1"/><circle cx="107.3" cy="231" r="2.1"/><circle cx="137" cy="221" r="2.1"/><circle cx="116.1" cy="226.1" r="2.1"/><circle cx="39.5" cy="273.9" r="2.1"/><circle cx="118.6" cy="232.7" r="2.1"/><circle cx="49.4" cy="265.8" r="2.1"/><circle cx="71.4" cy="244.3" r="2.1"/><circle cx="149.8" cy="200.9" r="2.1"/><circle cx="63.4" cy="252.3" r="2.1"/><circle cx="93.4" cy="247.4" r="2.1"/><circle cx="138.8" cy="214.1" r="2.1"/><circle cx="59.8" cy="264" r="2.1"/><circle cx="138.4" cy="207.2" r="2.1"/><circle cx="88.8" cy="245.7" r="2.1"/><circle cx="158.2" cy="196" r="2.1"/><circle cx="151.4" cy="205.7" r="2.1"/><circle cx="164.3" cy="195.2" r="2.1"/><circle cx="91.7" cy="243.3" r="2.1"/><circle cx="34.1" cy="281.1" r="2.1"/><circle cx="93.4" cy="229.3" r="2.1"/><circle cx="119.7" cy="229.3" r="2.1"/><circle cx="119.2" cy="223.5" r="2.1"/><circle cx="154.2" cy="185.7" r="2.1"/><circle cx="86.5" cy="251.4" r="2.1"/><circle cx="86.8" cy="247.6" r="2.1"/><circle cx="55.5" cy="267.3" r="2.1"/><circle cx="128.6" cy="201" r="2.1"/><circle cx="101.1" cy="230.3" r="2.1"/><circle cx="55.4" cy="262.8" r="2.1"/><circle cx="157.3" cy="190" r="2.1"/><circle cx="68.7" cy="249.7" r="2.1"/><circle cx="154.7" cy="211.5" r="2.1"/><circle cx="54.4" cy="268.9" r="2.1"/><circle cx="34.2" cy="281.1" r="2.1"/><circle cx="121.4" cy="206" r="2.1"/><circle cx="89.5" cy="246.4" r="2.1"/><circle cx="90.7" cy="228" r="2.1"/><circle cx="79.9" cy="244.9" r="2.1"/><circle cx="100.7" cy="235.6" r="2.1"/><circle cx="146.2" cy="203" r="2.1"/><circle cx="151.1" cy="198.8" r="2.1"/><circle cx="67.1" cy="262.4" r="2.1"/><circle cx="148.2" cy="213.6" r="2.1"/><circle cx="119.5" cy="229.7" r="2.1"/><circle cx="114" cy="236" r="2.1"/><circle cx="113.7" cy="224.8" r="2.1"/><circle cx="117.8" cy="231.8" r="2.1"/><circle cx="50.2" cy="276.2" r="2.1"/><circle cx="171.4" cy="185.5" r="2.1"/><circle cx="82.4" cy="246.5" r="2.1"/><circle cx="78" cy="256.6" r="2.1"/><circle cx="158" cy="186.3" r="2.1"/><circle cx="61.3" cy="262.9" r="2.1"/><circle cx="65.8" cy="258.2" r="2.1"/><circle cx="62.7" cy="263" r="2.1"/><circle cx="55.4" cy="260.5" r="2.1"/><circle cx="128.1" cy="208.3" r="2.1"/><circle cx="150.7" cy="188.2" r="2.1"/><circle cx="106" cy="226.1" r="2.1"/><circle cx="88.7" cy="247.4" r="2.1"/><circle cx="67.9" cy="246.6" r="2.1"/><circle cx="75.6" cy="245.9" r="2.1"/><circle cx="134.8" cy="222.5" r="2.1"/><circle cx="100.4" cy="244.4" r="2.1"/><circle cx="36.4" cy="277.7" r="2.1"/><circle cx="91.3" cy="237" r="2.1"/><circle cx="79.6" cy="251.7" r="2.1"/><circle cx="148.4" cy="214.5" r="2.1"/><circle cx="58.2" cy="264.4" r="2.1"/><circle cx="134" cy="223.4" r="2.1"/><circle cx="68.7" cy="257.8" r="2.1"/><circle cx="142.4" cy="213.4" r="2.1"/><circle cx="165.6" cy="185.8" r="2.1"/><circle cx="153.5" cy="186.1" r="2.1"/><circle cx="131.8" cy="203.4" r="2.1"/><circle cx="152.7" cy="188.7" r="2.1"/><circle cx="57" cy="265.8" r="2.1"/><circle cx="87.8" cy="243.5" r="2.1"/><circle cx="116.9" cy="208.2" r="2.1"/><circle cx="152.9" cy="200.8" r="2.1"/><circle cx="151.4" cy="190.4" r="2.1"/><circle cx="74.7" cy="260.4" r="2.1"/><circle cx="119.5" cy="208.4" r="2.1"/><circle cx="45.1" cy="271.7" r="2.1"/><circle cx="41.4" cy="269.7" r="2.1"/><circle cx="165.8" cy="197.2" r="2.1"/><circle cx="125.9" cy="218.1" r="2.1"/><circle cx="126.6" cy="211.7" r="2.1"/><circle cx="156.6" cy="199.4" r="2.1"/><circle cx="124.5" cy="206.1" r="2.1"/><circle cx="55.7" cy="274.9" r="2.1"/><circle cx="80.3" cy="255.6" r="2.1"/><circle cx="131.5" cy="215.8" r="2.1"/><circle cx="72.1" cy="245.4" r="2.1"/><circle cx="126.4" cy="217.7" r="2.1"/><circle cx="89.9" cy="249.6" r="2.1"/><circle cx="79.1" cy="252.3" r="2.1"/><circle cx="115.7" cy="233" r="2.1"/><circle cx="103" cy="226.1" r="2.1"/><circle cx="40.7" cy="271.7" r="2.1"/><circle cx="170.1" cy="183.4" r="2.1"/><circle cx="73.5" cy="261.4" r="2.1"/><circle cx="157.9" cy="192.7" r="2.1"/><circle cx="63.1" cy="264.4" r="2.1"/><circle cx="169.5" cy="191.3" r="2.1"/><circle cx="100.2" cy="244.8" r="2.1"/><circle cx="156.1" cy="198.4" r="2.1"/><circle cx="137.5" cy="200.7" r="2.1"/><circle cx="83.4" cy="242.7" r="2.1"/><circle cx="104.2" cy="219.4" r="2.1"/><circle cx="45.8" cy="276.2" r="2.1"/><circle cx="111.9" cy="211.1" r="2.1"/><circle cx="65.6" cy="248" r="2.1"/><circle cx="143.8" cy="215.7" r="2.1"/><circle cx="92.7" cy="237.8" r="2.1"/><circle cx="50.5" cy="266" r="2.1"/><circle cx="75.3" cy="241" r="2.1"/><circle cx="167" cy="195.7" r="2.1"/><circle cx="103.7" cy="224.9" r="2.1"/><circle cx="112" cy="223.3" r="2.1"/><circle cx="61" cy="256.9" r="2.1"/><circle cx="121.7" cy="222" r="2.1"/><circle cx="131.6" cy="219.5" r="2.1"/><circle cx="80.1" cy="245.9" r="2.1"/><circle cx="141.7" cy="194.2" r="2.1"/><circle cx="79.5" cy="258.3" r="2.1"/><circle cx="110.4" cy="215.7" r="2.1"/><circle cx="44.8" cy="269.4" r="2.1"/><circle cx="146.9" cy="216.1" r="2.1"/><circle cx="96.9" cy="246.7" r="2.1"/><circle cx="43.9" cy="272.2" r="2.1"/><circle cx="133.3" cy="222.7" r="2.1"/><circle cx="136.6" cy="214.8" r="2.1"/><circle cx="162.9" cy="199.7" r="2.1"/><circle cx="89.3" cy="245.1" r="2.1"/><circle cx="140.4" cy="207.3" r="2.1"/><circle cx="118" cy="214.4" r="2.1"/><circle cx="114.1" cy="226.7" r="2.1"/><circle cx="89" cy="230.1" r="2.1"/><circle cx="40" cy="273.9" r="2.1"/><circle cx="159.6" cy="205.8" r="2.1"/><circle cx="130.2" cy="220.3" r="2.1"/><circle cx="36.9" cy="277.5" r="2.1"/><circle cx="165" cy="200.3" r="2.1"/><circle cx="165.1" cy="186.2" r="2.1"/><circle cx="65.5" cy="257.3" r="2.1"/><circle cx="123.5" cy="226.6" r="2.1"/><circle cx="117.2" cy="216.5" r="2.1"/><circle cx="60.5" cy="260.8" r="2.1"/><circle cx="52.2" cy="265.9" r="2.1"/><circle cx="126.1" cy="221.2" r="2.1"/><circle cx="156.2" cy="199.4" r="2.1"/><circle cx="166.3" cy="185.2" r="2.1"/><circle cx="102.4" cy="226" r="2.1"/><circle cx="122.5" cy="226.6" r="2.1"/><circle cx="144.7" cy="200.2" r="2.1"/><circle cx="47.5" cy="267.9" r="2.1"/><circle cx="108.9" cy="218.4" r="2.1"/><circle cx="102.5" cy="228" r="2.1"/><circle cx="48.8" cy="272.2" r="2.1"/><circle cx="164.5" cy="186.9" r="2.1"/><circle cx="141.2" cy="218.9" r="2.1"/><circle cx="97.1" cy="236.6" r="2.1"/><circle cx="131.4" cy="205.3" r="2.1"/><circle cx="139.3" cy="212.5" r="2.1"/><circle cx="133.9" cy="221.3" r="2.1"/><circle cx="136.1" cy="221.8" r="2.1"/><circle cx="117.6" cy="210.2" r="2.1"/><circle cx="141.9" cy="199.9" r="2.1"/><circle cx="79.9" cy="238.7" r="2.1"/><circle cx="93.1" cy="229.9" r="2.1"/><circle cx="156.1" cy="186.3" r="2.1"/><circle cx="51.8" cy="276.7" r="2.1"/><circle cx="114.9" cy="231.3" r="2.1"/><circle cx="66.4" cy="260.6" r="2.1"/><circle cx="97.3" cy="231.4" r="2.1"/><circle cx="76.8" cy="240.8" r="2.1"/><circle cx="161.2" cy="196.9" r="2.1"/><circle cx="149.3" cy="209.2" r="2.1"/><circle cx="111.7" cy="212.7" r="2.1"/><circle cx="57.6" cy="261.6" r="2.1"/><circle cx="51.5" cy="270.9" r="2.1"/><circle cx="139.3" cy="200" r="2.1"/><circle cx="114.9" cy="220.5" r="2.1"/><circle cx="112.4" cy="216.7" r="2.1"/><circle cx="150.9" cy="197.6" r="2.1"/><circle cx="146.4" cy="203.5" r="2.1"/><circle cx="89.1" cy="231.7" r="2.1"/><circle cx="45.8" cy="271.8" r="2.1"/><circle cx="149.9" cy="207.8" r="2.1"/><circle cx="58.1" cy="264.7" r="2.1"/><circle cx="102.7" cy="228.3" r="2.1"/><circle cx="50.4" cy="266.3" r="2.1"/><circle cx="149.6" cy="191" r="2.1"/><circle cx="61.6" cy="255.9" r="2.1"/><circle cx="46.9" cy="270.6" r="2.1"/><circle cx="163.2" cy="190.7" r="2.1"/><circle cx="54.3" cy="270.9" r="2.1"/><circle cx="87.9" cy="244" r="2.1"/><circle cx="162.5" cy="190.7" r="2.1"/><circle cx="125.2" cy="229.9" r="2.1"/><circle cx="146.9" cy="215.4" r="2.1"/><circle cx="139.7" cy="201.9" r="2.1"/><circle cx="96.1" cy="236" r="2.1"/><circle cx="134.9" cy="216.6" r="2.1"/><circle cx="115.3" cy="218.1" r="2.1"/><circle cx="138.3" cy="215.7" r="2.1"/><circle cx="96.2" cy="229.9" r="2.1"/><circle cx="81.3" cy="239.1" r="2.1"/><circle cx="35.4" cy="279.5" r="2.1"/><circle cx="97" cy="239.8" r="2.1"/><circle cx="76.6" cy="253.8" r="2.1"/><circle cx="115.8" cy="235.1" r="2.1"/><circle cx="88.5" cy="246.2" r="2.1"/><circle cx="112.6" cy="235" r="2.1"/><circle cx="63.7" cy="263.5" r="2.1"/><circle cx="134" cy="212.1" r="2.1"/><circle cx="153.4" cy="194.5" r="2.1"/><circle cx="91.8" cy="243.4" r="2.1"/><circle cx="63.8" cy="248.7" r="2.1"/><circle cx="97.4" cy="231.1" r="2.1"/><circle cx="79.4" cy="258.6" r="2.1"/><circle cx="84.4" cy="242.6" r="2.1"/><circle cx="133.5" cy="240.4" r="2.1"/><circle cx="125.7" cy="224" r="2.1"/><circle cx="53.9" cy="265.7" r="2.1"/><circle cx="161.3" cy="200" r="2.1"/><circle cx="130.2" cy="210.4" r="2.1"/><circle cx="35.4" cy="279.2" r="2.1"/><circle cx="155.3" cy="188.4" r="2.1"/><circle cx="167.4" cy="190.8" r="2.1"/><circle cx="122.6" cy="217.5" r="2.1"/><circle cx="49.4" cy="269.8" r="2.1"/><circle cx="69.1" cy="244.8" r="2.1"/><circle cx="53.6" cy="264.3" r="2.1"/><circle cx="134.3" cy="222.8" r="2.1"/><circle cx="138.1" cy="216.9" r="2.1"/><circle cx="101.4" cy="220.4" r="2.1"/><circle cx="68" cy="259.9" r="2.1"/><circle cx="64.9" cy="264.1" r="2.1"/><circle cx="83.8" cy="237.7" r="2.1"/><circle cx="80.7" cy="238" r="2.1"/><circle cx="70.9" cy="252.9" r="2.1"/><circle cx="73.5" cy="252.9" r="2.1"/><circle cx="48.6" cy="270.6" r="2.1"/><circle cx="40.1" cy="271.4" r="2.1"/><circle cx="150.6" cy="203.6" r="2.1"/><circle cx="55.4" cy="275.9" r="2.1"/><circle cx="81.8" cy="251.5" r="2.1"/><circle cx="144.1" cy="198.9" r="2.1"/><circle cx="57.5" cy="259.7" r="2.1"/><circle cx="89.9" cy="226.9" r="2.1"/><circle cx="132.2" cy="209.4" r="2.1"/><circle cx="130.3" cy="201.3" r="2.1"/><circle cx="73.7" cy="258.7" r="2.1"/><circle cx="65.6" cy="261" r="2.1"/><circle cx="87.4" cy="237.8" r="2.1"/><circle cx="123.1" cy="225.4" r="2.1"/><circle cx="133.7" cy="222.2" r="2.1"/><circle cx="46.9" cy="268.1" r="2.1"/><circle cx="130.9" cy="201.4" r="2.1"/><circle cx="151.1" cy="189.6" r="2.1"/><circle cx="107" cy="219.9" r="2.1"/><circle cx="64.2" cy="259.7" r="2.1"/><circle cx="121.4" cy="225.2" r="2.1"/><circle cx="71.7" cy="248.7" r="2.1"/><circle cx="34.4" cy="280.7" r="2.1"/><circle cx="59.3" cy="263.1" r="2.1"/><circle cx="162" cy="197.2" r="2.1"/><circle cx="124" cy="224" r="2.1"/><circle cx="169.4" cy="187.5" r="2.1"/><circle cx="63.5" cy="262.4" r="2.1"/><circle cx="106.9" cy="233.7" r="2.1"/><circle cx="35.4" cy="279.1" r="2.1"/><circle cx="161.9" cy="184.1" r="2.1"/><circle cx="46.5" cy="273.1" r="2.1"/><circle cx="162.3" cy="192.9" r="2.1"/><circle cx="124.2" cy="210" r="2.1"/><circle cx="98" cy="239" r="2.1"/><circle cx="136.3" cy="211.3" r="2.1"/><circle cx="46.2" cy="271.7" r="2.1"/><circle cx="61.5" cy="264.8" r="2.1"/><circle cx="103.6" cy="231.1" r="2.1"/><circle cx="101.3" cy="239.7" r="2.1"/><circle cx="82.7" cy="237.5" r="2.1"/><circle cx="132.4" cy="200.7" r="2.1"/><circle cx="71.9" cy="260.5" r="2.1"/><circle cx="119.6" cy="223.3" r="2.1"/><circle cx="54.3" cy="259.9" r="2.1"/><circle cx="69.5" cy="257.5" r="2.1"/><circle cx="135" cy="211.2" r="2.1"/><circle cx="33.2" cy="282" r="2.1"/><circle cx="171.3" cy="184.8" r="2.1"/><circle cx="111.5" cy="222.8" r="2.1"/><circle cx="92.4" cy="241" r="2.1"/><circle cx="51.4" cy="263.5" r="2.1"/><circle cx="168.3" cy="189.7" r="2.1"/><circle cx="53.3" cy="274.1" r="2.1"/><circle cx="75.8" cy="262.9" r="2.1"/><circle cx="111.7" cy="236.5" r="2.1"/><circle cx="154.9" cy="198.4" r="2.1"/><circle cx="88" cy="252.5" r="2.1"/><circle cx="100.4" cy="237.6" r="2.1"/><circle cx="114.5" cy="227.6" r="2.1"/><circle cx="164.2" cy="185.8" r="2.1"/><circle cx="163.3" cy="186.4" r="2.1"/><circle cx="167.3" cy="190.8" r="2.1"/><circle cx="139.9" cy="200.3" r="2.1"/><circle cx="77.6" cy="251.8" r="2.1"/><circle cx="151.2" cy="201.8" r="2.1"/><circle cx="111.1" cy="231" r="2.1"/><circle cx="85.9" cy="245.6" r="2.1"/><circle cx="72.9" cy="246.7" r="2.1"/><circle cx="44.5" cy="274.8" r="2.1"/><circle cx="133" cy="197.5" r="2.1"/><circle cx="109.6" cy="232.9" r="2.1"/><circle cx="120" cy="223" r="2.1"/><circle cx="99.4" cy="229.6" r="2.1"/><circle cx="140" cy="219.8" r="2.1"/><circle cx="152.4" cy="210.8" r="2.1"/><circle cx="122.3" cy="220.5" r="2.1"/><circle cx="63.9" cy="256.9" r="2.1"/><circle cx="169.4" cy="189.8" r="2.1"/><circle cx="141" cy="208.5" r="2.1"/><circle cx="122.1" cy="220" r="2.1"/><circle cx="128.3" cy="223.8" r="2.1"/><circle cx="134.1" cy="205.5" r="2.1"/><circle cx="58.8" cy="261.9" r="2.1"/><circle cx="95.9" cy="234.8" r="2.1"/><circle cx="67.2" cy="258.5" r="2.1"/><circle cx="144.1" cy="193" r="2.1"/><circle cx="112.4" cy="218.2" r="2.1"/><circle cx="170.1" cy="183.5" r="2.1"/><circle cx="56.6" cy="268.9" r="2.1"/><circle cx="159.6" cy="197.4" r="2.1"/><circle cx="88.3" cy="237.7" r="2.1"/><circle cx="78.8" cy="248.7" r="2.1"/><circle cx="96.6" cy="246.9" r="2.1"/><circle cx="63.9" cy="255" r="2.1"/><circle cx="121.7" cy="228.4" r="2.1"/><circle cx="117.4" cy="218.1" r="2.1"/><circle cx="158.3" cy="202.9" r="2.1"/><circle cx="124.2" cy="223.8" r="2.1"/><circle cx="33.6" cy="281.7" r="2.1"/><circle cx="129.6" cy="216.3" r="2.1"/><circle cx="59.6" cy="258.8" r="2.1"/><circle cx="62" cy="258.6" r="2.1"/><circle cx="91.9" cy="250.2" r="2.1"/><circle cx="85" cy="242.2" r="2.1"/><circle cx="90.5" cy="224.6" r="2.1"/><circle cx="129.8" cy="204.9" r="2.1"/><circle cx="109.3" cy="213.3" r="2.1"/><circle cx="101.5" cy="235.6" r="2.1"/><circle cx="37.1" cy="277.7" r="2.1"/><circle cx="91" cy="232.3" r="2.1"/><circle cx="63.8" cy="250.2" r="2.1"/><circle cx="34.2" cy="281" r="2.1"/><circle cx="123.8" cy="224.2" r="2.1"/><circle cx="147.9" cy="193.3" r="2.1"/><circle cx="112" cy="223.9" r="2.1"/><circle cx="46.9" cy="276.2" r="2.1"/><circle cx="120.2" cy="216.3" r="2.1"/><circle cx="144.7" cy="216.1" r="2.1"/><circle cx="55.5" cy="269.9" r="2.1"/><circle cx="121.4" cy="209.8" r="2.1"/><circle cx="159" cy="203.1" r="2.1"/><circle cx="152.5" cy="187.2" r="2.1"/><circle cx="83.8" cy="242.6" r="2.1"/><circle cx="57.1" cy="270.5" r="2.1"/><circle cx="36.9" cy="274.2" r="2.1"/><circle cx="130.3" cy="214" r="2.1"/><circle cx="54.8" cy="271.9" r="2.1"/><circle cx="110.6" cy="234" r="2.1"/><circle cx="127.5" cy="207.2" r="2.1"/><circle cx="75.3" cy="259.2" r="2.1"/><circle cx="72.2" cy="244.9" r="2.1"/><circle cx="114.4" cy="229.5" r="2.1"/><circle cx="63.1" cy="257.2" r="2.1"/><circle cx="70.3" cy="245.1" r="2.1"/><circle cx="156.5" cy="200" r="2.1"/><circle cx="168" cy="189.1" r="2.1"/><circle cx="98.6" cy="245.1" r="2.1"/><circle cx="65.3" cy="251.9" r="2.1"/><circle cx="47.2" cy="269.3" r="2.1"/><circle cx="170.4" cy="188.1" r="2.1"/><circle cx="145.1" cy="203" r="2.1"/><circle cx="133.4" cy="212.8" r="2.1"/><circle cx="61.5" cy="261.1" r="2.1"/><circle cx="54.5" cy="261" r="2.1"/><circle cx="63.4" cy="259.4" r="2.1"/><circle cx="35.5" cy="279.2" r="2.1"/><circle cx="76.3" cy="243.5" r="2.1"/><circle cx="123.3" cy="213.2" r="2.1"/><circle cx="33.6" cy="281.6" r="2.1"/><circle cx="46" cy="271.7" r="2.1"/><circle cx="103.7" cy="236.4" r="2.1"/><circle cx="170" cy="187.8" r="2.1"/><circle cx="121.3" cy="228" r="2.1"/><circle cx="139.1" cy="201.6" r="2.1"/><circle cx="74.2" cy="257.5" r="2.1"/><circle cx="155.7" cy="197.1" r="2.1"/><circle cx="146.8" cy="204.2" r="2.1"/><circle cx="80.1" cy="246.6" r="2.1"/><circle cx="166.5" cy="186" r="2.1"/><circle cx="76" cy="249.1" r="2.1"/><circle cx="156.7" cy="197.4" r="2.1"/><circle cx="142" cy="216.3" r="2.1"/><circle cx="171.8" cy="186.1" r="2.1"/><circle cx="153.7" cy="207.7" r="2.1"/><circle cx="55.5" cy="258.7" r="2.1"/><circle cx="104.7" cy="234.5" r="2.1"/><circle cx="133.9" cy="198.1" r="2.1"/><circle cx="87.3" cy="246.8" r="2.1"/><circle cx="41.9" cy="273.8" r="2.1"/><circle cx="96.1" cy="246.1" r="2.1"/><circle cx="96.3" cy="241.4" r="2.1"/><circle cx="33.2" cy="282.1" r="2.1"/><circle cx="94.2" cy="246.5" r="2.1"/><circle cx="124" cy="231.2" r="2.1"/><circle cx="63.6" cy="252.2" r="2.1"/><circle cx="72.8" cy="237.8" r="2.1"/><circle cx="75" cy="254.9" r="2.1"/><circle cx="120.6" cy="224.6" r="2.1"/><circle cx="116.8" cy="208.3" r="2.1"/><circle cx="62.3" cy="261.6" r="2.1"/><circle cx="155.8" cy="192.3" r="2.1"/><circle cx="82.6" cy="239.7" r="2.1"/><circle cx="163.6" cy="199.7" r="2.1"/><circle cx="101.5" cy="224.6" r="2.1"/><circle cx="106.1" cy="232" r="2.1"/><circle cx="110.3" cy="224.4" r="2.1"/><circle cx="106.4" cy="229.7" r="2.1"/><circle cx="110" cy="219.8" r="2.1"/><circle cx="122.7" cy="216.8" r="2.1"/><circle cx="102.1" cy="236.1" r="2.1"/><circle cx="62.5" cy="264.7" r="2.1"/><circle cx="143.5" cy="217.3" r="2.1"/><circle cx="112.8" cy="216.1" r="2.1"/><circle cx="35.2" cy="279.5" r="2.1"/><circle cx="112.8" cy="230.9" r="2.1"/><circle cx="96.9" cy="243.2" r="2.1"/><circle cx="130.2" cy="206.1" r="2.1"/><circle cx="85.8" cy="244.9" r="2.1"/><circle cx="113.7" cy="219.3" r="2.1"/><circle cx="147.6" cy="209.5" r="2.1"/><circle cx="163.5" cy="193.5" r="2.1"/><circle cx="96.7" cy="231.9" r="2.1"/><circle cx="137.7" cy="211.8" r="2.1"/><circle cx="135.3" cy="205.5" r="2.1"/><circle cx="44.8" cy="274.3" r="2.1"/><circle cx="40.3" cy="275" r="2.1"/><circle cx="86.3" cy="233.5" r="2.1"/><circle cx="74.5" cy="242.2" r="2.1"/><circle cx="86.6" cy="252.5" r="2.1"/><circle cx="143" cy="202.9" r="2.1"/><circle cx="98.6" cy="234" r="2.1"/><circle cx="97.5" cy="229.3" r="2.1"/><circle cx="60.3" cy="260.2" r="2.1"/><circle cx="125.5" cy="217.5" r="2.1"/><circle cx="125.3" cy="222" r="2.1"/><circle cx="54.8" cy="266" r="2.1"/><circle cx="81" cy="238" r="2.1"/><circle cx="124.7" cy="212.1" r="2.1"/><circle cx="87.8" cy="244" r="2.1"/><circle cx="132.4" cy="218.7" r="2.1"/><circle cx="95.2" cy="247.4" r="2.1"/><circle cx="37.7" cy="274.9" r="2.1"/><circle cx="115.7" cy="229.8" r="2.1"/><circle cx="166.3" cy="191.6" r="2.1"/><circle cx="116.7" cy="209.4" r="2.1"/><circle cx="132.5" cy="202.3" r="2.1"/><circle cx="79.6" cy="257.7" r="2.1"/><circle cx="128.1" cy="211.1" r="2.1"/><circle cx="117.2" cy="229.8" r="2.1"/><circle cx="79.2" cy="249.4" r="2.1"/><circle cx="41" cy="276" r="2.1"/><circle cx="164.2" cy="189.9" r="2.1"/><circle cx="149.8" cy="203.3" r="2.1"/><circle cx="91.6" cy="240.6" r="2.1"/><circle cx="44.2" cy="273" r="2.1"/><circle cx="111.9" cy="222.8" r="2.1"/><circle cx="91" cy="250.4" r="2.1"/><circle cx="52.4" cy="270" r="2.1"/><circle cx="118.8" cy="222.2" r="2.1"/><circle cx="136.4" cy="214.7" r="2.1"/><circle cx="91.5" cy="247.6" r="2.1"/><circle cx="86.9" cy="233.2" r="2.1"/><circle cx="92" cy="237.6" r="2.1"/><circle cx="136.5" cy="197.5" r="2.1"/><circle cx="85.6" cy="237.2" r="2.1"/><circle cx="152.1" cy="193" r="2.1"/><circle cx="51.3" cy="273.6" r="2.1"/><circle cx="70.7" cy="249.7" r="2.1"/><circle cx="156.9" cy="191.1" r="2.1"/><circle cx="70.8" cy="247.9" r="2.1"/><circle cx="64.1" cy="250.5" r="2.1"/><circle cx="102.3" cy="234.8" r="2.1"/><circle cx="155.5" cy="199" r="2.1"/><circle cx="37.5" cy="277.8" r="2.1"/><circle cx="148.5" cy="189.9" r="2.1"/><circle cx="54.3" cy="266.3" r="2.1"/><circle cx="72.5" cy="256.9" r="2.1"/><circle cx="58.5" cy="263.6" r="2.1"/><circle cx="141" cy="201" r="2.1"/><circle cx="96.1" cy="230.4" r="2.1"/><circle cx="94.1" cy="227.7" r="2.1"/><circle cx="111.1" cy="214.8" r="2.1"/><circle cx="83.2" cy="246.2" r="2.1"/><circle cx="150.9" cy="197.9" r="2.1"/><circle cx="143.7" cy="209.1" r="2.1"/><circle cx="121.2" cy="231.6" r="2.1"/><circle cx="94.8" cy="236.2" r="2.1"/><circle cx="89.1" cy="244.3" r="2.1"/><circle cx="65.6" cy="265.2" r="2.1"/><circle cx="62.1" cy="264.4" r="2.1"/><circle cx="52.4" cy="272.6" r="2.1"/><circle cx="153.3" cy="200.1" r="2.1"/><circle cx="78.9" cy="259.1" r="2.1"/><circle cx="98.3" cy="234.9" r="2.1"/><circle cx="142.7" cy="207.1" r="2.1"/><circle cx="161.8" cy="185.7" r="2.1"/><circle cx="67.9" cy="253.5" r="2.1"/><circle cx="158.3" cy="204.3" r="2.1"/><circle cx="150.2" cy="189.6" r="2.1"/><circle cx="97.7" cy="240.6" r="2.1"/><circle cx="96.3" cy="235" r="2.1"/><circle cx="96.8" cy="233.4" r="2.1"/><circle cx="74.6" cy="259.9" r="2.1"/><circle cx="112" cy="222.6" r="2.1"/><circle cx="133.1" cy="221.3" r="2.1"/><circle cx="80.9" cy="244.3" r="2.1"/><circle cx="85.9" cy="240.4" r="2.1"/><circle cx="79" cy="245.8" r="2.1"/><circle cx="123.2" cy="213.6" r="2.1"/><circle cx="114.7" cy="234.6" r="2.1"/><circle cx="120.6" cy="214.1" r="2.1"/><circle cx="83.8" cy="240.5" r="2.1"/><circle cx="132.4" cy="209.6" r="2.1"/><circle cx="99.3" cy="226.4" r="2.1"/><circle cx="41.5" cy="272.6" r="2.1"/><circle cx="60.9" cy="254.6" r="2.1"/><circle cx="116.5" cy="229.6" r="2.1"/><circle cx="142.2" cy="205.8" r="2.1"/><circle cx="107" cy="234.1" r="2.1"/><circle cx="110.3" cy="220.3" r="2.1"/><circle cx="151.2" cy="199.3" r="2.1"/><circle cx="110" cy="225.3" r="2.1"/><circle cx="147" cy="194.6" r="2.1"/><circle cx="127.3" cy="227.1" r="2.1"/><circle cx="155.8" cy="191.3" r="2.1"/><circle cx="53.6" cy="265.8" r="2.1"/><circle cx="59.6" cy="262.4" r="2.1"/><circle cx="134" cy="199.8" r="2.1"/><circle cx="134.6" cy="205.1" r="2.1"/><circle cx="89.9" cy="249.9" r="2.1"/><circle cx="75.2" cy="257.7" r="2.1"/><circle cx="168.5" cy="189" r="2.1"/><circle cx="90.5" cy="234.9" r="2.1"/><circle cx="108.9" cy="230.5" r="2.1"/><circle cx="47.8" cy="270.6" r="2.1"/><circle cx="108.7" cy="223.4" r="2.1"/><circle cx="110.5" cy="222.4" r="2.1"/><circle cx="99.9" cy="228.9" r="2.1"/><circle cx="68.7" cy="249" r="2.1"/><circle cx="135.9" cy="197.4" r="2.1"/><circle cx="106.7" cy="215.1" r="2.1"/><circle cx="117" cy="226.6" r="2.1"/><circle cx="140.5" cy="213.2" r="2.1"/><circle cx="83.6" cy="236.3" r="2.1"/><circle cx="74.2" cy="255.8" r="2.1"/><circle cx="146.7" cy="189.5" r="2.1"/><circle cx="93.4" cy="229.4" r="2.1"/><circle cx="80.4" cy="243.3" r="2.1"/><circle cx="73.3" cy="252.8" r="2.1"/><circle cx="62.7" cy="261.4" r="2.1"/><circle cx="74.6" cy="247.8" r="2.1"/><circle cx="111.8" cy="225.8" r="2.1"/><circle cx="124.6" cy="224.1" r="2.1"/><circle cx="38.1" cy="275" r="2.1"/><circle cx="109.8" cy="217" r="2.1"/><circle cx="42.8" cy="274.2" r="2.1"/><circle cx="77" cy="242.3" r="2.1"/><circle cx="38.8" cy="274.7" r="2.1"/><circle cx="60.9" cy="263" r="2.1"/><circle cx="67.5" cy="250.9" r="2.1"/><circle cx="136.8" cy="204.8" r="2.1"/><circle cx="81" cy="257.5" r="2.1"/><circle cx="98.7" cy="244.2" r="2.1"/><circle cx="97" cy="246.9" r="2.1"/><circle cx="113.9" cy="216.5" r="2.1"/><circle cx="129.2" cy="201.5" r="2.1"/><circle cx="108.6" cy="226.8" r="2.1"/><circle cx="49.2" cy="272.6" r="2.1"/><circle cx="122.8" cy="225.4" r="2.1"/><circle cx="121.5" cy="217.7" r="2.1"/><circle cx="135.8" cy="197.9" r="2.1"/><circle cx="66.7" cy="263.9" r="2.1"/><circle cx="78.8" cy="256.7" r="2.1"/><circle cx="52" cy="272.8" r="2.1"/><circle cx="150.3" cy="203.4" r="2.1"/><circle cx="39.6" cy="275.6" r="2.1"/><circle cx="115.3" cy="212.2" r="2.1"/><circle cx="47.9" cy="267.1" r="2.1"/><circle cx="118.4" cy="212.3" r="2.1"/><circle cx="163.5" cy="189" r="2.1"/><circle cx="135.6" cy="195.9" r="2.1"/><circle cx="83.5" cy="254.2" r="2.1"/><circle cx="53.5" cy="268.4" r="2.1"/><circle cx="86.3" cy="235.5" r="2.1"/><circle cx="45.3" cy="270.2" r="2.1"/><circle cx="93.3" cy="249.6" r="2.1"/><circle cx="149.6" cy="193.4" r="2.1"/><circle cx="54.3" cy="264.3" r="2.1"/><circle cx="132.7" cy="213" r="2.1"/><circle cx="153.3" cy="185.9" r="2.1"/><circle cx="99.3" cy="232.5" r="2.1"/><circle cx="116.8" cy="218" r="2.1"/><circle cx="78.8" cy="258.4" r="2.1"/><circle cx="67.9" cy="246.4" r="2.1"/><circle cx="33.7" cy="281.4" r="2.1"/><circle cx="105.3" cy="228.8" r="2.1"/><circle cx="64" cy="265" r="2.1"/><circle cx="142.6" cy="200.8" r="2.1"/><circle cx="64.5" cy="255.2" r="2.1"/><circle cx="42.6" cy="271.7" r="2.1"/><circle cx="145.6" cy="197.5" r="2.1"/><circle cx="67.5" cy="263" r="2.1"/><circle cx="140" cy="205.6" r="2.1"/><circle cx="104.3" cy="231.3" r="2.1"/><circle cx="152.9" cy="206.4" r="2.1"/><circle cx="59.5" cy="258.4" r="2.1"/><circle cx="33.3" cy="282.3" r="2.1"/><circle cx="116.4" cy="226.4" r="2.1"/><circle cx="55.1" cy="260.2" r="2.1"/><circle cx="158.5" cy="194" r="2.1"/><circle cx="130.3" cy="217.8" r="2.1"/><circle cx="119" cy="223.5" r="2.1"/><circle cx="50.9" cy="269.1" r="2.1"/><circle cx="112.1" cy="236.6" r="2.1"/><circle cx="164.6" cy="198.3" r="2.1"/><circle cx="107.5" cy="236.1" r="2.1"/><circle cx="110.4" cy="227.6" r="2.1"/><circle cx="86.4" cy="247.9" r="2.1"/><circle cx="82.5" cy="254.4" r="2.1"/><circle cx="162.1" cy="195.2" r="2.1"/><circle cx="127.6" cy="226.5" r="2.1"/><circle cx="116.9" cy="229.2" r="2.1"/><circle cx="140.7" cy="195.2" r="2.1"/><circle cx="139.8" cy="210.4" r="2.1"/><circle cx="116.2" cy="232.9" r="2.1"/><circle cx="69.7" cy="246.3" r="2.1"/><circle cx="106.1" cy="234.2" r="2.1"/><circle cx="145" cy="195.7" r="2.1"/><circle cx="102.9" cy="237.3" r="2.1"/><circle cx="67.8" cy="246.7" r="2.1"/><circle cx="121.3" cy="228.4" r="2.1"/><circle cx="129.8" cy="201.4" r="2.1"/><circle cx="89.6" cy="235.4" r="2.1"/><circle cx="72.6" cy="245.2" r="2.1"/><circle cx="158.8" cy="186.7" r="2.1"/><circle cx="165.4" cy="199.5" r="2.1"/><circle cx="100.8" cy="240.6" r="2.1"/><circle cx="109.5" cy="227.4" r="2.1"/><circle cx="158.9" cy="194.5" r="2.1"/><circle cx="94.1" cy="232.2" r="2.1"/><circle cx="79.6" cy="244.9" r="2.1"/><circle cx="158.6" cy="185.1" r="2.1"/><circle cx="102.5" cy="215.8" r="2.1"/><circle cx="72" cy="259.7" r="2.1"/><circle cx="154.7" cy="207.3" r="2.1"/><circle cx="72.1" cy="246.7" r="2.1"/><circle cx="114.3" cy="233.4" r="2.1"/><circle cx="92.4" cy="246.6" r="2.1"/><circle cx="147.3" cy="194.8" r="2.1"/><circle cx="62.8" cy="251.7" r="2.1"/><circle cx="53.4" cy="266.2" r="2.1"/><circle cx="49.9" cy="274.8" r="2.1"/><circle cx="159.1" cy="197.3" r="2.1"/><circle cx="78.7" cy="240.8" r="2.1"/><circle cx="119.5" cy="228.7" r="2.1"/><circle cx="55.7" cy="271.4" r="2.1"/><circle cx="168.7" cy="192.9" r="2.1"/><circle cx="114.1" cy="221.1" r="2.1"/><circle cx="134.7" cy="214.8" r="2.1"/><circle cx="157.3" cy="188.6" r="2.1"/><circle cx="113.3" cy="231.9" r="2.1"/><circle cx="53.2" cy="270.7" r="2.1"/><circle cx="170.6" cy="183" r="2.1"/><circle cx="162.2" cy="206" r="2.1"/><circle cx="97" cy="241.3" r="2.1"/><circle cx="165.2" cy="192.7" r="2.1"/><circle cx="120" cy="210.4" r="2.1"/><circle cx="102.6" cy="227.9" r="2.1"/><circle cx="163.4" cy="182.4" r="2.1"/><circle cx="41.7" cy="275.9" r="2.1"/><circle cx="144" cy="207.4" r="2.1"/><circle cx="143" cy="196.1" r="2.1"/><circle cx="34.1" cy="281.2" r="2.1"/><circle cx="85.8" cy="253.4" r="2.1"/><circle cx="91.1" cy="247" r="2.1"/><circle cx="136.4" cy="209.8" r="2.1"/><circle cx="83.2" cy="238.3" r="2.1"/><circle cx="149.6" cy="192.7" r="2.1"/><circle cx="56.5" cy="266.9" r="2.1"/><circle cx="158.9" cy="200.2" r="2.1"/><circle cx="43.7" cy="276.8" r="2.1"/><circle cx="54.1" cy="271.8" r="2.1"/><circle cx="76.2" cy="250.4" r="2.1"/><circle cx="69.7" cy="259.7" r="2.1"/><circle cx="166.5" cy="197.1" r="2.1"/><circle cx="138.6" cy="212.5" r="2.1"/><circle cx="58.2" cy="267.8" r="2.1"/><circle cx="142.8" cy="205.9" r="2.1"/><circle cx="75.8" cy="252.9" r="2.1"/><circle cx="49.2" cy="263.7" r="2.1"/><circle cx="139.7" cy="194.9" r="2.1"/><circle cx="98.7" cy="226.5" r="2.1"/><circle cx="106.3" cy="236.6" r="2.1"/><circle cx="33.8" cy="281.6" r="2.1"/><circle cx="56.4" cy="271" r="2.1"/><circle cx="36.3" cy="277.6" r="2.1"/><circle cx="136.5" cy="211.3" r="2.1"/><circle cx="146.4" cy="204.2" r="2.1"/><circle cx="88.5" cy="237.9" r="2.1"/><circle cx="149.2" cy="214.9" r="2.1"/><circle cx="97.5" cy="231" r="2.1"/><circle cx="127" cy="211.4" r="2.1"/><circle cx="103" cy="237" r="2.1"/><circle cx="129.5" cy="224.5" r="2.1"/><circle cx="126.2" cy="215.2" r="2.1"/><circle cx="167.2" cy="189.2" r="2.1"/><circle cx="140.4" cy="200.1" r="2.1"/><circle cx="163.5" cy="195.3" r="2.1"/><circle cx="138" cy="209.5" r="2.1"/><circle cx="82.9" cy="253.3" r="2.1"/><circle cx="151.9" cy="191.9" r="2.1"/><circle cx="143.2" cy="209.2" r="2.1"/><circle cx="142.6" cy="207.2" r="2.1"/><circle cx="157.8" cy="196.4" r="2.1"/><circle cx="77.4" cy="249.6" r="2.1"/><circle cx="56.2" cy="264.9" r="2.1"/><circle cx="55.4" cy="264.1" r="2.1"/><circle cx="122.2" cy="205.2" r="2.1"/><circle cx="121.4" cy="213.3" r="2.1"/><circle cx="91.1" cy="248.4" r="2.1"/><circle cx="151.4" cy="204.8" r="2.1"/><circle cx="82.5" cy="240.7" r="2.1"/><circle cx="78.2" cy="253.2" r="2.1"/><circle cx="54.8" cy="271.1" r="2.1"/><circle cx="169.3" cy="191.9" r="2.1"/><circle cx="108.8" cy="228.8" r="2.1"/><circle cx="100.1" cy="243.3" r="2.1"/><circle cx="100.2" cy="231" r="2.1"/><circle cx="123.2" cy="207.9" r="2.1"/><circle cx="108.9" cy="225.8" r="2.1"/><circle cx="34.4" cy="280.8" r="2.1"/><circle cx="69.3" cy="241.9" r="2.1"/><circle cx="73.3" cy="262.2" r="2.1"/><circle cx="123.7" cy="206.3" r="2.1"/><circle cx="82.9" cy="251.2" r="2.1"/><circle cx="53" cy="262.3" r="2.1"/><circle cx="71.3" cy="238.2" r="2.1"/><circle cx="42.1" cy="273.9" r="2.1"/><circle cx="111.1" cy="224.4" r="2.1"/><circle cx="67.4" cy="250.2" r="2.1"/><circle cx="76" cy="242.6" r="2.1"/></g><clipPath id="cpd"><rect x="33.2" y="179.1" width="139.7" height="104.3"/></clipPath><line clip-path="url(#cpd)" x1="33.2" y1="283.4" x2="172.9" y2="182" stroke="#ff0000" stroke-width="3.2"/><rect x="33.2" y="179.1" width="139.7" height="104.3" fill="none" stroke="#8c8c8c" stroke-width="0.9"/><path d="M33.2 283.4v-1.4M33.2 179.1v1.4M33.2 283.4h1.4M172.9 283.4h-1.4M73.6 283.4v-1.4M73.6 179.1v1.4M33.2 253.4h1.4M172.9 253.4h-1.4M113.9 283.4v-1.4M113.9 179.1v1.4M33.2 223.4h1.4M172.9 223.4h-1.4M154.3 283.4v-1.4M154.3 179.1v1.4M33.2 193.4h1.4M172.9 193.4h-1.4" stroke="#8c8c8c" stroke-width="0.8" fill="none"/><g font-family="'Liberation Serif', 'DejaVu Serif', serif" font-weight="bold" font-size="10.2" fill="#000"><text x="33.2" y="295.7" text-anchor="middle">0</text><text x="30.4" y="286.9" text-anchor="end">0</text><text x="73.6" y="295.7" text-anchor="middle">50</text><text x="30.4" y="256.9" text-anchor="end">50</text><text x="113.9" y="295.7" text-anchor="middle">100</text><text x="30.4" y="226.9" text-anchor="end">100</text><text x="154.3" y="295.7" text-anchor="middle">150</text><text x="30.4" y="196.9" text-anchor="end">150</text><text x="102.2" y="308.1" text-anchor="middle" font-size="10.8">PV Power Test (W)</text><text transform="translate(11.4 231.9) rotate(-90)" text-anchor="middle" font-size="10.82">PV Power Forecast (W)</text></g><g stroke="#efefef" stroke-width="0.8"><line x1="258.8" y1="179.1" x2="258.8" y2="283.3"/><line x1="218.5" y1="251.2" x2="358.3" y2="251.2"/><line x1="299.2" y1="179.1" x2="299.2" y2="283.3"/><line x1="218.5" y1="219.2" x2="358.3" y2="219.2"/><line x1="339.5" y1="179.1" x2="339.5" y2="283.3"/><line x1="218.5" y1="187.1" x2="358.3" y2="187.1"/></g><g fill="#00cca2" stroke="#0000ff" stroke-width="1.2"><circle cx="235.9" cy="265.8" r="2.1"/><circle cx="320.7" cy="205.1" r="2.1"/><circle cx="237.4" cy="264.5" r="2.1"/><circle cx="260.4" cy="249.7" r="2.1"/><circle cx="356.7" cy="179.9" r="2.1"/><circle cx="260.8" cy="249.3" r="2.1"/><circle cx="279.7" cy="235.6" r="2.1"/><circle cx="256.5" cy="252.7" r="2.1"/><circle cx="323.9" cy="202.3" r="2.1"/><circle cx="320.3" cy="205.3" r="2.1"/><circle cx="258.2" cy="251.1" r="2.1"/><circle cx="308.2" cy="214.5" r="2.1"/><circle cx="286.3" cy="230.9" r="2.1"/><circle cx="323" cy="203.2" r="2.1"/><circle cx="313.9" cy="210.2" r="2.1"/><circle cx="355.3" cy="180.4" r="2.1"/><circle cx="326.4" cy="200.9" r="2.1"/><circle cx="233" cy="268.6" r="2.1"/><circle cx="295.5" cy="224" r="2.1"/><circle cx="259" cy="250.5" r="2.1"/><circle cx="314.7" cy="209.3" r="2.1"/><circle cx="227" cy="273.6" r="2.1"/><circle cx="296.8" cy="223" r="2.1"/><circle cx="307" cy="215.4" r="2.1"/><circle cx="219.2" cy="282.4" r="2.1"/><circle cx="338.1" cy="192.2" r="2.1"/><circle cx="272.5" cy="241.1" r="2.1"/><circle cx="241.8" cy="261" r="2.1"/><circle cx="342.2" cy="189.1" r="2.1"/><circle cx="341.3" cy="190.1" r="2.1"/><circle cx="228.4" cy="272.6" r="2.1"/><circle cx="248.1" cy="257.5" r="2.1"/><circle cx="273.3" cy="240.5" r="2.1"/><circle cx="339.8" cy="190.8" r="2.1"/><circle cx="317.1" cy="207.7" r="2.1"/><circle cx="350.3" cy="183.7" r="2.1"/><circle cx="328" cy="199.5" r="2.1"/><circle cx="287" cy="230.3" r="2.1"/><circle cx="228" cy="273" r="2.1"/><circle cx="263.3" cy="247.6" r="2.1"/><circle cx="226.1" cy="274.7" r="2.1"/><circle cx="236.8" cy="265" r="2.1"/><circle cx="256.1" cy="252.8" r="2.1"/><circle cx="306.7" cy="215.8" r="2.1"/><circle cx="290.4" cy="227.9" r="2.1"/><circle cx="304.2" cy="217.7" r="2.1"/><circle cx="343.3" cy="188.4" r="2.1"/><circle cx="240.1" cy="262.2" r="2.1"/><circle cx="267.2" cy="244.7" r="2.1"/><circle cx="338.9" cy="191.5" r="2.1"/><circle cx="257.8" cy="251.3" r="2.1"/><circle cx="286.5" cy="230.8" r="2.1"/><circle cx="235.3" cy="266.6" r="2.1"/><circle cx="243.1" cy="260.1" r="2.1"/><circle cx="340.9" cy="190.3" r="2.1"/><circle cx="347.4" cy="185.4" r="2.1"/><circle cx="328.4" cy="199" r="2.1"/><circle cx="349.8" cy="183.7" r="2.1"/><circle cx="303.8" cy="217.9" r="2.1"/><circle cx="332.1" cy="196.6" r="2.1"/><circle cx="321.4" cy="204.5" r="2.1"/><circle cx="268.9" cy="243.5" r="2.1"/><circle cx="291.5" cy="226.8" r="2.1"/><circle cx="254.7" cy="253.8" r="2.1"/><circle cx="336" cy="193.7" r="2.1"/><circle cx="322.3" cy="203.9" r="2.1"/><circle cx="233.6" cy="268.1" r="2.1"/><circle cx="227.6" cy="273.2" r="2.1"/><circle cx="279.3" cy="236" r="2.1"/><circle cx="223.8" cy="277.2" r="2.1"/><circle cx="264.7" cy="246.4" r="2.1"/><circle cx="294.7" cy="224.6" r="2.1"/><circle cx="311.5" cy="211.9" r="2.1"/><circle cx="251.3" cy="255.6" r="2.1"/><circle cx="231.4" cy="269.8" r="2.1"/><circle cx="351.3" cy="183" r="2.1"/><circle cx="330" cy="198.1" r="2.1"/><circle cx="341.8" cy="189.7" r="2.1"/><circle cx="263.8" cy="247.3" r="2.1"/><circle cx="288.7" cy="229" r="2.1"/><circle cx="331.6" cy="196.9" r="2.1"/><circle cx="246.7" cy="258" r="2.1"/><circle cx="353.1" cy="182" r="2.1"/><circle cx="261.6" cy="248.8" r="2.1"/><circle cx="333.7" cy="195.4" r="2.1"/><circle cx="253" cy="254.7" r="2.1"/><circle cx="280.1" cy="235.4" r="2.1"/><circle cx="238.6" cy="263.4" r="2.1"/><circle cx="270.1" cy="242.6" r="2.1"/><circle cx="226.5" cy="274.6" r="2.1"/><circle cx="285" cy="231.7" r="2.1"/><circle cx="246.4" cy="258.5" r="2.1"/><circle cx="282.5" cy="233.5" r="2.1"/><circle cx="252.1" cy="255.4" r="2.1"/><circle cx="276.5" cy="237.8" r="2.1"/><circle cx="234.1" cy="267.6" r="2.1"/><circle cx="319.1" cy="206.2" r="2.1"/><circle cx="316.6" cy="208.3" r="2.1"/><circle cx="222.5" cy="278.7" r="2.1"/><circle cx="346.2" cy="186.5" r="2.1"/><circle cx="329.3" cy="198.6" r="2.1"/><circle cx="315.9" cy="208.6" r="2.1"/><circle cx="356.2" cy="180" r="2.1"/><circle cx="237.2" cy="264.9" r="2.1"/><circle cx="220" cy="281.6" r="2.1"/><circle cx="253.5" cy="254.7" r="2.1"/><circle cx="304.6" cy="217.2" r="2.1"/><circle cx="321.9" cy="204" r="2.1"/><circle cx="256.9" cy="252.1" r="2.1"/><circle cx="294" cy="225.2" r="2.1"/><circle cx="229.4" cy="271.6" r="2.1"/><circle cx="269.6" cy="243.1" r="2.1"/><circle cx="262" cy="248.4" r="2.1"/><circle cx="264.3" cy="246.8" r="2.1"/><circle cx="230" cy="271.3" r="2.1"/><circle cx="270.5" cy="242.5" r="2.1"/><circle cx="328.8" cy="199.1" r="2.1"/><circle cx="357.2" cy="179.6" r="2.1"/><circle cx="300.9" cy="220" r="2.1"/><circle cx="254.5" cy="254.2" r="2.1"/><circle cx="270.9" cy="242.2" r="2.1"/><circle cx="318.8" cy="206.5" r="2.1"/><circle cx="218.9" cy="282.7" r="2.1"/><circle cx="337.8" cy="192.7" r="2.1"/><circle cx="269.2" cy="243.5" r="2.1"/><circle cx="222" cy="279.3" r="2.1"/><circle cx="221" cy="280.2" r="2.1"/><circle cx="334.5" cy="194.7" r="2.1"/><circle cx="285.9" cy="231" r="2.1"/><circle cx="258.6" cy="251" r="2.1"/><circle cx="261.1" cy="249.2" r="2.1"/><circle cx="235.6" cy="266" r="2.1"/><circle cx="316.3" cy="208.3" r="2.1"/><circle cx="333.3" cy="195.5" r="2.1"/><circle cx="237.8" cy="264.1" r="2.1"/><circle cx="229.1" cy="272" r="2.1"/><circle cx="336.4" cy="193.4" r="2.1"/><circle cx="273.7" cy="240.2" r="2.1"/><circle cx="293.2" cy="225.6" r="2.1"/><circle cx="274.6" cy="239.4" r="2.1"/><circle cx="325.7" cy="201.4" r="2.1"/><circle cx="305.4" cy="216.6" r="2.1"/><circle cx="281.4" cy="234.5" r="2.1"/><circle cx="284.6" cy="232.1" r="2.1"/><circle cx="338.6" cy="191.9" r="2.1"/><circle cx="249" cy="257" r="2.1"/><circle cx="230.7" cy="270.5" r="2.1"/><circle cx="345.4" cy="186.8" r="2.1"/><circle cx="339.3" cy="191.2" r="2.1"/><circle cx="295.2" cy="224.3" r="2.1"/><circle cx="224.6" cy="276.3" r="2.1"/><circle cx="242.7" cy="260.4" r="2.1"/><circle cx="319.5" cy="206" r="2.1"/><circle cx="257.3" cy="252.2" r="2.1"/><circle cx="313.5" cy="210.5" r="2.1"/><circle cx="347.9" cy="185.2" r="2.1"/><circle cx="287.4" cy="229.8" r="2.1"/><circle cx="241.4" cy="261.3" r="2.1"/><circle cx="346.7" cy="186" r="2.1"/><circle cx="326" cy="201.2" r="2.1"/><circle cx="285.4" cy="231.4" r="2.1"/><circle cx="305.1" cy="217" r="2.1"/><circle cx="282.2" cy="233.7" r="2.1"/><circle cx="271.3" cy="242" r="2.1"/><circle cx="265.2" cy="246.4" r="2.1"/><circle cx="283.7" cy="232.7" r="2.1"/><circle cx="239" cy="263.3" r="2.1"/><circle cx="239.3" cy="262.7" r="2.1"/><circle cx="297.7" cy="222.7" r="2.1"/><circle cx="318.3" cy="206.9" r="2.1"/><circle cx="250.4" cy="256.2" r="2.1"/><circle cx="263" cy="247.8" r="2.1"/><circle cx="232.5" cy="268.8" r="2.1"/><circle cx="299.3" cy="221" r="2.1"/><circle cx="287.9" cy="229.7" r="2.1"/><circle cx="247.6" cy="257.9" r="2.1"/><circle cx="223.1" cy="277.8" r="2.1"/><circle cx="330.3" cy="197.7" r="2.1"/><circle cx="307.8" cy="215" r="2.1"/><circle cx="342.9" cy="188.7" r="2.1"/><circle cx="283.4" cy="232.8" r="2.1"/><circle cx="315.1" cy="209.2" r="2.1"/><circle cx="345.8" cy="186.6" r="2.1"/><circle cx="231.1" cy="270.2" r="2.1"/><circle cx="249.9" cy="256.5" r="2.1"/><circle cx="308.7" cy="214.3" r="2.1"/><circle cx="224.2" cy="276.7" r="2.1"/><circle cx="296" cy="223.6" r="2.1"/><circle cx="352.6" cy="182.3" r="2.1"/><circle cx="272.8" cy="240.7" r="2.1"/><circle cx="244.4" cy="259.4" r="2.1"/><circle cx="271.7" cy="241.4" r="2.1"/><circle cx="238.3" cy="263.7" r="2.1"/><circle cx="355.7" cy="180.2" r="2.1"/><circle cx="332.5" cy="196.1" r="2.1"/><circle cx="306.2" cy="216" r="2.1"/><circle cx="266.7" cy="245.4" r="2.1"/><circle cx="243.5" cy="259.8" r="2.1"/><circle cx="317.9" cy="207.3" r="2.1"/><circle cx="223.5" cy="277.6" r="2.1"/><circle cx="252.6" cy="255" r="2.1"/><circle cx="268" cy="244.2" r="2.1"/><circle cx="322.8" cy="203.4" r="2.1"/><circle cx="331.2" cy="197.4" r="2.1"/><circle cx="274.8" cy="239.2" r="2.1"/><circle cx="245.8" cy="258.7" r="2.1"/><circle cx="327.2" cy="200" r="2.1"/><circle cx="297.2" cy="223" r="2.1"/><circle cx="301.8" cy="219.4" r="2.1"/><circle cx="274" cy="239.7" r="2.1"/><circle cx="294.3" cy="224.7" r="2.1"/><circle cx="292" cy="226.6" r="2.1"/><circle cx="302.9" cy="218.3" r="2.1"/><circle cx="268.4" cy="243.9" r="2.1"/><circle cx="239.8" cy="262.4" r="2.1"/><circle cx="255.6" cy="253.1" r="2.1"/><circle cx="267.5" cy="244.8" r="2.1"/><circle cx="354.9" cy="181.1" r="2.1"/><circle cx="302.4" cy="218.7" r="2.1"/><circle cx="324.6" cy="201.9" r="2.1"/><circle cx="225.7" cy="275" r="2.1"/><circle cx="351.5" cy="182.5" r="2.1"/><circle cx="344.2" cy="187.6" r="2.1"/><circle cx="281.9" cy="234.1" r="2.1"/><circle cx="312.3" cy="211.3" r="2.1"/><circle cx="300.1" cy="220.7" r="2.1"/><circle cx="326.8" cy="200.4" r="2.1"/><circle cx="276" cy="238.4" r="2.1"/><circle cx="220.3" cy="281.3" r="2.1"/><circle cx="275.3" cy="238.9" r="2.1"/><circle cx="303.4" cy="217.9" r="2.1"/><circle cx="221.3" cy="279.8" r="2.1"/><circle cx="251.7" cy="255.6" r="2.1"/><circle cx="350.8" cy="183.2" r="2.1"/><circle cx="312.6" cy="211.2" r="2.1"/><circle cx="309" cy="214" r="2.1"/><circle cx="353.9" cy="181.3" r="2.1"/><circle cx="266" cy="245.5" r="2.1"/><circle cx="289.9" cy="228" r="2.1"/><circle cx="354.3" cy="181" r="2.1"/><circle cx="253.9" cy="254.2" r="2.1"/><circle cx="290.6" cy="227.5" r="2.1"/><circle cx="272" cy="241.1" r="2.1"/><circle cx="357.6" cy="179.2" r="2.1"/><circle cx="255.2" cy="253.4" r="2.1"/><circle cx="349.6" cy="184" r="2.1"/><circle cx="218.6" cy="283.2" r="2.1"/><circle cx="317.5" cy="207.3" r="2.1"/><circle cx="266.5" cy="245.5" r="2.1"/><circle cx="307.5" cy="215" r="2.1"/><circle cx="259.9" cy="250" r="2.1"/><circle cx="340.5" cy="190.5" r="2.1"/><circle cx="332.9" cy="195.8" r="2.1"/><circle cx="224.9" cy="275.9" r="2.1"/><circle cx="289.5" cy="228.4" r="2.1"/><circle cx="348.3" cy="184.7" r="2.1"/><circle cx="259.4" cy="250.6" r="2.1"/><circle cx="310.6" cy="212.6" r="2.1"/><circle cx="245" cy="259.3" r="2.1"/><circle cx="324.4" cy="202.2" r="2.1"/><circle cx="349" cy="184.2" r="2.1"/><circle cx="247.3" cy="257.8" r="2.1"/><circle cx="348.7" cy="184.4" r="2.1"/><circle cx="242.2" cy="260.7" r="2.1"/><circle cx="234.9" cy="266.8" r="2.1"/><circle cx="309.5" cy="213.6" r="2.1"/><circle cx="352.1" cy="182.6" r="2.1"/><circle cx="345" cy="187" r="2.1"/><circle cx="311.9" cy="211.9" r="2.1"/><circle cx="275.6" cy="238.7" r="2.1"/><circle cx="231.8" cy="269.5" r="2.1"/><circle cx="240.9" cy="261.5" r="2.1"/><circle cx="319.9" cy="205.8" r="2.1"/><circle cx="278.9" cy="236.1" r="2.1"/><circle cx="296.4" cy="223.3" r="2.1"/><circle cx="243.9" cy="259.6" r="2.1"/><circle cx="245.4" cy="258.9" r="2.1"/><circle cx="284.2" cy="232.2" r="2.1"/><circle cx="291.2" cy="227.2" r="2.1"/><circle cx="278.2" cy="236.9" r="2.1"/><circle cx="353.4" cy="181.5" r="2.1"/><circle cx="305.8" cy="216.5" r="2.1"/><circle cx="281" cy="234.8" r="2.1"/><circle cx="277.3" cy="237.4" r="2.1"/><circle cx="226.9" cy="274" r="2.1"/><circle cx="293.6" cy="225.5" r="2.1"/><circle cx="302.2" cy="219.1" r="2.1"/><circle cx="221.8" cy="279.6" r="2.1"/><circle cx="283" cy="233.3" r="2.1"/><circle cx="276.9" cy="237.8" r="2.1"/><circle cx="344.6" cy="187.4" r="2.1"/><circle cx="343.9" cy="187.9" r="2.1"/><circle cx="325.2" cy="201.6" r="2.1"/><circle cx="313.1" cy="210.9" r="2.1"/><circle cx="220.6" cy="280.7" r="2.1"/><circle cx="333.9" cy="195" r="2.1"/><circle cx="292.4" cy="226.3" r="2.1"/><circle cx="277.7" cy="237.1" r="2.1"/><circle cx="249.6" cy="256.6" r="2.1"/><circle cx="233.3" cy="268" r="2.1"/><circle cx="248.7" cy="257.4" r="2.1"/><circle cx="336.8" cy="193.1" r="2.1"/><circle cx="321.1" cy="204.8" r="2.1"/><circle cx="222.8" cy="278.1" r="2.1"/><circle cx="329.7" cy="198.2" r="2.1"/><circle cx="230.3" cy="270.9" r="2.1"/><circle cx="335.7" cy="194" r="2.1"/><circle cx="309.9" cy="213.4" r="2.1"/><circle cx="342.5" cy="188.8" r="2.1"/><circle cx="280.5" cy="235.4" r="2.1"/><circle cx="330.7" cy="197.5" r="2.1"/><circle cx="299.7" cy="221.2" r="2.1"/><circle cx="314.3" cy="209.9" r="2.1"/><circle cx="335.2" cy="194.2" r="2.1"/><circle cx="323.6" cy="202.8" r="2.1"/><circle cx="236.3" cy="265.5" r="2.1"/><circle cx="265.6" cy="245.9" r="2.1"/><circle cx="292.7" cy="226" r="2.1"/><circle cx="278.6" cy="236.7" r="2.1"/><circle cx="262.5" cy="248.2" r="2.1"/><circle cx="298" cy="222.1" r="2.1"/><circle cx="298.4" cy="221.8" r="2.1"/><circle cx="234.3" cy="267.2" r="2.1"/><circle cx="301.4" cy="219.6" r="2.1"/><circle cx="219.6" cy="282.1" r="2.1"/><circle cx="340.1" cy="190.7" r="2.1"/><circle cx="289" cy="228.7" r="2.1"/><circle cx="310.2" cy="213" r="2.1"/><circle cx="298.9" cy="221.6" r="2.1"/><circle cx="347" cy="185.9" r="2.1"/><circle cx="288.3" cy="229.4" r="2.1"/><circle cx="334.9" cy="194.4" r="2.1"/><circle cx="327.6" cy="199.7" r="2.1"/><circle cx="232.2" cy="269.2" r="2.1"/><circle cx="300.5" cy="220.4" r="2.1"/><circle cx="311" cy="212.5" r="2.1"/><circle cx="250.9" cy="256" r="2.1"/><circle cx="337.3" cy="192.6" r="2.1"/><circle cx="240.5" cy="261.9" r="2.1"/><circle cx="228.8" cy="272.4" r="2.1"/><circle cx="225.4" cy="275.3" r="2.1"/><circle cx="315.5" cy="208.8" r="2.1"/></g><clipPath id="cpe"><rect x="218.5" y="179.1" width="139.8" height="104.2"/></clipPath><line clip-path="url(#cpe)" x1="218.5" y1="283.3" x2="354.8" y2="179.3" stroke="#ff0000" stroke-width="3.2"/><rect x="218.5" y="179.1" width="139.8" height="104.2" fill="none" stroke="#8c8c8c" stroke-width="0.9"/><path d="M218.5 283.3v-1.4M218.5 179.1v1.4M218.5 283.3h1.4M358.3 283.3h-1.4M258.8 283.3v-1.4M258.8 179.1v1.4M218.5 251.2h1.4M358.3 251.2h-1.4M299.2 283.3v-1.4M299.2 179.1v1.4M218.5 219.2h1.4M358.3 219.2h-1.4M339.5 283.3v-1.4M339.5 179.1v1.4M218.5 187.1h1.4M358.3 187.1h-1.4" stroke="#8c8c8c" stroke-width="0.8" fill="none"/><g font-family="'Liberation Serif', 'DejaVu Serif', serif" font-weight="bold" font-size="10.2" fill="#000"><text x="218.5" y="295.6" text-anchor="middle">0</text><text x="215.7" y="286.8" text-anchor="end">0</text><text x="258.8" y="295.6" text-anchor="middle">50</text><text x="215.7" y="254.7" text-anchor="end">50</text><text x="299.2" y="295.6" text-anchor="middle">100</text><text x="215.7" y="222.7" text-anchor="end">100</text><text x="339.5" y="295.6" text-anchor="middle">150</text><text x="215.7" y="190.6" text-anchor="end">150</text><text x="287.5" y="308" text-anchor="middle" font-size="10.8">PV Power Test (W)</text><text transform="translate(196.7 231.9) rotate(-90)" text-anchor="middle" font-size="10.82">PV Power Forecast (W)</text></g><g stroke="#efefef" stroke-width="0.8"><line x1="443.9" y1="179.3" x2="443.9" y2="283.3"/><line x1="403.5" y1="250.7" x2="543.5" y2="250.7"/><line x1="484.4" y1="179.3" x2="484.4" y2="283.3"/><line x1="403.5" y1="218.1" x2="543.5" y2="218.1"/><line x1="524.8" y1="179.3" x2="524.8" y2="283.3"/><line x1="403.5" y1="185.6" x2="543.5" y2="185.6"/></g><g fill="#00cca2" stroke="#0000ff" stroke-width="1.2"><circle cx="440.6" cy="250.9" r="2.1"/><circle cx="498.9" cy="209.7" r="2.1"/><circle cx="488" cy="218.3" r="2.1"/><circle cx="476.9" cy="226.3" r="2.1"/><circle cx="496.9" cy="211" r="2.1"/><circle cx="421.9" cy="268" r="2.1"/><circle cx="434.3" cy="256" r="2.1"/><circle cx="416.5" cy="273.2" r="2.1"/><circle cx="495.2" cy="212.4" r="2.1"/><circle cx="503.8" cy="206" r="2.1"/><circle cx="463.2" cy="236.6" r="2.1"/><circle cx="480.6" cy="223.5" r="2.1"/><circle cx="508.3" cy="202.9" r="2.1"/><circle cx="542.1" cy="179.9" r="2.1"/><circle cx="519.2" cy="195.1" r="2.1"/><circle cx="483.8" cy="221.1" r="2.1"/><circle cx="432.9" cy="257.5" r="2.1"/><circle cx="487.5" cy="218.4" r="2.1"/><circle cx="532.5" cy="186.1" r="2.1"/><circle cx="471.3" cy="230.5" r="2.1"/><circle cx="493.6" cy="213.7" r="2.1"/><circle cx="448.3" cy="248.3" r="2.1"/><circle cx="542.6" cy="179.6" r="2.1"/><circle cx="529.1" cy="188" r="2.1"/><circle cx="517.1" cy="196.6" r="2.1"/><circle cx="530" cy="187.7" r="2.1"/><circle cx="440.1" cy="251.2" r="2.1"/><circle cx="504.7" cy="205.7" r="2.1"/><circle cx="471.1" cy="231" r="2.1"/><circle cx="521.2" cy="193.8" r="2.1"/><circle cx="444.6" cy="250.4" r="2.1"/><circle cx="430" cy="260.5" r="2.1"/><circle cx="430.8" cy="259.6" r="2.1"/><circle cx="438.8" cy="251.7" r="2.1"/><circle cx="409.5" cy="277.6" r="2.1"/><circle cx="478.6" cy="225" r="2.1"/><circle cx="533.8" cy="185.3" r="2.1"/><circle cx="450.9" cy="246.3" r="2.1"/><circle cx="532" cy="186.2" r="2.1"/><circle cx="475.5" cy="227.4" r="2.1"/><circle cx="476.6" cy="226.4" r="2.1"/><circle cx="478.1" cy="225.4" r="2.1"/><circle cx="468.9" cy="232.4" r="2.1"/><circle cx="419.7" cy="270.3" r="2.1"/><circle cx="427.6" cy="262.5" r="2.1"/><circle cx="428.3" cy="261.8" r="2.1"/><circle cx="422.6" cy="267.2" r="2.1"/><circle cx="538.1" cy="182.4" r="2.1"/><circle cx="403.7" cy="282.8" r="2.1"/><circle cx="489.1" cy="217" r="2.1"/><circle cx="496.1" cy="212.1" r="2.1"/><circle cx="454.4" cy="243.6" r="2.1"/><circle cx="462" cy="237.5" r="2.1"/><circle cx="439.1" cy="251.6" r="2.1"/><circle cx="468" cy="233" r="2.1"/><circle cx="474.6" cy="228.1" r="2.1"/><circle cx="473.4" cy="229" r="2.1"/><circle cx="482.9" cy="221.9" r="2.1"/><circle cx="450.5" cy="246.5" r="2.1"/><circle cx="520" cy="194.4" r="2.1"/><circle cx="530.4" cy="187.3" r="2.1"/><circle cx="481.8" cy="222.7" r="2.1"/><circle cx="467.6" cy="233.4" r="2.1"/><circle cx="509.1" cy="202.4" r="2.1"/><circle cx="526.7" cy="190" r="2.1"/><circle cx="536.3" cy="183.3" r="2.1"/><circle cx="506.2" cy="204.4" r="2.1"/><circle cx="439.6" cy="251.2" r="2.1"/><circle cx="525.8" cy="190.5" r="2.1"/><circle cx="426.7" cy="263.1" r="2.1"/><circle cx="432.8" cy="258" r="2.1"/><circle cx="411.4" cy="276.6" r="2.1"/><circle cx="460.7" cy="238.5" r="2.1"/><circle cx="531.2" cy="186.8" r="2.1"/><circle cx="511.6" cy="200.4" r="2.1"/><circle cx="521.7" cy="193.4" r="2.1"/><circle cx="430.4" cy="260.2" r="2.1"/><circle cx="517.4" cy="196.2" r="2.1"/><circle cx="408.6" cy="278.2" r="2.1"/><circle cx="505.9" cy="204.8" r="2.1"/><circle cx="463" cy="237" r="2.1"/><circle cx="441.6" cy="250.6" r="2.1"/><circle cx="486.1" cy="219.2" r="2.1"/><circle cx="518.2" cy="195.7" r="2.1"/><circle cx="509.5" cy="202" r="2.1"/><circle cx="415.8" cy="274" r="2.1"/><circle cx="496.4" cy="211.7" r="2.1"/><circle cx="523" cy="192.6" r="2.1"/><circle cx="520.4" cy="194.2" r="2.1"/><circle cx="513.8" cy="199" r="2.1"/><circle cx="447" cy="249.3" r="2.1"/><circle cx="451.6" cy="245.5" r="2.1"/><circle cx="476.1" cy="226.6" r="2.1"/><circle cx="428" cy="262.3" r="2.1"/><circle cx="412.6" cy="275.9" r="2.1"/><circle cx="490.6" cy="215.9" r="2.1"/><circle cx="527.9" cy="189.3" r="2.1"/><circle cx="404.4" cy="281.3" r="2.1"/><circle cx="465" cy="235.2" r="2.1"/><circle cx="533.4" cy="185.3" r="2.1"/><circle cx="456" cy="242.2" r="2.1"/><circle cx="515.8" cy="197.6" r="2.1"/><circle cx="429.2" cy="261.3" r="2.1"/><circle cx="454.8" cy="243.1" r="2.1"/><circle cx="512.1" cy="200.1" r="2.1"/><circle cx="497.6" cy="210.7" r="2.1"/><circle cx="538.6" cy="182.2" r="2.1"/><circle cx="460.5" cy="238.8" r="2.1"/><circle cx="431.1" cy="259.3" r="2.1"/><circle cx="467.3" cy="233.6" r="2.1"/><circle cx="405.8" cy="279.4" r="2.1"/><circle cx="505.5" cy="204.7" r="2.1"/><circle cx="403.5" cy="283.3" r="2.1"/><circle cx="503.4" cy="206.6" r="2.1"/><circle cx="425.7" cy="264.5" r="2.1"/><circle cx="455.5" cy="242.7" r="2.1"/><circle cx="510" cy="201.7" r="2.1"/><circle cx="417.8" cy="272.3" r="2.1"/><circle cx="522.6" cy="192.8" r="2.1"/><circle cx="535.5" cy="184" r="2.1"/><circle cx="532.9" cy="185.7" r="2.1"/><circle cx="435.3" cy="254.9" r="2.1"/><circle cx="525" cy="191.2" r="2.1"/><circle cx="431.7" cy="259.2" r="2.1"/><circle cx="474.9" cy="227.6" r="2.1"/><circle cx="518.8" cy="195.5" r="2.1"/><circle cx="420.3" cy="269.5" r="2.1"/><circle cx="405" cy="279.8" r="2.1"/><circle cx="520.9" cy="194.1" r="2.1"/><circle cx="499.7" cy="209.3" r="2.1"/><circle cx="529.6" cy="188" r="2.1"/><circle cx="459.5" cy="239.1" r="2.1"/><circle cx="446.4" cy="249.5" r="2.1"/><circle cx="526.3" cy="190.3" r="2.1"/><circle cx="414.9" cy="274.5" r="2.1"/><circle cx="512.5" cy="199.8" r="2.1"/><circle cx="495.6" cy="212.2" r="2.1"/><circle cx="507" cy="203.8" r="2.1"/><circle cx="417" cy="273" r="2.1"/><circle cx="451.3" cy="245.8" r="2.1"/><circle cx="498.1" cy="210.3" r="2.1"/><circle cx="435.7" cy="254.5" r="2.1"/><circle cx="473.7" cy="228.6" r="2.1"/><circle cx="502.2" cy="207.5" r="2.1"/><circle cx="449.2" cy="247.5" r="2.1"/><circle cx="507.6" cy="203.7" r="2.1"/><circle cx="488.7" cy="217.3" r="2.1"/><circle cx="420.1" cy="270" r="2.1"/><circle cx="456.4" cy="242.2" r="2.1"/><circle cx="424.9" cy="265" r="2.1"/><circle cx="421.1" cy="268.8" r="2.1"/><circle cx="432" cy="258.7" r="2.1"/><circle cx="419.3" cy="270.8" r="2.1"/><circle cx="516.4" cy="197.1" r="2.1"/><circle cx="410" cy="277.3" r="2.1"/><circle cx="502.6" cy="207.1" r="2.1"/><circle cx="415.3" cy="274.2" r="2.1"/><circle cx="491.6" cy="215.5" r="2.1"/><circle cx="406.8" cy="279" r="2.1"/><circle cx="487" cy="218.7" r="2.1"/><circle cx="455.2" cy="242.9" r="2.1"/><circle cx="450" cy="247.1" r="2.1"/><circle cx="423.8" cy="266.2" r="2.1"/><circle cx="416.1" cy="273.6" r="2.1"/><circle cx="525.4" cy="191" r="2.1"/><circle cx="466.3" cy="234.3" r="2.1"/><circle cx="492.4" cy="214.7" r="2.1"/><circle cx="493.1" cy="214" r="2.1"/><circle cx="472.4" cy="229.8" r="2.1"/><circle cx="485.3" cy="219.8" r="2.1"/><circle cx="482.6" cy="222" r="2.1"/><circle cx="528.3" cy="188.9" r="2.1"/><circle cx="461.2" cy="237.8" r="2.1"/><circle cx="464" cy="235.9" r="2.1"/><circle cx="506.6" cy="204" r="2.1"/><circle cx="500.5" cy="208.5" r="2.1"/><circle cx="466.1" cy="234.4" r="2.1"/><circle cx="515.4" cy="197.9" r="2.1"/><circle cx="407.2" cy="278.7" r="2.1"/><circle cx="513.3" cy="199.2" r="2.1"/><circle cx="510.8" cy="201" r="2.1"/><circle cx="540.7" cy="180.8" r="2.1"/><circle cx="437" cy="253.1" r="2.1"/><circle cx="507.8" cy="203.2" r="2.1"/><circle cx="425.9" cy="264" r="2.1"/><circle cx="539.5" cy="181.4" r="2.1"/><circle cx="457.7" cy="241.3" r="2.1"/><circle cx="436.6" cy="253.4" r="2.1"/><circle cx="498.5" cy="210.1" r="2.1"/><circle cx="489.5" cy="216.6" r="2.1"/><circle cx="510.4" cy="201.5" r="2.1"/><circle cx="512.9" cy="199.5" r="2.1"/><circle cx="474" cy="228.3" r="2.1"/><circle cx="539" cy="181.8" r="2.1"/><circle cx="468.5" cy="232.8" r="2.1"/><circle cx="482.2" cy="222.4" r="2.1"/><circle cx="453.6" cy="244.3" r="2.1"/><circle cx="472.9" cy="229.3" r="2.1"/><circle cx="424" cy="265.9" r="2.1"/><circle cx="458.8" cy="240.1" r="2.1"/><circle cx="497.2" cy="211" r="2.1"/><circle cx="441.1" cy="250.8" r="2.1"/><circle cx="457.2" cy="241.2" r="2.1"/><circle cx="505.1" cy="205.2" r="2.1"/><circle cx="534.1" cy="184.9" r="2.1"/><circle cx="433.2" cy="257.3" r="2.1"/><circle cx="490" cy="216.3" r="2.1"/><circle cx="501.3" cy="208.1" r="2.1"/><circle cx="540.4" cy="181" r="2.1"/><circle cx="419" cy="271" r="2.1"/><circle cx="418.1" cy="271.9" r="2.1"/><circle cx="458.1" cy="240.7" r="2.1"/><circle cx="463.7" cy="236.4" r="2.1"/><circle cx="414" cy="275.3" r="2.1"/><circle cx="494.9" cy="212.9" r="2.1"/><circle cx="421.4" cy="268.5" r="2.1"/><circle cx="530.9" cy="187.1" r="2.1"/><circle cx="436.3" cy="253.8" r="2.1"/><circle cx="480.3" cy="223.9" r="2.1"/><circle cx="409.1" cy="278" r="2.1"/><circle cx="541.6" cy="180.4" r="2.1"/><circle cx="447.3" cy="248.7" r="2.1"/><circle cx="429.5" cy="260.6" r="2.1"/><circle cx="422.2" cy="267.7" r="2.1"/><circle cx="462.5" cy="237.3" r="2.1"/><circle cx="427.1" cy="262.9" r="2.1"/><circle cx="469.3" cy="232.3" r="2.1"/><circle cx="452.1" cy="245.4" r="2.1"/><circle cx="456.8" cy="241.6" r="2.1"/><circle cx="492.7" cy="214.3" r="2.1"/><circle cx="447.9" cy="248.5" r="2.1"/><circle cx="445.1" cy="250.3" r="2.1"/><circle cx="494" cy="213.5" r="2.1"/><circle cx="485.9" cy="219.6" r="2.1"/><circle cx="523.3" cy="192.3" r="2.1"/><circle cx="486.7" cy="219" r="2.1"/><circle cx="404" cy="282.1" r="2.1"/><circle cx="472.2" cy="229.9" r="2.1"/><circle cx="404.2" cy="281.7" r="2.1"/><circle cx="465.6" cy="234.7" r="2.1"/><circle cx="500.1" cy="208.8" r="2.1"/><circle cx="470.1" cy="231.3" r="2.1"/><circle cx="453.1" cy="244.4" r="2.1"/><circle cx="516.6" cy="196.6" r="2.1"/><circle cx="481" cy="223.2" r="2.1"/><circle cx="479.3" cy="224.2" r="2.1"/><circle cx="434.6" cy="255.9" r="2.1"/><circle cx="481.3" cy="222.8" r="2.1"/><circle cx="418.5" cy="271.4" r="2.1"/><circle cx="524.6" cy="191.5" r="2.1"/><circle cx="488.2" cy="217.7" r="2.1"/><circle cx="499.3" cy="209.6" r="2.1"/><circle cx="414.5" cy="274.9" r="2.1"/><circle cx="432.3" cy="258.3" r="2.1"/><circle cx="460" cy="239" r="2.1"/><circle cx="479.8" cy="224.1" r="2.1"/><circle cx="433.6" cy="256.8" r="2.1"/><circle cx="517.8" cy="196.1" r="2.1"/><circle cx="537.7" cy="182.4" r="2.1"/><circle cx="531.7" cy="186.4" r="2.1"/><circle cx="448.7" cy="247.8" r="2.1"/><circle cx="417.3" cy="272.4" r="2.1"/><circle cx="443.1" cy="250.5" r="2.1"/><circle cx="528.8" cy="188.6" r="2.1"/><circle cx="410.4" cy="277.2" r="2.1"/><circle cx="442.1" cy="250.7" r="2.1"/><circle cx="433.9" cy="256.5" r="2.1"/><circle cx="523.8" cy="192.1" r="2.1"/><circle cx="534.8" cy="184.1" r="2.1"/><circle cx="423" cy="266.9" r="2.1"/><circle cx="504.1" cy="205.7" r="2.1"/><circle cx="413.4" cy="275.5" r="2.1"/><circle cx="522.2" cy="193.1" r="2.1"/><circle cx="508.7" cy="202.3" r="2.1"/><circle cx="511.3" cy="200.7" r="2.1"/><circle cx="407.8" cy="278.4" r="2.1"/><circle cx="470.5" cy="231.2" r="2.1"/><circle cx="469.6" cy="231.6" r="2.1"/><circle cx="536" cy="184.1" r="2.1"/><circle cx="408.2" cy="278.3" r="2.1"/><circle cx="484.2" cy="220.8" r="2.1"/><circle cx="461.7" cy="238" r="2.1"/><circle cx="426.4" cy="263.7" r="2.1"/><circle cx="413.1" cy="275.9" r="2.1"/><circle cx="458.5" cy="240.2" r="2.1"/><circle cx="490.2" cy="216.2" r="2.1"/><circle cx="444.2" cy="250.7" r="2.1"/><circle cx="536.6" cy="183" r="2.1"/><circle cx="491.1" cy="215.5" r="2.1"/><circle cx="453.9" cy="243.7" r="2.1"/><circle cx="459.2" cy="239.8" r="2.1"/><circle cx="471.6" cy="230.3" r="2.1"/><circle cx="423.4" cy="266.5" r="2.1"/><circle cx="404.5" cy="280.8" r="2.1"/><circle cx="410.8" cy="276.9" r="2.1"/><circle cx="477.8" cy="225.6" r="2.1"/><circle cx="484.7" cy="220.5" r="2.1"/><circle cx="404.8" cy="280.2" r="2.1"/><circle cx="537.2" cy="183" r="2.1"/><circle cx="438.3" cy="252.2" r="2.1"/><circle cx="491.9" cy="214.9" r="2.1"/><circle cx="405.3" cy="279.5" r="2.1"/><circle cx="500.9" cy="208.3" r="2.1"/><circle cx="412.3" cy="276.5" r="2.1"/><circle cx="539.9" cy="181.2" r="2.1"/><circle cx="501.6" cy="207.6" r="2.1"/><circle cx="425.3" cy="264.8" r="2.1"/><circle cx="534.6" cy="184.5" r="2.1"/><circle cx="428.7" cy="261.6" r="2.1"/><circle cx="445.6" cy="250.2" r="2.1"/><circle cx="424.3" cy="265.4" r="2.1"/><circle cx="411.8" cy="276.4" r="2.1"/><circle cx="436" cy="254.1" r="2.1"/><circle cx="466.8" cy="233.8" r="2.1"/><circle cx="478.9" cy="224.6" r="2.1"/><circle cx="494.4" cy="213.4" r="2.1"/><circle cx="437.5" cy="252.8" r="2.1"/><circle cx="514.2" cy="198.6" r="2.1"/><circle cx="442.6" cy="250.5" r="2.1"/><circle cx="420.7" cy="269.2" r="2.1"/><circle cx="435" cy="255.3" r="2.1"/><circle cx="452.7" cy="244.6" r="2.1"/><circle cx="527.1" cy="189.8" r="2.1"/><circle cx="449.6" cy="247.3" r="2.1"/><circle cx="483.3" cy="221.3" r="2.1"/><circle cx="406.3" cy="279.1" r="2.1"/><circle cx="515" cy="198" r="2.1"/><circle cx="465.2" cy="235.1" r="2.1"/><circle cx="541.3" cy="180.4" r="2.1"/><circle cx="503" cy="206.7" r="2.1"/><circle cx="527.6" cy="189.4" r="2.1"/><circle cx="452.4" cy="244.9" r="2.1"/><circle cx="464.5" cy="235.8" r="2.1"/><circle cx="519.6" cy="194.8" r="2.1"/><circle cx="524.1" cy="191.9" r="2.1"/><circle cx="514.5" cy="198.4" r="2.1"/><circle cx="484.9" cy="220.2" r="2.1"/><circle cx="477.4" cy="226.2" r="2.1"/><circle cx="443.6" cy="250.3" r="2.1"/><circle cx="475.7" cy="227.4" r="2.1"/><circle cx="446.1" cy="249.9" r="2.1"/><circle cx="437.8" cy="252.5" r="2.1"/></g><clipPath id="cpf"><rect x="403.5" y="179.3" width="140" height="104"/></clipPath><line clip-path="url(#cpf)" x1="403.5" y1="283.3" x2="539.3" y2="179.4" stroke="#ff0000" stroke-width="3.2"/><rect x="403.5" y="179.3" width="140" height="104" fill="none" stroke="#8c8c8c" stroke-width="0.9"/><path d="M403.5 283.3v-1.4M403.5 179.3v1.4M403.5 283.3h1.4M543.5 283.3h-1.4M443.9 283.3v-1.4M443.9 179.3v1.4M403.5 250.7h1.4M543.5 250.7h-1.4M484.4 283.3v-1.4M484.4 179.3v1.4M403.5 218.1h1.4M543.5 218.1h-1.4M524.8 283.3v-1.4M524.8 179.3v1.4M403.5 185.6h1.4M543.5 185.6h-1.4" stroke="#8c8c8c" stroke-width="0.8" fill="none"/><g font-family="'Liberation Serif', 'DejaVu Serif', serif" font-weight="bold" font-size="10.2" fill="#000"><text x="403.5" y="295.6" text-anchor="middle">0</text><text x="400.7" y="286.8" text-anchor="end">0</text><text x="443.9" y="295.6" text-anchor="middle">50</text><text x="400.7" y="254.2" text-anchor="end">50</text><text x="484.4" y="295.6" text-anchor="middle">100</text><text x="400.7" y="221.6" text-anchor="end">100</text><text x="524.8" y="295.6" text-anchor="middle">150</text><text x="400.7" y="189.1" text-anchor="end">150</text><text x="472.6" y="308" text-anchor="middle" font-size="10.8">PV Power Test (W)</text><text transform="translate(381.7 232) rotate(-90)" text-anchor="middle" font-size="10.82">PV Power Forecast (W)</text></g><text x="89.5" y="166.7" text-anchor="middle" font-family="'Liberation Serif', 'DejaVu Serif', serif" font-size="11.5" fill="#000">(<tspan font-weight="bold">a</tspan>)</text><text x="276" y="166.7" text-anchor="middle" font-family="'Liberation Serif', 'DejaVu Serif', serif" font-size="11.5" fill="#000">(<tspan font-weight="bold">b</tspan>)</text><text x="461" y="166.7" text-anchor="middle" font-family="'Liberation Serif', 'DejaVu Serif', serif" font-size="11.5" fill="#000">(<tspan font-weight="bold">c</tspan>)</text><text x="90" y="333" text-anchor="middle" font-family="'Liberation Serif', 'DejaVu Serif', serif" font-size="11.5" fill="#000">(<tspan font-weight="bold">d</tspan>)</text><text x="275.3" y="333" text-anchor="middle" font-family="'Liberation Serif', 'DejaVu Serif', serif" font-size="11.5" fill="#000">(<tspan font-weight="bold">e</tspan>)</text><text x="460.4" y="333" text-anchor="middle" font-family="'Liberation Serif', 'DejaVu Serif', serif" font-size="11.5" fill="#000">(<tspan font-weight="bold">f</tspan>)</text></svg></body></html>
